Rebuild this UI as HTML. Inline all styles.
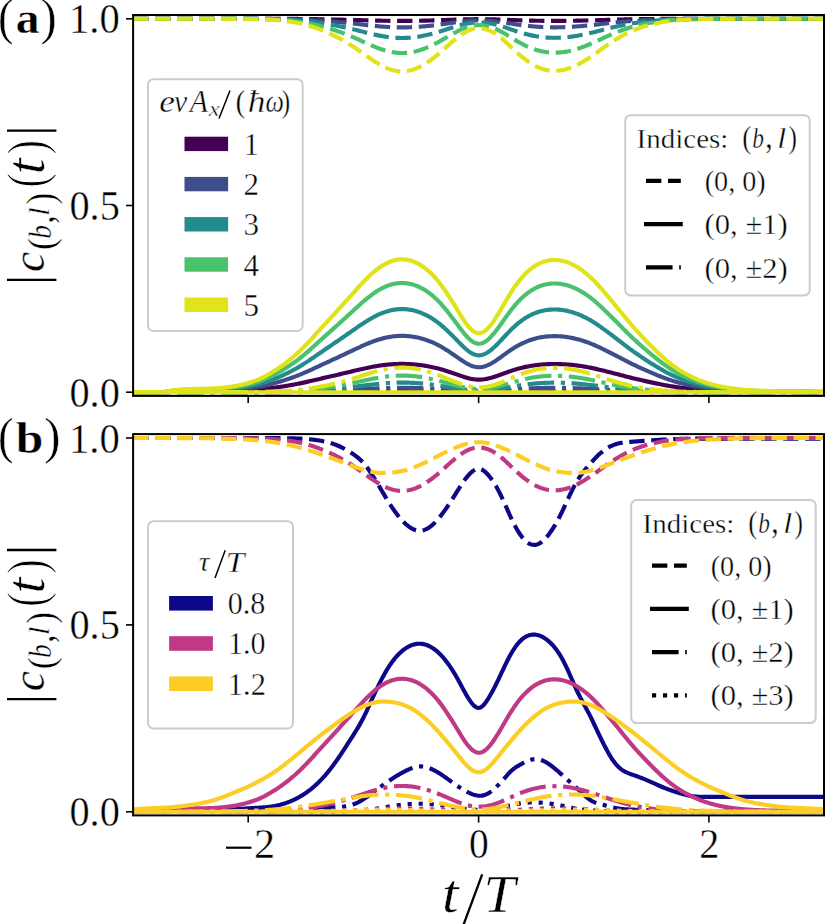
<!DOCTYPE html><html><head><meta charset="utf-8"><style>html,body{margin:0;padding:0;background:#fff;width:825px;height:924px;overflow:hidden}svg{display:block}text{font-family:"Liberation Serif",serif;fill:#000;stroke:#fff;stroke-width:0.4px;paint-order:fill stroke}</style></head><body>
<svg width="825" height="924" viewBox="0 0 825 924">
<defs><clipPath id="ca"><rect x="133.1" y="15.0" width="690.9" height="380.9"/></clipPath>
<clipPath id="cb"><rect x="133.1" y="434.1" width="690.9" height="381.3"/></clipPath></defs>
<g clip-path="url(#ca)"><path d="M133.10,18.75 L134.25,18.75 L135.40,18.75 L136.55,18.75 L137.71,18.75 L138.86,18.75 L140.01,18.75 L141.16,18.75 L142.31,18.75 L143.46,18.75 L144.62,18.75 L145.77,18.75 L146.92,18.75 L148.07,18.75 L149.22,18.75 L150.37,18.75 L151.52,18.75 L152.68,18.75 L153.83,18.75 L154.98,18.75 L156.13,18.75 L157.28,18.75 L158.43,18.75 L159.58,18.75 L160.74,18.75 L161.89,18.75 L163.04,18.75 L164.19,18.75 L165.34,18.75 L166.49,18.75 L167.64,18.75 L168.80,18.75 L169.95,18.75 L171.10,18.75 L172.25,18.75 L173.40,18.75 L174.55,18.75 L175.71,18.75 L176.86,18.75 L178.01,18.75 L179.16,18.75 L180.31,18.75 L181.46,18.75 L182.61,18.75 L183.77,18.75 L184.92,18.75 L186.07,18.75 L187.22,18.75 L188.37,18.75 L189.52,18.75 L190.68,18.75 L191.83,18.75 L192.98,18.75 L194.13,18.75 L195.28,18.75 L196.43,18.75 L197.58,18.75 L198.74,18.75 L199.89,18.75 L201.04,18.75 L202.19,18.75 L203.34,18.75 L204.49,18.75 L205.64,18.75 L206.80,18.75 L207.95,18.75 L209.10,18.75 L210.25,18.75 L211.40,18.75 L212.55,18.75 L213.71,18.75 L214.86,18.75 L216.01,18.75 L217.16,18.75 L218.31,18.75 L219.46,18.75 L220.61,18.75 L221.77,18.75 L222.92,18.75 L224.07,18.75 L225.22,18.75 L226.37,18.75 L227.52,18.75 L228.67,18.75 L229.83,18.75 L230.98,18.75 L232.13,18.75 L233.28,18.75 L234.43,18.75 L235.58,18.75 L236.73,18.76 L237.89,18.76 L239.04,18.76 L240.19,18.76 L241.34,18.76 L242.49,18.76 L243.64,18.76 L244.80,18.76 L245.95,18.76 L247.10,18.76 L248.25,18.76 L249.40,18.76 L250.55,18.76 L251.70,18.76 L252.86,18.76 L254.01,18.76 L255.16,18.77 L256.31,18.77 L257.46,18.77 L258.61,18.77 L259.76,18.77 L260.92,18.77 L262.07,18.77 L263.22,18.78 L264.37,18.78 L265.52,18.78 L266.67,18.78 L267.83,18.79 L268.98,18.79 L270.13,18.79 L271.28,18.80 L272.43,18.80 L273.58,18.80 L274.73,18.81 L275.89,18.81 L277.04,18.81 L278.19,18.82 L279.34,18.82 L280.49,18.83 L281.64,18.83 L282.80,18.84 L283.95,18.84 L285.10,18.85 L286.25,18.86 L287.40,18.86 L288.55,18.87 L289.70,18.88 L290.86,18.89 L292.01,18.89 L293.16,18.90 L294.31,18.91 L295.46,18.92 L296.61,18.93 L297.76,18.94 L298.92,18.95 L300.07,18.96 L301.22,18.97 L302.37,18.98 L303.52,19.00 L304.67,19.01 L305.82,19.02 L306.98,19.04 L308.13,19.05 L309.28,19.07 L310.43,19.08 L311.58,19.10 L312.73,19.11 L313.89,19.13 L315.04,19.15 L316.19,19.17 L317.34,19.18 L318.49,19.20 L319.64,19.22 L320.79,19.24 L321.95,19.26 L323.10,19.28 L324.25,19.30 L325.40,19.32 L326.55,19.34 L327.70,19.36 L328.86,19.39 L330.01,19.41 L331.16,19.43 L332.31,19.45 L333.46,19.48 L334.61,19.50 L335.76,19.53 L336.92,19.55 L338.07,19.58 L339.22,19.60 L340.37,19.63 L341.52,19.65 L342.67,19.68 L343.82,19.71 L344.98,19.74 L346.13,19.77 L347.28,19.79 L348.43,19.82 L349.58,19.85 L350.73,19.88 L351.88,19.91 L353.04,19.94 L354.19,19.97 L355.34,20.01 L356.49,20.04 L357.64,20.07 L358.79,20.10 L359.95,20.14 L361.10,20.17 L362.25,20.20 L363.40,20.23 L364.55,20.27 L365.70,20.30 L366.85,20.33 L368.01,20.36 L369.16,20.39 L370.31,20.42 L371.46,20.45 L372.61,20.48 L373.76,20.51 L374.92,20.54 L376.07,20.57 L377.22,20.60 L378.37,20.62 L379.52,20.65 L380.67,20.67 L381.82,20.70 L382.98,20.72 L384.13,20.74 L385.28,20.76 L386.43,20.78 L387.58,20.80 L388.73,20.81 L389.88,20.83 L391.04,20.84 L392.19,20.85 L393.34,20.87 L394.49,20.88 L395.64,20.88 L396.79,20.89 L397.95,20.90 L399.10,20.90 L400.25,20.90 L401.40,20.91 L402.55,20.91 L403.70,20.90 L404.85,20.90 L406.01,20.90 L407.16,20.89 L408.31,20.88 L409.46,20.88 L410.61,20.87 L411.76,20.85 L412.91,20.84 L414.07,20.83 L415.22,20.81 L416.37,20.80 L417.52,20.78 L418.67,20.76 L419.82,20.74 L420.98,20.72 L422.13,20.69 L423.28,20.67 L424.43,20.64 L425.58,20.62 L426.73,20.59 L427.88,20.56 L429.04,20.53 L430.19,20.50 L431.34,20.47 L432.49,20.43 L433.64,20.40 L434.79,20.36 L435.94,20.33 L437.10,20.29 L438.25,20.25 L439.40,20.21 L440.55,20.17 L441.70,20.13 L442.85,20.09 L444.01,20.05 L445.16,20.01 L446.31,19.96 L447.46,19.92 L448.61,19.88 L449.76,19.84 L450.91,19.80 L452.07,19.76 L453.22,19.72 L454.37,19.68 L455.52,19.64 L456.67,19.60 L457.82,19.56 L458.97,19.52 L460.13,19.49 L461.28,19.45 L462.43,19.42 L463.58,19.39 L464.73,19.36 L465.88,19.33 L467.04,19.30 L468.19,19.28 L469.34,19.26 L470.49,19.24 L471.64,19.22 L472.79,19.21 L473.94,19.20 L475.10,19.19 L476.25,19.18 L477.40,19.17 L478.55,19.17 L479.70,19.17 L480.85,19.18 L482.00,19.18 L483.16,19.19 L484.31,19.20 L485.46,19.21 L486.61,19.23 L487.76,19.24 L488.91,19.26 L490.06,19.29 L491.22,19.31 L492.37,19.34 L493.52,19.36 L494.67,19.39 L495.82,19.42 L496.97,19.46 L498.13,19.49 L499.28,19.53 L500.43,19.57 L501.58,19.61 L502.73,19.65 L503.88,19.69 L505.03,19.73 L506.19,19.78 L507.34,19.82 L508.49,19.87 L509.64,19.91 L510.79,19.96 L511.94,20.00 L513.10,20.05 L514.25,20.09 L515.40,20.13 L516.55,20.17 L517.70,20.21 L518.85,20.25 L520.00,20.29 L521.16,20.33 L522.31,20.37 L523.46,20.40 L524.61,20.44 L525.76,20.47 L526.91,20.51 L528.06,20.54 L529.22,20.57 L530.37,20.60 L531.52,20.62 L532.67,20.65 L533.82,20.67 L534.97,20.70 L536.12,20.72 L537.28,20.74 L538.43,20.76 L539.58,20.78 L540.73,20.79 L541.88,20.81 L543.03,20.82 L544.19,20.84 L545.34,20.85 L546.49,20.86 L547.64,20.86 L548.79,20.87 L549.94,20.88 L551.09,20.88 L552.25,20.88 L553.40,20.89 L554.55,20.89 L555.70,20.89 L556.85,20.88 L558.00,20.88 L559.15,20.88 L560.31,20.87 L561.46,20.86 L562.61,20.86 L563.76,20.85 L564.91,20.84 L566.06,20.83 L567.22,20.81 L568.37,20.80 L569.52,20.79 L570.67,20.77 L571.82,20.75 L572.97,20.74 L574.12,20.72 L575.28,20.70 L576.43,20.68 L577.58,20.66 L578.73,20.63 L579.88,20.61 L581.03,20.59 L582.18,20.56 L583.34,20.54 L584.49,20.51 L585.64,20.48 L586.79,20.46 L587.94,20.43 L589.09,20.40 L590.25,20.37 L591.40,20.34 L592.55,20.31 L593.70,20.28 L594.85,20.24 L596.00,20.21 L597.15,20.18 L598.31,20.15 L599.46,20.11 L600.61,20.08 L601.76,20.05 L602.91,20.01 L604.06,19.98 L605.21,19.95 L606.37,19.91 L607.52,19.88 L608.67,19.85 L609.82,19.82 L610.97,19.79 L612.12,19.76 L613.28,19.72 L614.43,19.69 L615.58,19.66 L616.73,19.64 L617.88,19.61 L619.03,19.58 L620.18,19.55 L621.34,19.52 L622.49,19.49 L623.64,19.47 L624.79,19.44 L625.94,19.42 L627.09,19.39 L628.25,19.37 L629.40,19.34 L630.55,19.32 L631.70,19.30 L632.85,19.28 L634.00,19.26 L635.15,19.24 L636.31,19.22 L637.46,19.20 L638.61,19.18 L639.76,19.16 L640.91,19.14 L642.06,19.13 L643.21,19.11 L644.37,19.09 L645.52,19.08 L646.67,19.06 L647.82,19.05 L648.97,19.03 L650.12,19.02 L651.28,19.01 L652.43,19.00 L653.58,18.98 L654.73,18.97 L655.88,18.96 L657.03,18.95 L658.18,18.94 L659.34,18.93 L660.49,18.92 L661.64,18.91 L662.79,18.90 L663.94,18.89 L665.09,18.88 L666.24,18.87 L667.40,18.87 L668.55,18.86 L669.70,18.85 L670.85,18.85 L672.00,18.84 L673.15,18.84 L674.31,18.83 L675.46,18.82 L676.61,18.82 L677.76,18.82 L678.91,18.81 L680.06,18.81 L681.21,18.80 L682.37,18.80 L683.52,18.80 L684.67,18.79 L685.82,18.79 L686.97,18.79 L688.12,18.79 L689.27,18.78 L690.43,18.78 L691.58,18.78 L692.73,18.78 L693.88,18.78 L695.03,18.77 L696.18,18.77 L697.34,18.77 L698.49,18.77 L699.64,18.77 L700.79,18.77 L701.94,18.76 L703.09,18.76 L704.24,18.76 L705.40,18.76 L706.55,18.76 L707.70,18.76 L708.85,18.76 L710.00,18.76 L711.15,18.76 L712.30,18.76 L713.46,18.76 L714.61,18.76 L715.76,18.76 L716.91,18.76 L718.06,18.75 L719.21,18.75 L720.37,18.75 L721.52,18.75 L722.67,18.75 L723.82,18.75 L724.97,18.75 L726.12,18.75 L727.27,18.75 L728.43,18.75 L729.58,18.75 L730.73,18.75 L731.88,18.75 L733.03,18.75 L734.18,18.75 L735.33,18.75 L736.49,18.75 L737.64,18.75 L738.79,18.75 L739.94,18.75 L741.09,18.75 L742.24,18.75 L743.39,18.75 L744.55,18.75 L745.70,18.75 L746.85,18.75 L748.00,18.75 L749.15,18.75 L750.30,18.75 L751.46,18.75 L752.61,18.75 L753.76,18.75 L754.91,18.75 L756.06,18.75 L757.21,18.75 L758.36,18.75 L759.52,18.75 L760.67,18.75 L761.82,18.75 L762.97,18.75 L764.12,18.75 L765.27,18.75 L766.42,18.75 L767.58,18.75 L768.73,18.75 L769.88,18.75 L771.03,18.75 L772.18,18.75 L773.33,18.75 L774.49,18.75 L775.64,18.75 L776.79,18.75 L777.94,18.75 L779.09,18.75 L780.24,18.75 L781.39,18.75 L782.55,18.75 L783.70,18.75 L784.85,18.75 L786.00,18.75 L787.15,18.75 L788.30,18.75 L789.46,18.75 L790.61,18.75 L791.76,18.75 L792.91,18.75 L794.06,18.75 L795.21,18.75 L796.36,18.75 L797.52,18.75 L798.67,18.75 L799.82,18.75 L800.97,18.75 L802.12,18.75 L803.27,18.75 L804.42,18.75 L805.58,18.75 L806.73,18.75 L807.88,18.75 L809.03,18.75 L810.18,18.75 L811.33,18.75 L812.49,18.75 L813.64,18.75 L814.79,18.75 L815.94,18.75 L817.09,18.75 L818.24,18.75 L819.39,18.75 L820.55,18.75 L821.70,18.75 L822.85,18.75 L824.00,18.75" fill="none" stroke="#440154" stroke-width="4.15" stroke-linejoin="round" stroke-dasharray="15.36 6.64"/>
<path d="M133.10,392.20 L134.25,392.20 L135.40,392.20 L136.55,392.20 L137.71,392.20 L138.86,392.20 L140.01,392.20 L141.16,392.20 L142.31,392.20 L143.46,392.20 L144.62,392.20 L145.77,392.20 L146.92,392.20 L148.07,392.20 L149.22,392.20 L150.37,392.20 L151.52,392.20 L152.68,392.20 L153.83,392.20 L154.98,392.20 L156.13,392.20 L157.28,392.20 L158.43,392.20 L159.58,392.20 L160.74,392.20 L161.89,392.20 L163.04,392.20 L164.19,392.17 L165.34,392.11 L166.49,392.05 L167.64,392.00 L168.80,391.96 L169.95,391.91 L171.10,391.87 L172.25,391.83 L173.40,391.80 L174.55,391.77 L175.71,391.74 L176.86,391.71 L178.01,391.68 L179.16,391.66 L180.31,391.64 L181.46,391.62 L182.61,391.60 L183.77,391.58 L184.92,391.57 L186.07,391.56 L187.22,391.54 L188.37,391.53 L189.52,391.52 L190.68,391.52 L191.83,391.51 L192.98,391.50 L194.13,391.50 L195.28,391.49 L196.43,391.49 L197.58,391.48 L198.74,391.48 L199.89,391.48 L201.04,391.47 L202.19,391.47 L203.34,391.46 L204.49,391.46 L205.64,391.45 L206.80,391.45 L207.95,391.44 L209.10,391.43 L210.25,391.43 L211.40,391.42 L212.55,391.41 L213.71,391.40 L214.86,391.38 L216.01,391.37 L217.16,391.35 L218.31,391.34 L219.46,391.32 L220.61,391.30 L221.77,391.27 L222.92,391.25 L224.07,391.22 L225.22,391.19 L226.37,391.16 L227.52,391.13 L228.67,391.10 L229.83,391.06 L230.98,391.03 L232.13,390.99 L233.28,390.95 L234.43,390.91 L235.58,390.87 L236.73,390.82 L237.89,390.78 L239.04,390.73 L240.19,390.68 L241.34,390.63 L242.49,390.57 L243.64,390.51 L244.80,390.44 L245.95,390.38 L247.10,390.31 L248.25,390.24 L249.40,390.16 L250.55,390.09 L251.70,390.01 L252.86,389.93 L254.01,389.85 L255.16,389.76 L256.31,389.67 L257.46,389.58 L258.61,389.48 L259.76,389.38 L260.92,389.27 L262.07,389.15 L263.22,389.03 L264.37,388.90 L265.52,388.77 L266.67,388.63 L267.83,388.49 L268.98,388.35 L270.13,388.20 L271.28,388.05 L272.43,387.90 L273.58,387.75 L274.73,387.60 L275.89,387.45 L277.04,387.29 L278.19,387.13 L279.34,386.96 L280.49,386.79 L281.64,386.62 L282.80,386.44 L283.95,386.26 L285.10,386.08 L286.25,385.89 L287.40,385.70 L288.55,385.50 L289.70,385.30 L290.86,385.10 L292.01,384.90 L293.16,384.69 L294.31,384.48 L295.46,384.27 L296.61,384.05 L297.76,383.82 L298.92,383.59 L300.07,383.36 L301.22,383.12 L302.37,382.87 L303.52,382.63 L304.67,382.37 L305.82,382.12 L306.98,381.87 L308.13,381.61 L309.28,381.35 L310.43,381.09 L311.58,380.82 L312.73,380.55 L313.89,380.28 L315.04,380.01 L316.19,379.74 L317.34,379.46 L318.49,379.19 L319.64,378.92 L320.79,378.66 L321.95,378.39 L323.10,378.12 L324.25,377.85 L325.40,377.59 L326.55,377.32 L327.70,377.06 L328.86,376.79 L330.01,376.52 L331.16,376.26 L332.31,375.99 L333.46,375.72 L334.61,375.46 L335.76,375.19 L336.92,374.92 L338.07,374.65 L339.22,374.38 L340.37,374.11 L341.52,373.84 L342.67,373.56 L343.82,373.29 L344.98,373.02 L346.13,372.75 L347.28,372.47 L348.43,372.20 L349.58,371.93 L350.73,371.66 L351.88,371.39 L353.04,371.12 L354.19,370.85 L355.34,370.57 L356.49,370.30 L357.64,370.03 L358.79,369.76 L359.95,369.49 L361.10,369.22 L362.25,368.96 L363.40,368.70 L364.55,368.44 L365.70,368.19 L366.85,367.95 L368.01,367.71 L369.16,367.47 L370.31,367.24 L371.46,367.01 L372.61,366.79 L373.76,366.58 L374.92,366.37 L376.07,366.17 L377.22,365.98 L378.37,365.80 L379.52,365.62 L380.67,365.45 L381.82,365.29 L382.98,365.14 L384.13,365.00 L385.28,364.86 L386.43,364.73 L387.58,364.61 L388.73,364.50 L389.88,364.40 L391.04,364.31 L392.19,364.22 L393.34,364.15 L394.49,364.09 L395.64,364.03 L396.79,363.98 L397.95,363.95 L399.10,363.92 L400.25,363.90 L401.40,363.89 L402.55,363.89 L403.70,363.90 L404.85,363.92 L406.01,363.95 L407.16,363.99 L408.31,364.03 L409.46,364.09 L410.61,364.15 L411.76,364.22 L412.91,364.31 L414.07,364.40 L415.22,364.50 L416.37,364.61 L417.52,364.73 L418.67,364.86 L419.82,365.00 L420.98,365.15 L422.13,365.31 L423.28,365.48 L424.43,365.66 L425.58,365.85 L426.73,366.05 L427.88,366.26 L429.04,366.47 L430.19,366.70 L431.34,366.93 L432.49,367.18 L433.64,367.43 L434.79,367.70 L435.94,367.97 L437.10,368.26 L438.25,368.56 L439.40,368.86 L440.55,369.19 L441.70,369.52 L442.85,369.86 L444.01,370.21 L445.16,370.56 L446.31,370.93 L447.46,371.30 L448.61,371.67 L449.76,372.05 L450.91,372.44 L452.07,372.82 L453.22,373.21 L454.37,373.60 L455.52,374.00 L456.67,374.40 L457.82,374.80 L458.97,375.21 L460.13,375.61 L461.28,376.01 L462.43,376.41 L463.58,376.79 L464.73,377.15 L465.88,377.50 L467.04,377.83 L468.19,378.14 L469.34,378.42 L470.49,378.68 L471.64,378.92 L472.79,379.12 L473.94,379.30 L475.10,379.44 L476.25,379.54 L477.40,379.61 L478.55,379.64 L479.70,379.63 L480.85,379.59 L482.00,379.51 L483.16,379.39 L484.31,379.24 L485.46,379.06 L486.61,378.85 L487.76,378.62 L488.91,378.35 L490.06,378.07 L491.22,377.76 L492.37,377.43 L493.52,377.08 L494.67,376.72 L495.82,376.34 L496.97,375.95 L498.13,375.55 L499.28,375.15 L500.43,374.73 L501.58,374.32 L502.73,373.90 L503.88,373.47 L505.03,373.05 L506.19,372.63 L507.34,372.21 L508.49,371.80 L509.64,371.39 L510.79,371.00 L511.94,370.61 L513.10,370.23 L514.25,369.87 L515.40,369.52 L516.55,369.18 L517.70,368.85 L518.85,368.53 L520.00,368.23 L521.16,367.94 L522.31,367.65 L523.46,367.38 L524.61,367.12 L525.76,366.87 L526.91,366.64 L528.06,366.41 L529.22,366.19 L530.37,365.99 L531.52,365.80 L532.67,365.61 L533.82,365.44 L534.97,365.28 L536.12,365.13 L537.28,364.99 L538.43,364.86 L539.58,364.74 L540.73,364.63 L541.88,364.53 L543.03,364.44 L544.19,364.35 L545.34,364.28 L546.49,364.22 L547.64,364.16 L548.79,364.12 L549.94,364.08 L551.09,364.05 L552.25,364.03 L553.40,364.02 L554.55,364.02 L555.70,364.02 L556.85,364.03 L558.00,364.05 L559.15,364.08 L560.31,364.12 L561.46,364.16 L562.61,364.21 L563.76,364.27 L564.91,364.34 L566.06,364.42 L567.22,364.50 L568.37,364.59 L569.52,364.69 L570.67,364.79 L571.82,364.90 L572.97,365.02 L574.12,365.15 L575.28,365.28 L576.43,365.42 L577.58,365.57 L578.73,365.73 L579.88,365.89 L581.03,366.06 L582.18,366.24 L583.34,366.42 L584.49,366.61 L585.64,366.81 L586.79,367.01 L587.94,367.22 L589.09,367.43 L590.25,367.66 L591.40,367.89 L592.55,368.12 L593.70,368.36 L594.85,368.61 L596.00,368.87 L597.15,369.13 L598.31,369.40 L599.46,369.68 L600.61,369.95 L601.76,370.24 L602.91,370.52 L604.06,370.81 L605.21,371.10 L606.37,371.39 L607.52,371.68 L608.67,371.97 L609.82,372.26 L610.97,372.55 L612.12,372.85 L613.28,373.14 L614.43,373.44 L615.58,373.73 L616.73,374.03 L617.88,374.33 L619.03,374.63 L620.18,374.94 L621.34,375.24 L622.49,375.54 L623.64,375.85 L624.79,376.15 L625.94,376.45 L627.09,376.75 L628.25,377.05 L629.40,377.34 L630.55,377.63 L631.70,377.91 L632.85,378.19 L634.00,378.47 L635.15,378.75 L636.31,379.02 L637.46,379.29 L638.61,379.56 L639.76,379.82 L640.91,380.09 L642.06,380.35 L643.21,380.61 L644.37,380.87 L645.52,381.13 L646.67,381.38 L647.82,381.64 L648.97,381.89 L650.12,382.14 L651.28,382.39 L652.43,382.63 L653.58,382.88 L654.73,383.12 L655.88,383.36 L657.03,383.60 L658.18,383.84 L659.34,384.07 L660.49,384.30 L661.64,384.52 L662.79,384.74 L663.94,384.96 L665.09,385.18 L666.24,385.39 L667.40,385.60 L668.55,385.80 L669.70,386.00 L670.85,386.19 L672.00,386.38 L673.15,386.56 L674.31,386.74 L675.46,386.92 L676.61,387.09 L677.76,387.25 L678.91,387.41 L680.06,387.57 L681.21,387.72 L682.37,387.86 L683.52,388.00 L684.67,388.14 L685.82,388.28 L686.97,388.41 L688.12,388.54 L689.27,388.66 L690.43,388.79 L691.58,388.91 L692.73,389.03 L693.88,389.14 L695.03,389.25 L696.18,389.36 L697.34,389.47 L698.49,389.57 L699.64,389.67 L700.79,389.77 L701.94,389.86 L703.09,389.95 L704.24,390.04 L705.40,390.12 L706.55,390.20 L707.70,390.28 L708.85,390.35 L710.00,390.42 L711.15,390.49 L712.30,390.56 L713.46,390.62 L714.61,390.69 L715.76,390.75 L716.91,390.80 L718.06,390.86 L719.21,390.92 L720.37,390.97 L721.52,391.02 L722.67,391.07 L723.82,391.11 L724.97,391.16 L726.12,391.20 L727.27,391.24 L728.43,391.28 L729.58,391.32 L730.73,391.36 L731.88,391.39 L733.03,391.43 L734.18,391.46 L735.33,391.49 L736.49,391.52 L737.64,391.55 L738.79,391.57 L739.94,391.60 L741.09,391.62 L742.24,391.65 L743.39,391.67 L744.55,391.69 L745.70,391.71 L746.85,391.73 L748.00,391.74 L749.15,391.76 L750.30,391.78 L751.46,391.79 L752.61,391.81 L753.76,391.82 L754.91,391.83 L756.06,391.84 L757.21,391.86 L758.36,391.87 L759.52,391.88 L760.67,391.89 L761.82,391.89 L762.97,391.90 L764.12,391.91 L765.27,391.92 L766.42,391.93 L767.58,391.93 L768.73,391.94 L769.88,391.94 L771.03,391.95 L772.18,391.95 L773.33,391.96 L774.49,391.96 L775.64,391.97 L776.79,391.97 L777.94,391.98 L779.09,391.98 L780.24,391.98 L781.39,391.99 L782.55,391.99 L783.70,391.99 L784.85,391.99 L786.00,392.00 L787.15,392.00 L788.30,392.00 L789.46,392.01 L790.61,392.01 L791.76,392.01 L792.91,392.02 L794.06,392.02 L795.21,392.02 L796.36,392.03 L797.52,392.03 L798.67,392.03 L799.82,392.04 L800.97,392.04 L802.12,392.04 L803.27,392.05 L804.42,392.05 L805.58,392.06 L806.73,392.06 L807.88,392.06 L809.03,392.07 L810.18,392.07 L811.33,392.08 L812.49,392.08 L813.64,392.08 L814.79,392.09 L815.94,392.09 L817.09,392.10 L818.24,392.10 L819.39,392.10 L820.55,392.11 L821.70,392.11 L822.85,392.12 L824.00,392.12" fill="none" stroke="#440154" stroke-width="4.15" stroke-linejoin="round" stroke-linecap="square"/>
<path d="M133.10,392.20 L134.25,392.20 L135.40,392.20 L136.55,392.20 L137.71,392.20 L138.86,392.20 L140.01,392.20 L141.16,392.20 L142.31,392.20 L143.46,392.20 L144.62,392.20 L145.77,392.20 L146.92,392.20 L148.07,392.20 L149.22,392.20 L150.37,392.20 L151.52,392.20 L152.68,392.20 L153.83,392.20 L154.98,392.20 L156.13,392.20 L157.28,392.20 L158.43,392.20 L159.58,392.20 L160.74,392.20 L161.89,392.20 L163.04,392.20 L164.19,392.20 L165.34,392.20 L166.49,392.20 L167.64,392.20 L168.80,392.20 L169.95,392.20 L171.10,392.20 L172.25,392.20 L173.40,392.20 L174.55,392.20 L175.71,392.20 L176.86,392.20 L178.01,392.20 L179.16,392.20 L180.31,392.20 L181.46,392.20 L182.61,392.20 L183.77,392.20 L184.92,392.20 L186.07,392.20 L187.22,392.20 L188.37,392.20 L189.52,392.20 L190.68,392.20 L191.83,392.20 L192.98,392.20 L194.13,392.20 L195.28,392.20 L196.43,392.20 L197.58,392.20 L198.74,392.20 L199.89,392.20 L201.04,392.20 L202.19,392.20 L203.34,392.20 L204.49,392.20 L205.64,392.20 L206.80,392.20 L207.95,392.20 L209.10,392.20 L210.25,392.20 L211.40,392.20 L212.55,392.20 L213.71,392.20 L214.86,392.20 L216.01,392.20 L217.16,392.20 L218.31,392.20 L219.46,392.20 L220.61,392.20 L221.77,392.20 L222.92,392.20 L224.07,392.20 L225.22,392.20 L226.37,392.20 L227.52,392.20 L228.67,392.20 L229.83,392.20 L230.98,392.20 L232.13,392.20 L233.28,392.20 L234.43,392.20 L235.58,392.20 L236.73,392.20 L237.89,392.20 L239.04,392.20 L240.19,392.20 L241.34,392.20 L242.49,392.20 L243.64,392.20 L244.80,392.20 L245.95,392.20 L247.10,392.20 L248.25,392.19 L249.40,392.19 L250.55,392.19 L251.70,392.19 L252.86,392.19 L254.01,392.19 L255.16,392.19 L256.31,392.19 L257.46,392.19 L258.61,392.19 L259.76,392.19 L260.92,392.19 L262.07,392.19 L263.22,392.19 L264.37,392.18 L265.52,392.18 L266.67,392.18 L267.83,392.18 L268.98,392.18 L270.13,392.18 L271.28,392.18 L272.43,392.17 L273.58,392.17 L274.73,392.17 L275.89,392.17 L277.04,392.17 L278.19,392.16 L279.34,392.16 L280.49,392.16 L281.64,392.16 L282.80,392.15 L283.95,392.15 L285.10,392.15 L286.25,392.14 L287.40,392.14 L288.55,392.14 L289.70,392.13 L290.86,392.13 L292.01,392.13 L293.16,392.12 L294.31,392.12 L295.46,392.11 L296.61,392.11 L297.76,392.10 L298.92,392.10 L300.07,392.09 L301.22,392.09 L302.37,392.08 L303.52,392.07 L304.67,392.07 L305.82,392.06 L306.98,392.05 L308.13,392.04 L309.28,392.04 L310.43,392.03 L311.58,392.02 L312.73,392.01 L313.89,392.00 L315.04,391.99 L316.19,391.98 L317.34,391.97 L318.49,391.96 L319.64,391.95 L320.79,391.94 L321.95,391.93 L323.10,391.92 L324.25,391.91 L325.40,391.90 L326.55,391.89 L327.70,391.88 L328.86,391.87 L330.01,391.86 L331.16,391.85 L332.31,391.83 L333.46,391.82 L334.61,391.81 L335.76,391.80 L336.92,391.78 L338.07,391.77 L339.22,391.76 L340.37,391.74 L341.52,391.73 L342.67,391.72 L343.82,391.70 L344.98,391.69 L346.13,391.67 L347.28,391.66 L348.43,391.64 L349.58,391.63 L350.73,391.61 L351.88,391.60 L353.04,391.58 L354.19,391.57 L355.34,391.55 L356.49,391.53 L357.64,391.52 L358.79,391.50 L359.95,391.48 L361.10,391.46 L362.25,391.45 L363.40,391.43 L364.55,391.41 L365.70,391.40 L366.85,391.38 L368.01,391.36 L369.16,391.35 L370.31,391.33 L371.46,391.32 L372.61,391.30 L373.76,391.29 L374.92,391.27 L376.07,391.26 L377.22,391.24 L378.37,391.23 L379.52,391.22 L380.67,391.20 L381.82,391.19 L382.98,391.18 L384.13,391.17 L385.28,391.16 L386.43,391.15 L387.58,391.14 L388.73,391.13 L389.88,391.12 L391.04,391.12 L392.19,391.11 L393.34,391.10 L394.49,391.10 L395.64,391.10 L396.79,391.09 L397.95,391.09 L399.10,391.09 L400.25,391.08 L401.40,391.08 L402.55,391.08 L403.70,391.09 L404.85,391.09 L406.01,391.09 L407.16,391.09 L408.31,391.10 L409.46,391.10 L410.61,391.10 L411.76,391.11 L412.91,391.12 L414.07,391.12 L415.22,391.13 L416.37,391.14 L417.52,391.15 L418.67,391.16 L419.82,391.17 L420.98,391.18 L422.13,391.19 L423.28,391.21 L424.43,391.22 L425.58,391.23 L426.73,391.25 L427.88,391.26 L429.04,391.28 L430.19,391.29 L431.34,391.31 L432.49,391.33 L433.64,391.35 L434.79,391.36 L435.94,391.38 L437.10,391.40 L438.25,391.42 L439.40,391.44 L440.55,391.46 L441.70,391.48 L442.85,391.50 L444.01,391.53 L445.16,391.55 L446.31,391.57 L447.46,391.59 L448.61,391.61 L449.76,391.63 L450.91,391.66 L452.07,391.68 L453.22,391.70 L454.37,391.72 L455.52,391.74 L456.67,391.76 L457.82,391.78 L458.97,391.80 L460.13,391.82 L461.28,391.84 L462.43,391.85 L463.58,391.87 L464.73,391.88 L465.88,391.90 L467.04,391.91 L468.19,391.92 L469.34,391.94 L470.49,391.95 L471.64,391.95 L472.79,391.96 L473.94,391.97 L475.10,391.97 L476.25,391.98 L477.40,391.98 L478.55,391.98 L479.70,391.98 L480.85,391.98 L482.00,391.98 L483.16,391.97 L484.31,391.97 L485.46,391.96 L486.61,391.95 L487.76,391.94 L488.91,391.93 L490.06,391.92 L491.22,391.91 L492.37,391.90 L493.52,391.88 L494.67,391.87 L495.82,391.85 L496.97,391.83 L498.13,391.81 L499.28,391.80 L500.43,391.78 L501.58,391.75 L502.73,391.73 L503.88,391.71 L505.03,391.69 L506.19,391.67 L507.34,391.64 L508.49,391.62 L509.64,391.60 L510.79,391.57 L511.94,391.55 L513.10,391.53 L514.25,391.51 L515.40,391.48 L516.55,391.46 L517.70,391.44 L518.85,391.42 L520.00,391.40 L521.16,391.38 L522.31,391.36 L523.46,391.34 L524.61,391.32 L525.76,391.31 L526.91,391.29 L528.06,391.27 L529.22,391.26 L530.37,391.24 L531.52,391.23 L532.67,391.22 L533.82,391.20 L534.97,391.19 L536.12,391.18 L537.28,391.17 L538.43,391.16 L539.58,391.15 L540.73,391.14 L541.88,391.13 L543.03,391.13 L544.19,391.12 L545.34,391.11 L546.49,391.11 L547.64,391.11 L548.79,391.10 L549.94,391.10 L551.09,391.10 L552.25,391.10 L553.40,391.09 L554.55,391.09 L555.70,391.09 L556.85,391.10 L558.00,391.10 L559.15,391.10 L560.31,391.10 L561.46,391.11 L562.61,391.11 L563.76,391.11 L564.91,391.12 L566.06,391.13 L567.22,391.13 L568.37,391.14 L569.52,391.15 L570.67,391.15 L571.82,391.16 L572.97,391.17 L574.12,391.18 L575.28,391.19 L576.43,391.20 L577.58,391.21 L578.73,391.22 L579.88,391.24 L581.03,391.25 L582.18,391.26 L583.34,391.27 L584.49,391.29 L585.64,391.30 L586.79,391.32 L587.94,391.33 L589.09,391.35 L590.25,391.36 L591.40,391.38 L592.55,391.39 L593.70,391.41 L594.85,391.43 L596.00,391.44 L597.15,391.46 L598.31,391.48 L599.46,391.49 L600.61,391.51 L601.76,391.53 L602.91,391.55 L604.06,391.56 L605.21,391.58 L606.37,391.60 L607.52,391.61 L608.67,391.63 L609.82,391.65 L610.97,391.66 L612.12,391.68 L613.28,391.69 L614.43,391.71 L615.58,391.73 L616.73,391.74 L617.88,391.76 L619.03,391.77 L620.18,391.79 L621.34,391.80 L622.49,391.81 L623.64,391.83 L624.79,391.84 L625.94,391.85 L627.09,391.87 L628.25,391.88 L629.40,391.89 L630.55,391.90 L631.70,391.92 L632.85,391.93 L634.00,391.94 L635.15,391.95 L636.31,391.96 L637.46,391.97 L638.61,391.98 L639.76,391.99 L640.91,392.00 L642.06,392.00 L643.21,392.01 L644.37,392.02 L645.52,392.03 L646.67,392.04 L647.82,392.04 L648.97,392.05 L650.12,392.06 L651.28,392.07 L652.43,392.07 L653.58,392.08 L654.73,392.09 L655.88,392.09 L657.03,392.10 L658.18,392.10 L659.34,392.11 L660.49,392.11 L661.64,392.12 L662.79,392.12 L663.94,392.13 L665.09,392.13 L666.24,392.14 L667.40,392.14 L668.55,392.14 L669.70,392.15 L670.85,392.15 L672.00,392.15 L673.15,392.16 L674.31,392.16 L675.46,392.16 L676.61,392.16 L677.76,392.17 L678.91,392.17 L680.06,392.17 L681.21,392.17 L682.37,392.17 L683.52,392.18 L684.67,392.18 L685.82,392.18 L686.97,392.18 L688.12,392.18 L689.27,392.18 L690.43,392.18 L691.58,392.18 L692.73,392.19 L693.88,392.19 L695.03,392.19 L696.18,392.19 L697.34,392.19 L698.49,392.19 L699.64,392.19 L700.79,392.19 L701.94,392.19 L703.09,392.19 L704.24,392.19 L705.40,392.19 L706.55,392.19 L707.70,392.19 L708.85,392.20 L710.00,392.20 L711.15,392.20 L712.30,392.20 L713.46,392.20 L714.61,392.20 L715.76,392.20 L716.91,392.20 L718.06,392.20 L719.21,392.20 L720.37,392.20 L721.52,392.20 L722.67,392.20 L723.82,392.20 L724.97,392.20 L726.12,392.20 L727.27,392.20 L728.43,392.20 L729.58,392.20 L730.73,392.20 L731.88,392.20 L733.03,392.20 L734.18,392.20 L735.33,392.20 L736.49,392.20 L737.64,392.20 L738.79,392.20 L739.94,392.20 L741.09,392.20 L742.24,392.20 L743.39,392.20 L744.55,392.20 L745.70,392.20 L746.85,392.20 L748.00,392.20 L749.15,392.20 L750.30,392.20 L751.46,392.20 L752.61,392.20 L753.76,392.20 L754.91,392.20 L756.06,392.20 L757.21,392.20 L758.36,392.20 L759.52,392.20 L760.67,392.20 L761.82,392.20 L762.97,392.20 L764.12,392.20 L765.27,392.20 L766.42,392.20 L767.58,392.20 L768.73,392.20 L769.88,392.20 L771.03,392.20 L772.18,392.20 L773.33,392.20 L774.49,392.20 L775.64,392.20 L776.79,392.20 L777.94,392.20 L779.09,392.20 L780.24,392.20 L781.39,392.20 L782.55,392.20 L783.70,392.20 L784.85,392.20 L786.00,392.20 L787.15,392.20 L788.30,392.20 L789.46,392.20 L790.61,392.20 L791.76,392.20 L792.91,392.20 L794.06,392.20 L795.21,392.20 L796.36,392.20 L797.52,392.20 L798.67,392.20 L799.82,392.20 L800.97,392.20 L802.12,392.20 L803.27,392.20 L804.42,392.20 L805.58,392.20 L806.73,392.20 L807.88,392.20 L809.03,392.20 L810.18,392.20 L811.33,392.20 L812.49,392.20 L813.64,392.20 L814.79,392.20 L815.94,392.20 L817.09,392.20 L818.24,392.20 L819.39,392.20 L820.55,392.20 L821.70,392.20 L822.85,392.20 L824.00,392.20" fill="none" stroke="#440154" stroke-width="4.15" stroke-linejoin="round" stroke-dasharray="26.56 6.64 4.15 6.64"/>
<path d="M133.10,18.75 L134.25,18.75 L135.40,18.75 L136.55,18.75 L137.71,18.75 L138.86,18.75 L140.01,18.75 L141.16,18.75 L142.31,18.75 L143.46,18.75 L144.62,18.75 L145.77,18.75 L146.92,18.75 L148.07,18.75 L149.22,18.75 L150.37,18.75 L151.52,18.75 L152.68,18.75 L153.83,18.75 L154.98,18.75 L156.13,18.75 L157.28,18.75 L158.43,18.75 L159.58,18.75 L160.74,18.75 L161.89,18.75 L163.04,18.75 L164.19,18.75 L165.34,18.75 L166.49,18.75 L167.64,18.75 L168.80,18.75 L169.95,18.75 L171.10,18.75 L172.25,18.75 L173.40,18.75 L174.55,18.75 L175.71,18.75 L176.86,18.75 L178.01,18.75 L179.16,18.75 L180.31,18.75 L181.46,18.75 L182.61,18.75 L183.77,18.75 L184.92,18.75 L186.07,18.75 L187.22,18.75 L188.37,18.75 L189.52,18.75 L190.68,18.75 L191.83,18.76 L192.98,18.76 L194.13,18.76 L195.28,18.76 L196.43,18.76 L197.58,18.76 L198.74,18.76 L199.89,18.76 L201.04,18.76 L202.19,18.76 L203.34,18.76 L204.49,18.76 L205.64,18.76 L206.80,18.76 L207.95,18.76 L209.10,18.76 L210.25,18.76 L211.40,18.76 L212.55,18.76 L213.71,18.76 L214.86,18.76 L216.01,18.76 L217.16,18.76 L218.31,18.76 L219.46,18.76 L220.61,18.76 L221.77,18.76 L222.92,18.76 L224.07,18.76 L225.22,18.76 L226.37,18.76 L227.52,18.76 L228.67,18.76 L229.83,18.76 L230.98,18.76 L232.13,18.77 L233.28,18.77 L234.43,18.77 L235.58,18.77 L236.73,18.77 L237.89,18.77 L239.04,18.77 L240.19,18.77 L241.34,18.78 L242.49,18.78 L243.64,18.78 L244.80,18.78 L245.95,18.79 L247.10,18.79 L248.25,18.79 L249.40,18.79 L250.55,18.80 L251.70,18.80 L252.86,18.80 L254.01,18.81 L255.16,18.81 L256.31,18.82 L257.46,18.82 L258.61,18.83 L259.76,18.83 L260.92,18.84 L262.07,18.85 L263.22,18.86 L264.37,18.87 L265.52,18.87 L266.67,18.89 L267.83,18.90 L268.98,18.91 L270.13,18.92 L271.28,18.93 L272.43,18.95 L273.58,18.96 L274.73,18.97 L275.89,18.99 L277.04,19.01 L278.19,19.02 L279.34,19.04 L280.49,19.06 L281.64,19.08 L282.80,19.10 L283.95,19.12 L285.10,19.15 L286.25,19.17 L287.40,19.20 L288.55,19.23 L289.70,19.26 L290.86,19.28 L292.01,19.32 L293.16,19.35 L294.31,19.38 L295.46,19.42 L296.61,19.46 L297.76,19.49 L298.92,19.54 L300.07,19.58 L301.22,19.63 L302.37,19.67 L303.52,19.72 L304.67,19.78 L305.82,19.83 L306.98,19.88 L308.13,19.94 L309.28,20.00 L310.43,20.06 L311.58,20.13 L312.73,20.19 L313.89,20.26 L315.04,20.33 L316.19,20.40 L317.34,20.48 L318.49,20.55 L319.64,20.63 L320.79,20.70 L321.95,20.78 L323.10,20.86 L324.25,20.94 L325.40,21.02 L326.55,21.11 L327.70,21.19 L328.86,21.28 L330.01,21.37 L331.16,21.46 L332.31,21.55 L333.46,21.64 L334.61,21.74 L335.76,21.84 L336.92,21.94 L338.07,22.04 L339.22,22.14 L340.37,22.24 L341.52,22.35 L342.67,22.46 L343.82,22.57 L344.98,22.68 L346.13,22.79 L347.28,22.91 L348.43,23.03 L349.58,23.14 L350.73,23.26 L351.88,23.38 L353.04,23.51 L354.19,23.63 L355.34,23.76 L356.49,23.89 L357.64,24.02 L358.79,24.15 L359.95,24.28 L361.10,24.41 L362.25,24.55 L363.40,24.68 L364.55,24.81 L365.70,24.94 L366.85,25.07 L368.01,25.19 L369.16,25.32 L370.31,25.44 L371.46,25.57 L372.61,25.69 L373.76,25.81 L374.92,25.92 L376.07,26.04 L377.22,26.15 L378.37,26.25 L379.52,26.35 L380.67,26.45 L381.82,26.55 L382.98,26.64 L384.13,26.72 L385.28,26.80 L386.43,26.88 L387.58,26.95 L388.73,27.02 L389.88,27.08 L391.04,27.14 L392.19,27.19 L393.34,27.24 L394.49,27.28 L395.64,27.31 L396.79,27.34 L397.95,27.36 L399.10,27.38 L400.25,27.39 L401.40,27.39 L402.55,27.39 L403.70,27.39 L404.85,27.38 L406.01,27.36 L407.16,27.34 L408.31,27.31 L409.46,27.27 L410.61,27.24 L411.76,27.19 L412.91,27.14 L414.07,27.08 L415.22,27.02 L416.37,26.95 L417.52,26.88 L418.67,26.80 L419.82,26.72 L420.98,26.63 L422.13,26.53 L423.28,26.44 L424.43,26.33 L425.58,26.22 L426.73,26.11 L427.88,25.99 L429.04,25.87 L430.19,25.74 L431.34,25.61 L432.49,25.48 L433.64,25.34 L434.79,25.20 L435.94,25.05 L437.10,24.90 L438.25,24.75 L439.40,24.59 L440.55,24.43 L441.70,24.27 L442.85,24.10 L444.01,23.93 L445.16,23.76 L446.31,23.59 L447.46,23.43 L448.61,23.26 L449.76,23.09 L450.91,22.93 L452.07,22.76 L453.22,22.60 L454.37,22.44 L455.52,22.29 L456.67,22.13 L457.82,21.98 L458.97,21.83 L460.13,21.68 L461.28,21.54 L462.43,21.41 L463.58,21.28 L464.73,21.16 L465.88,21.05 L467.04,20.95 L468.19,20.86 L469.34,20.77 L470.49,20.69 L471.64,20.63 L472.79,20.57 L473.94,20.52 L475.10,20.48 L476.25,20.45 L477.40,20.44 L478.55,20.43 L479.70,20.43 L480.85,20.44 L482.00,20.46 L483.16,20.50 L484.31,20.54 L485.46,20.59 L486.61,20.65 L487.76,20.71 L488.91,20.79 L490.06,20.88 L491.22,20.97 L492.37,21.07 L493.52,21.19 L494.67,21.30 L495.82,21.43 L496.97,21.56 L498.13,21.70 L499.28,21.85 L500.43,22.00 L501.58,22.16 L502.73,22.33 L503.88,22.50 L505.03,22.67 L506.19,22.84 L507.34,23.02 L508.49,23.20 L509.64,23.38 L510.79,23.56 L511.94,23.74 L513.10,23.92 L514.25,24.09 L515.40,24.26 L516.55,24.43 L517.70,24.60 L518.85,24.76 L520.00,24.92 L521.16,25.07 L522.31,25.22 L523.46,25.37 L524.61,25.51 L525.76,25.65 L526.91,25.78 L528.06,25.90 L529.22,26.03 L530.37,26.14 L531.52,26.25 L532.67,26.36 L533.82,26.46 L534.97,26.55 L536.12,26.64 L537.28,26.73 L538.43,26.80 L539.58,26.88 L540.73,26.94 L541.88,27.00 L543.03,27.06 L544.19,27.11 L545.34,27.15 L546.49,27.19 L547.64,27.23 L548.79,27.26 L549.94,27.28 L551.09,27.30 L552.25,27.31 L553.40,27.32 L554.55,27.32 L555.70,27.31 L556.85,27.31 L558.00,27.29 L559.15,27.28 L560.31,27.25 L561.46,27.23 L562.61,27.20 L563.76,27.16 L564.91,27.12 L566.06,27.07 L567.22,27.02 L568.37,26.97 L569.52,26.91 L570.67,26.85 L571.82,26.78 L572.97,26.71 L574.12,26.63 L575.28,26.55 L576.43,26.47 L577.58,26.38 L578.73,26.29 L579.88,26.20 L581.03,26.10 L582.18,26.00 L583.34,25.90 L584.49,25.79 L585.64,25.68 L586.79,25.57 L587.94,25.46 L589.09,25.34 L590.25,25.22 L591.40,25.10 L592.55,24.97 L593.70,24.85 L594.85,24.72 L596.00,24.59 L597.15,24.46 L598.31,24.32 L599.46,24.19 L600.61,24.05 L601.76,23.92 L602.91,23.78 L604.06,23.65 L605.21,23.52 L606.37,23.39 L607.52,23.26 L608.67,23.13 L609.82,23.00 L610.97,22.88 L612.12,22.75 L613.28,22.63 L614.43,22.51 L615.58,22.39 L616.73,22.27 L617.88,22.16 L619.03,22.04 L620.18,21.93 L621.34,21.82 L622.49,21.71 L623.64,21.60 L624.79,21.50 L625.94,21.39 L627.09,21.29 L628.25,21.20 L629.40,21.10 L630.55,21.01 L631.70,20.92 L632.85,20.84 L634.00,20.76 L635.15,20.68 L636.31,20.60 L637.46,20.52 L638.61,20.45 L639.76,20.38 L640.91,20.31 L642.06,20.24 L643.21,20.18 L644.37,20.11 L645.52,20.05 L646.67,19.99 L647.82,19.94 L648.97,19.88 L650.12,19.83 L651.28,19.77 L652.43,19.72 L653.58,19.67 L654.73,19.62 L655.88,19.58 L657.03,19.54 L658.18,19.49 L659.34,19.45 L660.49,19.41 L661.64,19.38 L662.79,19.34 L663.94,19.31 L665.09,19.27 L666.24,19.24 L667.40,19.21 L668.55,19.18 L669.70,19.16 L670.85,19.13 L672.00,19.11 L673.15,19.09 L674.31,19.07 L675.46,19.05 L676.61,19.03 L677.76,19.01 L678.91,18.99 L680.06,18.98 L681.21,18.96 L682.37,18.95 L683.52,18.94 L684.67,18.92 L685.82,18.91 L686.97,18.90 L688.12,18.89 L689.27,18.88 L690.43,18.87 L691.58,18.86 L692.73,18.86 L693.88,18.85 L695.03,18.84 L696.18,18.84 L697.34,18.83 L698.49,18.82 L699.64,18.82 L700.79,18.81 L701.94,18.81 L703.09,18.80 L704.24,18.80 L705.40,18.80 L706.55,18.79 L707.70,18.79 L708.85,18.79 L710.00,18.78 L711.15,18.78 L712.30,18.78 L713.46,18.78 L714.61,18.77 L715.76,18.77 L716.91,18.77 L718.06,18.77 L719.21,18.77 L720.37,18.77 L721.52,18.76 L722.67,18.76 L723.82,18.76 L724.97,18.76 L726.12,18.76 L727.27,18.76 L728.43,18.76 L729.58,18.76 L730.73,18.76 L731.88,18.76 L733.03,18.76 L734.18,18.76 L735.33,18.76 L736.49,18.75 L737.64,18.75 L738.79,18.75 L739.94,18.75 L741.09,18.75 L742.24,18.75 L743.39,18.75 L744.55,18.75 L745.70,18.75 L746.85,18.75 L748.00,18.75 L749.15,18.75 L750.30,18.75 L751.46,18.75 L752.61,18.75 L753.76,18.75 L754.91,18.75 L756.06,18.75 L757.21,18.75 L758.36,18.75 L759.52,18.75 L760.67,18.75 L761.82,18.75 L762.97,18.75 L764.12,18.75 L765.27,18.75 L766.42,18.75 L767.58,18.75 L768.73,18.75 L769.88,18.75 L771.03,18.75 L772.18,18.75 L773.33,18.75 L774.49,18.75 L775.64,18.75 L776.79,18.75 L777.94,18.75 L779.09,18.75 L780.24,18.75 L781.39,18.75 L782.55,18.75 L783.70,18.75 L784.85,18.75 L786.00,18.75 L787.15,18.75 L788.30,18.75 L789.46,18.75 L790.61,18.75 L791.76,18.75 L792.91,18.75 L794.06,18.75 L795.21,18.75 L796.36,18.75 L797.52,18.75 L798.67,18.75 L799.82,18.75 L800.97,18.75 L802.12,18.75 L803.27,18.75 L804.42,18.75 L805.58,18.75 L806.73,18.75 L807.88,18.75 L809.03,18.75 L810.18,18.75 L811.33,18.75 L812.49,18.75 L813.64,18.75 L814.79,18.75 L815.94,18.75 L817.09,18.75 L818.24,18.75 L819.39,18.75 L820.55,18.75 L821.70,18.75 L822.85,18.75 L824.00,18.75" fill="none" stroke="#3d4e8a" stroke-width="4.15" stroke-linejoin="round" stroke-dasharray="15.36 6.64"/>
<path d="M133.10,392.20 L134.25,392.20 L135.40,392.20 L136.55,392.20 L137.71,392.20 L138.86,392.20 L140.01,392.20 L141.16,392.20 L142.31,392.20 L143.46,392.20 L144.62,392.20 L145.77,392.20 L146.92,392.20 L148.07,392.20 L149.22,392.20 L150.37,392.20 L151.52,392.20 L152.68,392.20 L153.83,392.20 L154.98,392.20 L156.13,392.20 L157.28,392.20 L158.43,392.20 L159.58,392.20 L160.74,392.20 L161.89,392.20 L163.04,392.20 L164.19,392.13 L165.34,392.02 L166.49,391.91 L167.64,391.81 L168.80,391.72 L169.95,391.63 L171.10,391.55 L172.25,391.47 L173.40,391.40 L174.55,391.34 L175.71,391.28 L176.86,391.22 L178.01,391.17 L179.16,391.12 L180.31,391.08 L181.46,391.04 L182.61,391.00 L183.77,390.97 L184.92,390.94 L186.07,390.92 L187.22,390.90 L188.37,390.87 L189.52,390.86 L190.68,390.84 L191.83,390.83 L192.98,390.81 L194.13,390.80 L195.28,390.79 L196.43,390.78 L197.58,390.77 L198.74,390.77 L199.89,390.76 L201.04,390.75 L202.19,390.74 L203.34,390.73 L204.49,390.72 L205.64,390.71 L206.80,390.70 L207.95,390.69 L209.10,390.68 L210.25,390.66 L211.40,390.64 L212.55,390.62 L213.71,390.60 L214.86,390.58 L216.01,390.55 L217.16,390.52 L218.31,390.48 L219.46,390.44 L220.61,390.40 L221.77,390.36 L222.92,390.31 L224.07,390.25 L225.22,390.20 L226.37,390.14 L227.52,390.07 L228.67,390.01 L229.83,389.94 L230.98,389.87 L232.13,389.79 L233.28,389.71 L234.43,389.63 L235.58,389.55 L236.73,389.46 L237.89,389.37 L239.04,389.28 L240.19,389.18 L241.34,389.07 L242.49,388.95 L243.64,388.83 L244.80,388.71 L245.95,388.58 L247.10,388.44 L248.25,388.30 L249.40,388.15 L250.55,388.00 L251.70,387.84 L252.86,387.68 L254.01,387.52 L255.16,387.34 L256.31,387.17 L257.46,386.99 L258.61,386.79 L259.76,386.59 L260.92,386.37 L262.07,386.14 L263.22,385.89 L264.37,385.64 L265.52,385.37 L266.67,385.10 L267.83,384.82 L268.98,384.53 L270.13,384.24 L271.28,383.95 L272.43,383.65 L273.58,383.36 L274.73,383.05 L275.89,382.74 L277.04,382.43 L278.19,382.11 L279.34,381.78 L280.49,381.44 L281.64,381.10 L282.80,380.75 L283.95,380.39 L285.10,380.02 L286.25,379.64 L287.40,379.26 L288.55,378.87 L289.70,378.47 L290.86,378.07 L292.01,377.67 L293.16,377.26 L294.31,376.84 L295.46,376.41 L296.61,375.98 L297.76,375.53 L298.92,375.08 L300.07,374.61 L301.22,374.13 L302.37,373.65 L303.52,373.15 L304.67,372.65 L305.82,372.15 L306.98,371.64 L308.13,371.13 L309.28,370.62 L310.43,370.09 L311.58,369.56 L312.73,369.02 L313.89,368.48 L315.04,367.94 L316.19,367.40 L317.34,366.86 L318.49,366.33 L319.64,365.79 L320.79,365.25 L321.95,364.72 L323.10,364.19 L324.25,363.66 L325.40,363.13 L326.55,362.60 L327.70,362.07 L328.86,361.54 L330.01,361.01 L331.16,360.48 L332.31,359.95 L333.46,359.42 L334.61,358.89 L335.76,358.35 L336.92,357.82 L338.07,357.28 L339.22,356.75 L340.37,356.21 L341.52,355.67 L342.67,355.12 L343.82,354.58 L344.98,354.04 L346.13,353.50 L347.28,352.96 L348.43,352.41 L349.58,351.87 L350.73,351.33 L351.88,350.79 L353.04,350.26 L354.19,349.72 L355.34,349.18 L356.49,348.63 L357.64,348.09 L358.79,347.55 L359.95,347.01 L361.10,346.48 L362.25,345.96 L363.40,345.44 L364.55,344.93 L365.70,344.44 L366.85,343.95 L368.01,343.47 L369.16,343.00 L370.31,342.54 L371.46,342.10 L372.61,341.66 L373.76,341.23 L374.92,340.82 L376.07,340.42 L377.22,340.04 L378.37,339.67 L379.52,339.32 L380.67,338.99 L381.82,338.67 L382.98,338.37 L384.13,338.08 L385.28,337.81 L386.43,337.55 L387.58,337.31 L388.73,337.09 L389.88,336.89 L391.04,336.71 L392.19,336.54 L393.34,336.40 L394.49,336.27 L395.64,336.16 L396.79,336.07 L397.95,335.99 L399.10,335.94 L400.25,335.90 L401.40,335.88 L402.55,335.88 L403.70,335.90 L404.85,335.94 L406.01,336.00 L407.16,336.07 L408.31,336.16 L409.46,336.27 L410.61,336.40 L411.76,336.54 L412.91,336.71 L414.07,336.89 L415.22,337.09 L416.37,337.32 L417.52,337.56 L418.67,337.82 L419.82,338.09 L420.98,338.39 L422.13,338.71 L423.28,339.05 L424.43,339.40 L425.58,339.78 L426.73,340.17 L427.88,340.59 L429.04,341.01 L430.19,341.46 L431.34,341.93 L432.49,342.42 L433.64,342.92 L434.79,343.45 L435.94,344.00 L437.10,344.57 L438.25,345.16 L439.40,345.78 L440.55,346.41 L441.70,347.07 L442.85,347.75 L444.01,348.44 L445.16,349.15 L446.31,349.88 L447.46,350.61 L448.61,351.36 L449.76,352.12 L450.91,352.88 L452.07,353.65 L453.22,354.42 L454.37,355.20 L455.52,355.99 L456.67,356.78 L457.82,357.59 L458.97,358.40 L460.13,359.20 L461.28,360.00 L462.43,360.78 L463.58,361.53 L464.73,362.26 L465.88,362.95 L467.04,363.61 L468.19,364.22 L469.34,364.79 L470.49,365.31 L471.64,365.78 L472.79,366.18 L473.94,366.53 L475.10,366.81 L476.25,367.01 L477.40,367.15 L478.55,367.21 L479.70,367.20 L480.85,367.11 L482.00,366.95 L483.16,366.72 L484.31,366.42 L485.46,366.06 L486.61,365.65 L487.76,365.17 L488.91,364.65 L490.06,364.08 L491.22,363.46 L492.37,362.81 L493.52,362.12 L494.67,361.40 L495.82,360.65 L496.97,359.88 L498.13,359.08 L499.28,358.28 L500.43,357.45 L501.58,356.62 L502.73,355.78 L503.88,354.94 L505.03,354.10 L506.19,353.26 L507.34,352.43 L508.49,351.61 L509.64,350.81 L510.79,350.02 L511.94,349.25 L513.10,348.50 L514.25,347.78 L515.40,347.08 L516.55,346.40 L517.70,345.75 L518.85,345.12 L520.00,344.51 L521.16,343.93 L522.31,343.37 L523.46,342.83 L524.61,342.31 L525.76,341.81 L526.91,341.34 L528.06,340.89 L529.22,340.46 L530.37,340.06 L531.52,339.67 L532.67,339.31 L533.82,338.97 L534.97,338.65 L536.12,338.35 L537.28,338.07 L538.43,337.81 L539.58,337.57 L540.73,337.35 L541.88,337.15 L543.03,336.97 L544.19,336.80 L545.34,336.66 L546.49,336.53 L547.64,336.42 L548.79,336.33 L549.94,336.26 L551.09,336.20 L552.25,336.16 L553.40,336.14 L554.55,336.13 L555.70,336.14 L556.85,336.16 L558.00,336.21 L559.15,336.26 L560.31,336.33 L561.46,336.42 L562.61,336.52 L563.76,336.64 L564.91,336.78 L566.06,336.92 L567.22,337.09 L568.37,337.27 L569.52,337.46 L570.67,337.67 L571.82,337.89 L572.97,338.13 L574.12,338.38 L575.28,338.65 L576.43,338.93 L577.58,339.23 L578.73,339.54 L579.88,339.86 L581.03,340.20 L582.18,340.55 L583.34,340.91 L584.49,341.29 L585.64,341.68 L586.79,342.08 L587.94,342.50 L589.09,342.93 L590.25,343.37 L591.40,343.83 L592.55,344.30 L593.70,344.78 L594.85,345.27 L596.00,345.78 L597.15,346.31 L598.31,346.84 L599.46,347.39 L600.61,347.94 L601.76,348.51 L602.91,349.07 L604.06,349.64 L605.21,350.22 L606.37,350.79 L607.52,351.37 L608.67,351.95 L609.82,352.53 L610.97,353.11 L612.12,353.69 L613.28,354.28 L614.43,354.87 L615.58,355.46 L616.73,356.06 L617.88,356.65 L619.03,357.25 L620.18,357.85 L621.34,358.46 L622.49,359.06 L623.64,359.67 L624.79,360.27 L625.94,360.87 L627.09,361.46 L628.25,362.05 L629.40,362.63 L630.55,363.21 L631.70,363.78 L632.85,364.33 L634.00,364.89 L635.15,365.44 L636.31,365.98 L637.46,366.52 L638.61,367.05 L639.76,367.58 L640.91,368.11 L642.06,368.63 L643.21,369.15 L644.37,369.66 L645.52,370.17 L646.67,370.68 L647.82,371.18 L648.97,371.68 L650.12,372.18 L651.28,372.68 L652.43,373.17 L653.58,373.66 L654.73,374.14 L655.88,374.62 L657.03,375.09 L658.18,375.56 L659.34,376.02 L660.49,376.48 L661.64,376.93 L662.79,377.37 L663.94,377.80 L665.09,378.23 L666.24,378.65 L667.40,379.06 L668.55,379.46 L669.70,379.86 L670.85,380.24 L672.00,380.62 L673.15,380.98 L674.31,381.34 L675.46,381.69 L676.61,382.03 L677.76,382.36 L678.91,382.67 L680.06,382.98 L681.21,383.28 L682.37,383.57 L683.52,383.85 L684.67,384.13 L685.82,384.39 L686.97,384.66 L688.12,384.91 L689.27,385.16 L690.43,385.41 L691.58,385.65 L692.73,385.89 L693.88,386.12 L695.03,386.34 L696.18,386.56 L697.34,386.77 L698.49,386.97 L699.64,387.17 L700.79,387.36 L701.94,387.55 L703.09,387.73 L704.24,387.90 L705.40,388.06 L706.55,388.22 L707.70,388.38 L708.85,388.52 L710.00,388.67 L711.15,388.80 L712.30,388.94 L713.46,389.07 L714.61,389.19 L715.76,389.31 L716.91,389.42 L718.06,389.54 L719.21,389.64 L720.37,389.75 L721.52,389.85 L722.67,389.95 L723.82,390.04 L724.97,390.13 L726.12,390.21 L727.27,390.30 L728.43,390.38 L729.58,390.45 L730.73,390.53 L731.88,390.60 L733.03,390.66 L734.18,390.73 L735.33,390.79 L736.49,390.85 L737.64,390.90 L738.79,390.95 L739.94,391.00 L741.09,391.05 L742.24,391.10 L743.39,391.14 L744.55,391.18 L745.70,391.22 L746.85,391.26 L748.00,391.29 L749.15,391.33 L750.30,391.36 L751.46,391.39 L752.61,391.42 L753.76,391.44 L754.91,391.47 L756.06,391.49 L757.21,391.51 L758.36,391.54 L759.52,391.56 L760.67,391.58 L761.82,391.59 L762.97,391.61 L764.12,391.63 L765.27,391.64 L766.42,391.65 L767.58,391.67 L768.73,391.68 L769.88,391.69 L771.03,391.70 L772.18,391.71 L773.33,391.72 L774.49,391.73 L775.64,391.74 L776.79,391.75 L777.94,391.75 L779.09,391.76 L780.24,391.77 L781.39,391.77 L782.55,391.78 L783.70,391.79 L784.85,391.79 L786.00,391.80 L787.15,391.80 L788.30,391.81 L789.46,391.82 L790.61,391.82 L791.76,391.83 L792.91,391.83 L794.06,391.84 L795.21,391.85 L796.36,391.85 L797.52,391.86 L798.67,391.87 L799.82,391.88 L800.97,391.88 L802.12,391.89 L803.27,391.90 L804.42,391.90 L805.58,391.91 L806.73,391.92 L807.88,391.93 L809.03,391.94 L810.18,391.94 L811.33,391.95 L812.49,391.96 L813.64,391.97 L814.79,391.98 L815.94,391.98 L817.09,391.99 L818.24,392.00 L819.39,392.01 L820.55,392.02 L821.70,392.02 L822.85,392.03 L824.00,392.04" fill="none" stroke="#3d4e8a" stroke-width="4.15" stroke-linejoin="round" stroke-linecap="square"/>
<path d="M133.10,392.20 L134.25,392.20 L135.40,392.20 L136.55,392.20 L137.71,392.20 L138.86,392.20 L140.01,392.20 L141.16,392.20 L142.31,392.20 L143.46,392.20 L144.62,392.20 L145.77,392.20 L146.92,392.20 L148.07,392.20 L149.22,392.20 L150.37,392.20 L151.52,392.20 L152.68,392.20 L153.83,392.20 L154.98,392.20 L156.13,392.20 L157.28,392.20 L158.43,392.20 L159.58,392.20 L160.74,392.20 L161.89,392.20 L163.04,392.20 L164.19,392.20 L165.34,392.20 L166.49,392.20 L167.64,392.20 L168.80,392.20 L169.95,392.20 L171.10,392.20 L172.25,392.20 L173.40,392.20 L174.55,392.20 L175.71,392.20 L176.86,392.20 L178.01,392.20 L179.16,392.20 L180.31,392.20 L181.46,392.20 L182.61,392.20 L183.77,392.20 L184.92,392.20 L186.07,392.20 L187.22,392.20 L188.37,392.20 L189.52,392.20 L190.68,392.20 L191.83,392.20 L192.98,392.20 L194.13,392.20 L195.28,392.20 L196.43,392.20 L197.58,392.20 L198.74,392.20 L199.89,392.20 L201.04,392.20 L202.19,392.20 L203.34,392.20 L204.49,392.20 L205.64,392.20 L206.80,392.20 L207.95,392.20 L209.10,392.20 L210.25,392.20 L211.40,392.20 L212.55,392.20 L213.71,392.20 L214.86,392.20 L216.01,392.20 L217.16,392.20 L218.31,392.20 L219.46,392.20 L220.61,392.20 L221.77,392.20 L222.92,392.20 L224.07,392.19 L225.22,392.19 L226.37,392.19 L227.52,392.19 L228.67,392.19 L229.83,392.19 L230.98,392.19 L232.13,392.19 L233.28,392.19 L234.43,392.19 L235.58,392.19 L236.73,392.19 L237.89,392.19 L239.04,392.19 L240.19,392.19 L241.34,392.19 L242.49,392.19 L243.64,392.18 L244.80,392.18 L245.95,392.18 L247.10,392.18 L248.25,392.18 L249.40,392.18 L250.55,392.18 L251.70,392.17 L252.86,392.17 L254.01,392.17 L255.16,392.17 L256.31,392.16 L257.46,392.16 L258.61,392.16 L259.76,392.16 L260.92,392.15 L262.07,392.15 L263.22,392.14 L264.37,392.14 L265.52,392.14 L266.67,392.13 L267.83,392.12 L268.98,392.12 L270.13,392.11 L271.28,392.11 L272.43,392.10 L273.58,392.09 L274.73,392.08 L275.89,392.08 L277.04,392.07 L278.19,392.06 L279.34,392.05 L280.49,392.04 L281.64,392.03 L282.80,392.02 L283.95,392.01 L285.10,391.99 L286.25,391.98 L287.40,391.97 L288.55,391.95 L289.70,391.94 L290.86,391.92 L292.01,391.91 L293.16,391.89 L294.31,391.87 L295.46,391.85 L296.61,391.83 L297.76,391.81 L298.92,391.79 L300.07,391.77 L301.22,391.75 L302.37,391.72 L303.52,391.69 L304.67,391.67 L305.82,391.64 L306.98,391.61 L308.13,391.58 L309.28,391.55 L310.43,391.52 L311.58,391.49 L312.73,391.45 L313.89,391.42 L315.04,391.38 L316.19,391.34 L317.34,391.31 L318.49,391.27 L319.64,391.23 L320.79,391.19 L321.95,391.15 L323.10,391.11 L324.25,391.07 L325.40,391.02 L326.55,390.98 L327.70,390.94 L328.86,390.89 L330.01,390.85 L331.16,390.80 L332.31,390.75 L333.46,390.70 L334.61,390.65 L335.76,390.60 L336.92,390.55 L338.07,390.50 L339.22,390.45 L340.37,390.40 L341.52,390.34 L342.67,390.29 L343.82,390.23 L344.98,390.17 L346.13,390.11 L347.28,390.06 L348.43,390.00 L349.58,389.94 L350.73,389.87 L351.88,389.81 L353.04,389.75 L354.19,389.69 L355.34,389.62 L356.49,389.56 L357.64,389.49 L358.79,389.42 L359.95,389.36 L361.10,389.29 L362.25,389.22 L363.40,389.16 L364.55,389.09 L365.70,389.02 L366.85,388.96 L368.01,388.89 L369.16,388.83 L370.31,388.77 L371.46,388.70 L372.61,388.64 L373.76,388.58 L374.92,388.52 L376.07,388.47 L377.22,388.41 L378.37,388.36 L379.52,388.31 L380.67,388.26 L381.82,388.21 L382.98,388.16 L384.13,388.12 L385.28,388.08 L386.43,388.04 L387.58,388.01 L388.73,387.97 L389.88,387.94 L391.04,387.91 L392.19,387.89 L393.34,387.86 L394.49,387.84 L395.64,387.83 L396.79,387.81 L397.95,387.80 L399.10,387.79 L400.25,387.79 L401.40,387.78 L402.55,387.78 L403.70,387.79 L404.85,387.79 L406.01,387.80 L407.16,387.81 L408.31,387.83 L409.46,387.84 L410.61,387.86 L411.76,387.89 L412.91,387.91 L414.07,387.94 L415.22,387.97 L416.37,388.01 L417.52,388.04 L418.67,388.08 L419.82,388.12 L420.98,388.17 L422.13,388.22 L423.28,388.27 L424.43,388.32 L425.58,388.37 L426.73,388.43 L427.88,388.49 L429.04,388.55 L430.19,388.62 L431.34,388.68 L432.49,388.75 L433.64,388.82 L434.79,388.89 L435.94,388.96 L437.10,389.04 L438.25,389.12 L439.40,389.20 L440.55,389.28 L441.70,389.36 L442.85,389.45 L444.01,389.53 L445.16,389.62 L446.31,389.71 L447.46,389.79 L448.61,389.88 L449.76,389.96 L450.91,390.05 L452.07,390.13 L453.22,390.21 L454.37,390.29 L455.52,390.37 L456.67,390.45 L457.82,390.53 L458.97,390.61 L460.13,390.68 L461.28,390.76 L462.43,390.83 L463.58,390.89 L464.73,390.95 L465.88,391.01 L467.04,391.06 L468.19,391.11 L469.34,391.15 L470.49,391.19 L471.64,391.23 L472.79,391.26 L473.94,391.28 L475.10,391.30 L476.25,391.32 L477.40,391.33 L478.55,391.33 L479.70,391.33 L480.85,391.32 L482.00,391.31 L483.16,391.30 L484.31,391.27 L485.46,391.25 L486.61,391.22 L487.76,391.18 L488.91,391.14 L490.06,391.10 L491.22,391.05 L492.37,391.00 L493.52,390.94 L494.67,390.88 L495.82,390.81 L496.97,390.75 L498.13,390.67 L499.28,390.60 L500.43,390.52 L501.58,390.44 L502.73,390.35 L503.88,390.27 L505.03,390.18 L506.19,390.09 L507.34,390.00 L508.49,389.91 L509.64,389.81 L510.79,389.72 L511.94,389.63 L513.10,389.54 L514.25,389.45 L515.40,389.37 L516.55,389.28 L517.70,389.20 L518.85,389.11 L520.00,389.03 L521.16,388.96 L522.31,388.88 L523.46,388.81 L524.61,388.73 L525.76,388.67 L526.91,388.60 L528.06,388.53 L529.22,388.47 L530.37,388.41 L531.52,388.36 L532.67,388.30 L533.82,388.25 L534.97,388.21 L536.12,388.16 L537.28,388.12 L538.43,388.08 L539.58,388.04 L540.73,388.01 L541.88,387.98 L543.03,387.95 L544.19,387.93 L545.34,387.90 L546.49,387.88 L547.64,387.87 L548.79,387.85 L549.94,387.84 L551.09,387.83 L552.25,387.83 L553.40,387.82 L554.55,387.82 L555.70,387.82 L556.85,387.83 L558.00,387.83 L559.15,387.84 L560.31,387.85 L561.46,387.87 L562.61,387.88 L563.76,387.90 L564.91,387.92 L566.06,387.95 L567.22,387.97 L568.37,388.00 L569.52,388.03 L570.67,388.06 L571.82,388.09 L572.97,388.13 L574.12,388.17 L575.28,388.21 L576.43,388.25 L577.58,388.29 L578.73,388.34 L579.88,388.39 L581.03,388.43 L582.18,388.48 L583.34,388.54 L584.49,388.59 L585.64,388.65 L586.79,388.70 L587.94,388.76 L589.09,388.82 L590.25,388.88 L591.40,388.94 L592.55,389.00 L593.70,389.07 L594.85,389.13 L596.00,389.20 L597.15,389.27 L598.31,389.34 L599.46,389.40 L600.61,389.47 L601.76,389.54 L602.91,389.61 L604.06,389.68 L605.21,389.75 L606.37,389.81 L607.52,389.88 L608.67,389.94 L609.82,390.01 L610.97,390.07 L612.12,390.14 L613.28,390.20 L614.43,390.26 L615.58,390.32 L616.73,390.38 L617.88,390.44 L619.03,390.50 L620.18,390.56 L621.34,390.61 L622.49,390.67 L623.64,390.73 L624.79,390.78 L625.94,390.83 L627.09,390.88 L628.25,390.93 L629.40,390.98 L630.55,391.03 L631.70,391.07 L632.85,391.12 L634.00,391.16 L635.15,391.20 L636.31,391.24 L637.46,391.28 L638.61,391.32 L639.76,391.36 L640.91,391.39 L642.06,391.43 L643.21,391.46 L644.37,391.49 L645.52,391.52 L646.67,391.55 L647.82,391.58 L648.97,391.61 L650.12,391.64 L651.28,391.67 L652.43,391.70 L653.58,391.72 L654.73,391.75 L655.88,391.77 L657.03,391.79 L658.18,391.81 L659.34,391.84 L660.49,391.86 L661.64,391.88 L662.79,391.89 L663.94,391.91 L665.09,391.93 L666.24,391.94 L667.40,391.96 L668.55,391.97 L669.70,391.99 L670.85,392.00 L672.00,392.01 L673.15,392.02 L674.31,392.04 L675.46,392.05 L676.61,392.06 L677.76,392.07 L678.91,392.07 L680.06,392.08 L681.21,392.09 L682.37,392.10 L683.52,392.10 L684.67,392.11 L685.82,392.12 L686.97,392.12 L688.12,392.13 L689.27,392.13 L690.43,392.14 L691.58,392.14 L692.73,392.14 L693.88,392.15 L695.03,392.15 L696.18,392.16 L697.34,392.16 L698.49,392.16 L699.64,392.16 L700.79,392.17 L701.94,392.17 L703.09,392.17 L704.24,392.17 L705.40,392.18 L706.55,392.18 L707.70,392.18 L708.85,392.18 L710.00,392.18 L711.15,392.18 L712.30,392.19 L713.46,392.19 L714.61,392.19 L715.76,392.19 L716.91,392.19 L718.06,392.19 L719.21,392.19 L720.37,392.19 L721.52,392.19 L722.67,392.19 L723.82,392.19 L724.97,392.19 L726.12,392.19 L727.27,392.19 L728.43,392.20 L729.58,392.20 L730.73,392.20 L731.88,392.20 L733.03,392.20 L734.18,392.20 L735.33,392.20 L736.49,392.20 L737.64,392.20 L738.79,392.20 L739.94,392.20 L741.09,392.20 L742.24,392.20 L743.39,392.20 L744.55,392.20 L745.70,392.20 L746.85,392.20 L748.00,392.20 L749.15,392.20 L750.30,392.20 L751.46,392.20 L752.61,392.20 L753.76,392.20 L754.91,392.20 L756.06,392.20 L757.21,392.20 L758.36,392.20 L759.52,392.20 L760.67,392.20 L761.82,392.20 L762.97,392.20 L764.12,392.20 L765.27,392.20 L766.42,392.20 L767.58,392.20 L768.73,392.20 L769.88,392.20 L771.03,392.20 L772.18,392.20 L773.33,392.20 L774.49,392.20 L775.64,392.20 L776.79,392.20 L777.94,392.20 L779.09,392.20 L780.24,392.20 L781.39,392.20 L782.55,392.20 L783.70,392.20 L784.85,392.20 L786.00,392.20 L787.15,392.20 L788.30,392.20 L789.46,392.20 L790.61,392.20 L791.76,392.20 L792.91,392.20 L794.06,392.20 L795.21,392.20 L796.36,392.20 L797.52,392.20 L798.67,392.20 L799.82,392.20 L800.97,392.20 L802.12,392.20 L803.27,392.20 L804.42,392.20 L805.58,392.20 L806.73,392.20 L807.88,392.20 L809.03,392.20 L810.18,392.20 L811.33,392.20 L812.49,392.20 L813.64,392.20 L814.79,392.20 L815.94,392.20 L817.09,392.20 L818.24,392.20 L819.39,392.20 L820.55,392.20 L821.70,392.20 L822.85,392.20 L824.00,392.20" fill="none" stroke="#3d4e8a" stroke-width="4.15" stroke-linejoin="round" stroke-dasharray="26.56 6.64 4.15 6.64"/>
<path d="M133.10,18.75 L134.25,18.75 L135.40,18.75 L136.55,18.75 L137.71,18.75 L138.86,18.75 L140.01,18.75 L141.16,18.75 L142.31,18.75 L143.46,18.75 L144.62,18.75 L145.77,18.75 L146.92,18.75 L148.07,18.75 L149.22,18.75 L150.37,18.75 L151.52,18.75 L152.68,18.75 L153.83,18.75 L154.98,18.75 L156.13,18.75 L157.28,18.75 L158.43,18.75 L159.58,18.75 L160.74,18.75 L161.89,18.75 L163.04,18.75 L164.19,18.75 L165.34,18.75 L166.49,18.75 L167.64,18.75 L168.80,18.75 L169.95,18.75 L171.10,18.75 L172.25,18.75 L173.40,18.75 L174.55,18.75 L175.71,18.75 L176.86,18.76 L178.01,18.76 L179.16,18.76 L180.31,18.76 L181.46,18.76 L182.61,18.76 L183.77,18.76 L184.92,18.76 L186.07,18.76 L187.22,18.76 L188.37,18.76 L189.52,18.76 L190.68,18.76 L191.83,18.76 L192.98,18.76 L194.13,18.76 L195.28,18.76 L196.43,18.76 L197.58,18.76 L198.74,18.76 L199.89,18.76 L201.04,18.76 L202.19,18.76 L203.34,18.76 L204.49,18.76 L205.64,18.76 L206.80,18.76 L207.95,18.76 L209.10,18.76 L210.25,18.76 L211.40,18.76 L212.55,18.76 L213.71,18.76 L214.86,18.77 L216.01,18.77 L217.16,18.77 L218.31,18.77 L219.46,18.77 L220.61,18.77 L221.77,18.77 L222.92,18.77 L224.07,18.77 L225.22,18.77 L226.37,18.77 L227.52,18.78 L228.67,18.78 L229.83,18.78 L230.98,18.78 L232.13,18.78 L233.28,18.79 L234.43,18.79 L235.58,18.79 L236.73,18.79 L237.89,18.80 L239.04,18.80 L240.19,18.80 L241.34,18.81 L242.49,18.81 L243.64,18.82 L244.80,18.82 L245.95,18.83 L247.10,18.83 L248.25,18.84 L249.40,18.85 L250.55,18.85 L251.70,18.86 L252.86,18.87 L254.01,18.88 L255.16,18.89 L256.31,18.90 L257.46,18.91 L258.61,18.92 L259.76,18.93 L260.92,18.95 L262.07,18.96 L263.22,18.98 L264.37,19.00 L265.52,19.02 L266.67,19.04 L267.83,19.07 L268.98,19.09 L270.13,19.12 L271.28,19.15 L272.43,19.18 L273.58,19.21 L274.73,19.24 L275.89,19.27 L277.04,19.31 L278.19,19.34 L279.34,19.38 L280.49,19.43 L281.64,19.47 L282.80,19.52 L283.95,19.56 L285.10,19.62 L286.25,19.67 L287.40,19.73 L288.55,19.79 L289.70,19.85 L290.86,19.92 L292.01,19.98 L293.16,20.06 L294.31,20.13 L295.46,20.21 L296.61,20.29 L297.76,20.37 L298.92,20.46 L300.07,20.56 L301.22,20.66 L302.37,20.77 L303.52,20.87 L304.67,20.99 L305.82,21.10 L306.98,21.23 L308.13,21.35 L309.28,21.48 L310.43,21.62 L311.58,21.76 L312.73,21.90 L313.89,22.05 L315.04,22.20 L316.19,22.36 L317.34,22.52 L318.49,22.68 L319.64,22.85 L320.79,23.02 L321.95,23.19 L323.10,23.37 L324.25,23.55 L325.40,23.73 L326.55,23.91 L327.70,24.10 L328.86,24.29 L330.01,24.49 L331.16,24.69 L332.31,24.89 L333.46,25.10 L334.61,25.31 L335.76,25.52 L336.92,25.74 L338.07,25.96 L339.22,26.19 L340.37,26.42 L341.52,26.66 L342.67,26.90 L343.82,27.14 L344.98,27.39 L346.13,27.64 L347.28,27.90 L348.43,28.16 L349.58,28.42 L350.73,28.69 L351.88,28.96 L353.04,29.23 L354.19,29.51 L355.34,29.79 L356.49,30.07 L357.64,30.37 L358.79,30.66 L359.95,30.95 L361.10,31.25 L362.25,31.55 L363.40,31.84 L364.55,32.14 L365.70,32.43 L366.85,32.72 L368.01,33.00 L369.16,33.29 L370.31,33.57 L371.46,33.84 L372.61,34.12 L373.76,34.39 L374.92,34.65 L376.07,34.90 L377.22,35.15 L378.37,35.39 L379.52,35.62 L380.67,35.84 L381.82,36.06 L382.98,36.26 L384.13,36.46 L385.28,36.64 L386.43,36.82 L387.58,36.98 L388.73,37.13 L389.88,37.27 L391.04,37.40 L392.19,37.52 L393.34,37.62 L394.49,37.71 L395.64,37.79 L396.79,37.85 L397.95,37.90 L399.10,37.94 L400.25,37.97 L401.40,37.98 L402.55,37.98 L403.70,37.97 L404.85,37.94 L406.01,37.90 L407.16,37.85 L408.31,37.78 L409.46,37.71 L410.61,37.62 L411.76,37.51 L412.91,37.40 L414.07,37.27 L415.22,37.13 L416.37,36.98 L417.52,36.81 L418.67,36.63 L419.82,36.44 L420.98,36.24 L422.13,36.03 L423.28,35.80 L424.43,35.57 L425.58,35.32 L426.73,35.07 L427.88,34.80 L429.04,34.52 L430.19,34.24 L431.34,33.95 L432.49,33.65 L433.64,33.33 L434.79,33.01 L435.94,32.69 L437.10,32.35 L438.25,32.00 L439.40,31.65 L440.55,31.29 L441.70,30.92 L442.85,30.55 L444.01,30.18 L445.16,29.80 L446.31,29.42 L447.46,29.05 L448.61,28.67 L449.76,28.30 L450.91,27.93 L452.07,27.57 L453.22,27.22 L454.37,26.86 L455.52,26.52 L456.67,26.17 L457.82,25.84 L458.97,25.50 L460.13,25.18 L461.28,24.87 L462.43,24.57 L463.58,24.29 L464.73,24.03 L465.88,23.79 L467.04,23.56 L468.19,23.36 L469.34,23.17 L470.49,23.00 L471.64,22.85 L472.79,22.73 L473.94,22.62 L475.10,22.54 L476.25,22.48 L477.40,22.44 L478.55,22.42 L479.70,22.42 L480.85,22.45 L482.00,22.50 L483.16,22.57 L484.31,22.66 L485.46,22.77 L486.61,22.90 L487.76,23.05 L488.91,23.21 L490.06,23.40 L491.22,23.61 L492.37,23.84 L493.52,24.08 L494.67,24.35 L495.82,24.62 L496.97,24.92 L498.13,25.23 L499.28,25.55 L500.43,25.89 L501.58,26.24 L502.73,26.61 L503.88,26.98 L505.03,27.36 L506.19,27.75 L507.34,28.15 L508.49,28.55 L509.64,28.95 L510.79,29.35 L511.94,29.75 L513.10,30.15 L514.25,30.53 L515.40,30.92 L516.55,31.30 L517.70,31.67 L518.85,32.03 L520.00,32.38 L521.16,32.73 L522.31,33.07 L523.46,33.39 L524.61,33.71 L525.76,34.02 L526.91,34.32 L528.06,34.60 L529.22,34.88 L530.37,35.14 L531.52,35.39 L532.67,35.63 L533.82,35.86 L534.97,36.07 L536.12,36.27 L537.28,36.46 L538.43,36.64 L539.58,36.80 L540.73,36.96 L541.88,37.09 L543.03,37.22 L544.19,37.33 L545.34,37.44 L546.49,37.52 L547.64,37.60 L548.79,37.66 L549.94,37.72 L551.09,37.76 L552.25,37.78 L553.40,37.80 L554.55,37.81 L555.70,37.80 L556.85,37.78 L558.00,37.75 L559.15,37.71 L560.31,37.66 L561.46,37.60 L562.61,37.53 L563.76,37.45 L564.91,37.35 L566.06,37.25 L567.22,37.14 L568.37,37.01 L569.52,36.88 L570.67,36.73 L571.82,36.58 L572.97,36.42 L574.12,36.25 L575.28,36.07 L576.43,35.88 L577.58,35.69 L578.73,35.48 L579.88,35.27 L581.03,35.05 L582.18,34.82 L583.34,34.59 L584.49,34.35 L585.64,34.10 L586.79,33.85 L587.94,33.59 L589.09,33.33 L590.25,33.06 L591.40,32.79 L592.55,32.51 L593.70,32.23 L594.85,31.94 L596.00,31.65 L597.15,31.35 L598.31,31.05 L599.46,30.75 L600.61,30.45 L601.76,30.14 L602.91,29.84 L604.06,29.54 L605.21,29.25 L606.37,28.96 L607.52,28.67 L608.67,28.38 L609.82,28.10 L610.97,27.83 L612.12,27.55 L613.28,27.28 L614.43,27.01 L615.58,26.75 L616.73,26.49 L617.88,26.23 L619.03,25.98 L620.18,25.73 L621.34,25.48 L622.49,25.24 L623.64,25.00 L624.79,24.77 L625.94,24.54 L627.09,24.32 L628.25,24.11 L629.40,23.90 L630.55,23.70 L631.70,23.51 L632.85,23.32 L634.00,23.14 L635.15,22.96 L636.31,22.79 L637.46,22.63 L638.61,22.47 L639.76,22.31 L640.91,22.16 L642.06,22.01 L643.21,21.87 L644.37,21.73 L645.52,21.60 L646.67,21.47 L647.82,21.34 L648.97,21.22 L650.12,21.10 L651.28,20.98 L652.43,20.87 L653.58,20.76 L654.73,20.66 L655.88,20.56 L657.03,20.46 L658.18,20.37 L659.34,20.28 L660.49,20.20 L661.64,20.11 L662.79,20.04 L663.94,19.96 L665.09,19.89 L666.24,19.82 L667.40,19.76 L668.55,19.70 L669.70,19.64 L670.85,19.59 L672.00,19.53 L673.15,19.48 L674.31,19.44 L675.46,19.39 L676.61,19.35 L677.76,19.32 L678.91,19.28 L680.06,19.25 L681.21,19.21 L682.37,19.18 L683.52,19.16 L684.67,19.13 L685.82,19.11 L686.97,19.08 L688.12,19.06 L689.27,19.04 L690.43,19.02 L691.58,19.00 L692.73,18.98 L693.88,18.97 L695.03,18.95 L696.18,18.94 L697.34,18.92 L698.49,18.91 L699.64,18.90 L700.79,18.89 L701.94,18.88 L703.09,18.87 L704.24,18.86 L705.40,18.85 L706.55,18.84 L707.70,18.84 L708.85,18.83 L710.00,18.82 L711.15,18.82 L712.30,18.81 L713.46,18.81 L714.61,18.80 L715.76,18.80 L716.91,18.79 L718.06,18.79 L719.21,18.79 L720.37,18.79 L721.52,18.78 L722.67,18.78 L723.82,18.78 L724.97,18.78 L726.12,18.77 L727.27,18.77 L728.43,18.77 L729.58,18.77 L730.73,18.77 L731.88,18.76 L733.03,18.76 L734.18,18.76 L735.33,18.76 L736.49,18.76 L737.64,18.76 L738.79,18.76 L739.94,18.76 L741.09,18.76 L742.24,18.76 L743.39,18.76 L744.55,18.76 L745.70,18.76 L746.85,18.76 L748.00,18.75 L749.15,18.75 L750.30,18.75 L751.46,18.75 L752.61,18.75 L753.76,18.75 L754.91,18.75 L756.06,18.75 L757.21,18.75 L758.36,18.75 L759.52,18.75 L760.67,18.75 L761.82,18.75 L762.97,18.75 L764.12,18.75 L765.27,18.75 L766.42,18.75 L767.58,18.75 L768.73,18.75 L769.88,18.75 L771.03,18.75 L772.18,18.75 L773.33,18.75 L774.49,18.75 L775.64,18.75 L776.79,18.75 L777.94,18.75 L779.09,18.75 L780.24,18.75 L781.39,18.75 L782.55,18.75 L783.70,18.75 L784.85,18.75 L786.00,18.75 L787.15,18.75 L788.30,18.75 L789.46,18.75 L790.61,18.75 L791.76,18.75 L792.91,18.75 L794.06,18.75 L795.21,18.75 L796.36,18.75 L797.52,18.75 L798.67,18.75 L799.82,18.75 L800.97,18.75 L802.12,18.75 L803.27,18.75 L804.42,18.75 L805.58,18.75 L806.73,18.75 L807.88,18.75 L809.03,18.75 L810.18,18.75 L811.33,18.75 L812.49,18.75 L813.64,18.75 L814.79,18.75 L815.94,18.75 L817.09,18.75 L818.24,18.75 L819.39,18.75 L820.55,18.75 L821.70,18.75 L822.85,18.75 L824.00,18.75" fill="none" stroke="#238a8d" stroke-width="4.15" stroke-linejoin="round" stroke-dasharray="15.36 6.64"/>
<path d="M133.10,392.20 L134.25,392.20 L135.40,392.20 L136.55,392.20 L137.71,392.20 L138.86,392.20 L140.01,392.20 L141.16,392.20 L142.31,392.20 L143.46,392.20 L144.62,392.20 L145.77,392.20 L146.92,392.20 L148.07,392.20 L149.22,392.20 L150.37,392.20 L151.52,392.20 L152.68,392.20 L153.83,392.20 L154.98,392.20 L156.13,392.20 L157.28,392.20 L158.43,392.20 L159.58,392.20 L160.74,392.20 L161.89,392.20 L163.04,392.20 L164.19,392.10 L165.34,391.93 L166.49,391.77 L167.64,391.63 L168.80,391.49 L169.95,391.36 L171.10,391.24 L172.25,391.13 L173.40,391.02 L174.55,390.92 L175.71,390.84 L176.86,390.75 L178.01,390.68 L179.16,390.61 L180.31,390.55 L181.46,390.49 L182.61,390.44 L183.77,390.39 L184.92,390.35 L186.07,390.31 L187.22,390.27 L188.37,390.24 L189.52,390.22 L190.68,390.19 L191.83,390.17 L192.98,390.15 L194.13,390.14 L195.28,390.12 L196.43,390.11 L197.58,390.10 L198.74,390.08 L199.89,390.07 L201.04,390.06 L202.19,390.05 L203.34,390.04 L204.49,390.02 L205.64,390.01 L206.80,389.99 L207.95,389.97 L209.10,389.95 L210.25,389.93 L211.40,389.90 L212.55,389.87 L213.71,389.84 L214.86,389.80 L216.01,389.76 L217.16,389.72 L218.31,389.67 L219.46,389.61 L220.61,389.55 L221.77,389.48 L222.92,389.41 L224.07,389.33 L225.22,389.24 L226.37,389.16 L227.52,389.06 L228.67,388.96 L229.83,388.86 L230.98,388.76 L232.13,388.65 L233.28,388.53 L234.43,388.41 L235.58,388.29 L236.73,388.16 L237.89,388.03 L239.04,387.89 L240.19,387.74 L241.34,387.58 L242.49,387.41 L243.64,387.23 L244.80,387.05 L245.95,386.85 L247.10,386.65 L248.25,386.44 L249.40,386.23 L250.55,386.00 L251.70,385.77 L252.86,385.53 L254.01,385.29 L255.16,385.04 L256.31,384.78 L257.46,384.51 L258.61,384.22 L259.76,383.92 L260.92,383.60 L262.07,383.25 L263.22,382.89 L264.37,382.52 L265.52,382.13 L266.67,381.72 L267.83,381.31 L268.98,380.89 L270.13,380.46 L271.28,380.03 L272.43,379.59 L273.58,379.15 L274.73,378.70 L275.89,378.25 L277.04,377.78 L278.19,377.31 L279.34,376.82 L280.49,376.32 L281.64,375.82 L282.80,375.30 L283.95,374.77 L285.10,374.23 L286.25,373.67 L287.40,373.11 L288.55,372.53 L289.70,371.95 L290.86,371.36 L292.01,370.76 L293.16,370.15 L294.31,369.54 L295.46,368.91 L296.61,368.27 L297.76,367.61 L298.92,366.94 L300.07,366.25 L301.22,365.54 L302.37,364.82 L303.52,364.09 L304.67,363.36 L305.82,362.62 L306.98,361.87 L308.13,361.12 L309.28,360.36 L310.43,359.58 L311.58,358.80 L312.73,358.01 L313.89,357.21 L315.04,356.41 L316.19,355.61 L317.34,354.82 L318.49,354.02 L319.64,353.23 L320.79,352.44 L321.95,351.66 L323.10,350.87 L324.25,350.09 L325.40,349.31 L326.55,348.53 L327.70,347.75 L328.86,346.97 L330.01,346.19 L331.16,345.40 L332.31,344.62 L333.46,343.84 L334.61,343.05 L335.76,342.26 L336.92,341.47 L338.07,340.68 L339.22,339.89 L340.37,339.09 L341.52,338.30 L342.67,337.50 L343.82,336.70 L344.98,335.90 L346.13,335.10 L347.28,334.30 L348.43,333.50 L349.58,332.70 L350.73,331.90 L351.88,331.11 L353.04,330.31 L354.19,329.52 L355.34,328.72 L356.49,327.92 L357.64,327.12 L358.79,326.32 L359.95,325.53 L361.10,324.74 L362.25,323.97 L363.40,323.21 L364.55,322.46 L365.70,321.73 L366.85,321.01 L368.01,320.30 L369.16,319.61 L370.31,318.94 L371.46,318.27 L372.61,317.63 L373.76,317.00 L374.92,316.39 L376.07,315.80 L377.22,315.24 L378.37,314.70 L379.52,314.18 L380.67,313.69 L381.82,313.22 L382.98,312.77 L384.13,312.34 L385.28,311.94 L386.43,311.57 L387.58,311.22 L388.73,310.89 L389.88,310.59 L391.04,310.32 L392.19,310.08 L393.34,309.86 L394.49,309.67 L395.64,309.51 L396.79,309.37 L397.95,309.27 L399.10,309.19 L400.25,309.13 L401.40,309.11 L402.55,309.11 L403.70,309.14 L404.85,309.19 L406.01,309.27 L407.16,309.38 L408.31,309.51 L409.46,309.68 L410.61,309.87 L411.76,310.08 L412.91,310.32 L414.07,310.60 L415.22,310.89 L416.37,311.22 L417.52,311.58 L418.67,311.96 L419.82,312.37 L420.98,312.81 L422.13,313.28 L423.28,313.78 L424.43,314.30 L425.58,314.86 L426.73,315.44 L427.88,316.04 L429.04,316.68 L430.19,317.34 L431.34,318.03 L432.49,318.75 L433.64,319.49 L434.79,320.27 L435.94,321.08 L437.10,321.92 L438.25,322.80 L439.40,323.70 L440.55,324.64 L441.70,325.61 L442.85,326.61 L444.01,327.64 L445.16,328.69 L446.31,329.75 L447.46,330.84 L448.61,331.94 L449.76,333.06 L450.91,334.18 L452.07,335.32 L453.22,336.46 L454.37,337.61 L455.52,338.77 L456.67,339.95 L457.82,341.13 L458.97,342.33 L460.13,343.52 L461.28,344.69 L462.43,345.84 L463.58,346.95 L464.73,348.03 L465.88,349.05 L467.04,350.01 L468.19,350.92 L469.34,351.76 L470.49,352.52 L471.64,353.21 L472.79,353.81 L473.94,354.32 L475.10,354.73 L476.25,355.04 L477.40,355.24 L478.55,355.33 L479.70,355.31 L480.85,355.18 L482.00,354.94 L483.16,354.60 L484.31,354.16 L485.46,353.63 L486.61,353.02 L487.76,352.33 L488.91,351.55 L490.06,350.71 L491.22,349.80 L492.37,348.83 L493.52,347.81 L494.67,346.75 L495.82,345.65 L496.97,344.51 L498.13,343.34 L499.28,342.15 L500.43,340.93 L501.58,339.71 L502.73,338.47 L503.88,337.23 L505.03,335.99 L506.19,334.75 L507.34,333.53 L508.49,332.31 L509.64,331.12 L510.79,329.96 L511.94,328.82 L513.10,327.72 L514.25,326.66 L515.40,325.63 L516.55,324.63 L517.70,323.66 L518.85,322.73 L520.00,321.84 L521.16,320.98 L522.31,320.15 L523.46,319.35 L524.61,318.59 L525.76,317.86 L526.91,317.16 L528.06,316.50 L529.22,315.87 L530.37,315.27 L531.52,314.70 L532.67,314.16 L533.82,313.66 L534.97,313.19 L536.12,312.74 L537.28,312.33 L538.43,311.95 L539.58,311.59 L540.73,311.27 L541.88,310.97 L543.03,310.70 L544.19,310.46 L545.34,310.25 L546.49,310.06 L547.64,309.90 L548.79,309.77 L549.94,309.66 L551.09,309.58 L552.25,309.52 L553.40,309.48 L554.55,309.47 L555.70,309.48 L556.85,309.52 L558.00,309.58 L559.15,309.66 L560.31,309.77 L561.46,309.90 L562.61,310.05 L563.76,310.23 L564.91,310.42 L566.06,310.64 L567.22,310.89 L568.37,311.15 L569.52,311.43 L570.67,311.74 L571.82,312.07 L572.97,312.42 L574.12,312.79 L575.28,313.19 L576.43,313.60 L577.58,314.04 L578.73,314.50 L579.88,314.97 L581.03,315.47 L582.18,315.99 L583.34,316.53 L584.49,317.08 L585.64,317.66 L586.79,318.26 L587.94,318.87 L589.09,319.51 L590.25,320.16 L591.40,320.83 L592.55,321.52 L593.70,322.23 L594.85,322.96 L596.00,323.71 L597.15,324.49 L598.31,325.28 L599.46,326.08 L600.61,326.90 L601.76,327.73 L602.91,328.57 L604.06,329.41 L605.21,330.25 L606.37,331.10 L607.52,331.95 L608.67,332.81 L609.82,333.66 L610.97,334.52 L612.12,335.39 L613.28,336.25 L614.43,337.12 L615.58,338.00 L616.73,338.87 L617.88,339.75 L619.03,340.64 L620.18,341.52 L621.34,342.42 L622.49,343.31 L623.64,344.20 L624.79,345.09 L625.94,345.97 L627.09,346.85 L628.25,347.72 L629.40,348.58 L630.55,349.42 L631.70,350.26 L632.85,351.09 L634.00,351.90 L635.15,352.71 L636.31,353.51 L637.46,354.31 L638.61,355.09 L639.76,355.87 L640.91,356.65 L642.06,357.42 L643.21,358.18 L644.37,358.94 L645.52,359.70 L646.67,360.44 L647.82,361.19 L648.97,361.93 L650.12,362.66 L651.28,363.40 L652.43,364.12 L653.58,364.84 L654.73,365.55 L655.88,366.26 L657.03,366.96 L658.18,367.65 L659.34,368.33 L660.49,369.00 L661.64,369.66 L662.79,370.32 L663.94,370.96 L665.09,371.59 L666.24,372.21 L667.40,372.81 L668.55,373.41 L669.70,373.99 L670.85,374.56 L672.00,375.11 L673.15,375.65 L674.31,376.18 L675.46,376.69 L676.61,377.19 L677.76,377.67 L678.91,378.14 L680.06,378.60 L681.21,379.04 L682.37,379.47 L683.52,379.88 L684.67,380.29 L685.82,380.68 L686.97,381.07 L688.12,381.45 L689.27,381.82 L690.43,382.18 L691.58,382.54 L692.73,382.88 L693.88,383.22 L695.03,383.55 L696.18,383.88 L697.34,384.19 L698.49,384.49 L699.64,384.78 L700.79,385.06 L701.94,385.34 L703.09,385.60 L704.24,385.85 L705.40,386.10 L706.55,386.33 L707.70,386.56 L708.85,386.78 L710.00,386.99 L711.15,387.19 L712.30,387.39 L713.46,387.57 L714.61,387.76 L715.76,387.93 L716.91,388.10 L718.06,388.27 L719.21,388.43 L720.37,388.58 L721.52,388.73 L722.67,388.87 L723.82,389.01 L724.97,389.14 L726.12,389.27 L727.27,389.39 L728.43,389.51 L729.58,389.62 L730.73,389.73 L731.88,389.83 L733.03,389.93 L734.18,390.03 L735.33,390.12 L736.49,390.20 L737.64,390.28 L738.79,390.36 L739.94,390.44 L741.09,390.51 L742.24,390.57 L743.39,390.64 L744.55,390.70 L745.70,390.76 L746.85,390.81 L748.00,390.86 L749.15,390.91 L750.30,390.96 L751.46,391.00 L752.61,391.04 L753.76,391.08 L754.91,391.12 L756.06,391.16 L757.21,391.19 L758.36,391.22 L759.52,391.25 L760.67,391.28 L761.82,391.30 L762.97,391.33 L764.12,391.35 L765.27,391.37 L766.42,391.39 L767.58,391.41 L768.73,391.43 L769.88,391.45 L771.03,391.46 L772.18,391.48 L773.33,391.49 L774.49,391.51 L775.64,391.52 L776.79,391.53 L777.94,391.54 L779.09,391.55 L780.24,391.56 L781.39,391.57 L782.55,391.58 L783.70,391.59 L784.85,391.60 L786.00,391.61 L787.15,391.61 L788.30,391.62 L789.46,391.63 L790.61,391.64 L791.76,391.65 L792.91,391.66 L794.06,391.67 L795.21,391.68 L796.36,391.69 L797.52,391.70 L798.67,391.71 L799.82,391.72 L800.97,391.73 L802.12,391.74 L803.27,391.75 L804.42,391.76 L805.58,391.78 L806.73,391.79 L807.88,391.80 L809.03,391.81 L810.18,391.82 L811.33,391.83 L812.49,391.84 L813.64,391.86 L814.79,391.87 L815.94,391.88 L817.09,391.89 L818.24,391.90 L819.39,391.92 L820.55,391.93 L821.70,391.94 L822.85,391.95 L824.00,391.97" fill="none" stroke="#238a8d" stroke-width="4.15" stroke-linejoin="round" stroke-linecap="square"/>
<path d="M133.10,392.20 L134.25,392.20 L135.40,392.20 L136.55,392.20 L137.71,392.20 L138.86,392.20 L140.01,392.20 L141.16,392.20 L142.31,392.20 L143.46,392.20 L144.62,392.20 L145.77,392.20 L146.92,392.20 L148.07,392.20 L149.22,392.20 L150.37,392.20 L151.52,392.20 L152.68,392.20 L153.83,392.20 L154.98,392.20 L156.13,392.20 L157.28,392.20 L158.43,392.20 L159.58,392.20 L160.74,392.20 L161.89,392.20 L163.04,392.20 L164.19,392.20 L165.34,392.20 L166.49,392.20 L167.64,392.20 L168.80,392.20 L169.95,392.20 L171.10,392.20 L172.25,392.20 L173.40,392.20 L174.55,392.20 L175.71,392.20 L176.86,392.20 L178.01,392.20 L179.16,392.20 L180.31,392.20 L181.46,392.20 L182.61,392.20 L183.77,392.20 L184.92,392.20 L186.07,392.20 L187.22,392.19 L188.37,392.19 L189.52,392.19 L190.68,392.19 L191.83,392.19 L192.98,392.19 L194.13,392.19 L195.28,392.19 L196.43,392.19 L197.58,392.19 L198.74,392.19 L199.89,392.19 L201.04,392.19 L202.19,392.19 L203.34,392.19 L204.49,392.19 L205.64,392.19 L206.80,392.19 L207.95,392.19 L209.10,392.19 L210.25,392.19 L211.40,392.19 L212.55,392.19 L213.71,392.19 L214.86,392.19 L216.01,392.19 L217.16,392.19 L218.31,392.19 L219.46,392.19 L220.61,392.19 L221.77,392.19 L222.92,392.19 L224.07,392.19 L225.22,392.19 L226.37,392.19 L227.52,392.19 L228.67,392.19 L229.83,392.18 L230.98,392.18 L232.13,392.18 L233.28,392.18 L234.43,392.18 L235.58,392.18 L236.73,392.18 L237.89,392.18 L239.04,392.17 L240.19,392.17 L241.34,392.17 L242.49,392.17 L243.64,392.17 L244.80,392.16 L245.95,392.16 L247.10,392.16 L248.25,392.15 L249.40,392.15 L250.55,392.15 L251.70,392.14 L252.86,392.14 L254.01,392.13 L255.16,392.13 L256.31,392.12 L257.46,392.12 L258.61,392.11 L259.76,392.10 L260.92,392.10 L262.07,392.09 L263.22,392.08 L264.37,392.07 L265.52,392.06 L266.67,392.05 L267.83,392.03 L268.98,392.02 L270.13,392.01 L271.28,391.99 L272.43,391.98 L273.58,391.96 L274.73,391.95 L275.89,391.93 L277.04,391.91 L278.19,391.89 L279.34,391.87 L280.49,391.85 L281.64,391.83 L282.80,391.80 L283.95,391.78 L285.10,391.75 L286.25,391.72 L287.40,391.69 L288.55,391.66 L289.70,391.63 L290.86,391.60 L292.01,391.56 L293.16,391.52 L294.31,391.48 L295.46,391.44 L296.61,391.40 L297.76,391.36 L298.92,391.31 L300.07,391.26 L301.22,391.21 L302.37,391.16 L303.52,391.10 L304.67,391.04 L305.82,390.98 L306.98,390.92 L308.13,390.85 L309.28,390.79 L310.43,390.72 L311.58,390.65 L312.73,390.57 L313.89,390.50 L315.04,390.42 L316.19,390.34 L317.34,390.25 L318.49,390.17 L319.64,390.09 L320.79,390.00 L321.95,389.91 L323.10,389.82 L324.25,389.73 L325.40,389.64 L326.55,389.54 L327.70,389.45 L328.86,389.35 L330.01,389.25 L331.16,389.15 L332.31,389.05 L333.46,388.94 L334.61,388.84 L335.76,388.73 L336.92,388.62 L338.07,388.50 L339.22,388.39 L340.37,388.27 L341.52,388.15 L342.67,388.03 L343.82,387.91 L344.98,387.79 L346.13,387.66 L347.28,387.53 L348.43,387.40 L349.58,387.27 L350.73,387.14 L351.88,387.00 L353.04,386.87 L354.19,386.73 L355.34,386.59 L356.49,386.45 L357.64,386.30 L358.79,386.16 L359.95,386.01 L361.10,385.86 L362.25,385.72 L363.40,385.57 L364.55,385.43 L365.70,385.28 L366.85,385.14 L368.01,385.00 L369.16,384.86 L370.31,384.73 L371.46,384.59 L372.61,384.46 L373.76,384.33 L374.92,384.20 L376.07,384.07 L377.22,383.95 L378.37,383.84 L379.52,383.72 L380.67,383.62 L381.82,383.51 L382.98,383.41 L384.13,383.32 L385.28,383.23 L386.43,383.15 L387.58,383.07 L388.73,382.99 L389.88,382.93 L391.04,382.87 L392.19,382.81 L393.34,382.76 L394.49,382.72 L395.64,382.68 L396.79,382.65 L397.95,382.62 L399.10,382.60 L400.25,382.59 L401.40,382.59 L402.55,382.59 L403.70,382.59 L404.85,382.61 L406.01,382.62 L407.16,382.65 L408.31,382.68 L409.46,382.72 L410.61,382.76 L411.76,382.81 L412.91,382.87 L414.07,382.93 L415.22,383.00 L416.37,383.07 L417.52,383.15 L418.67,383.23 L419.82,383.33 L420.98,383.42 L422.13,383.53 L423.28,383.64 L424.43,383.75 L425.58,383.87 L426.73,384.00 L427.88,384.12 L429.04,384.26 L430.19,384.40 L431.34,384.54 L432.49,384.69 L433.64,384.84 L434.79,385.00 L435.94,385.16 L437.10,385.32 L438.25,385.49 L439.40,385.67 L440.55,385.85 L441.70,386.03 L442.85,386.21 L444.01,386.40 L445.16,386.58 L446.31,386.77 L447.46,386.96 L448.61,387.14 L449.76,387.33 L450.91,387.51 L452.07,387.69 L453.22,387.87 L454.37,388.05 L455.52,388.23 L456.67,388.40 L457.82,388.57 L458.97,388.74 L460.13,388.90 L461.28,389.06 L462.43,389.21 L463.58,389.35 L464.73,389.48 L465.88,389.61 L467.04,389.72 L468.19,389.83 L469.34,389.92 L470.49,390.01 L471.64,390.08 L472.79,390.15 L473.94,390.20 L475.10,390.25 L476.25,390.28 L477.40,390.30 L478.55,390.31 L479.70,390.31 L480.85,390.29 L482.00,390.27 L483.16,390.23 L484.31,390.19 L485.46,390.13 L486.61,390.06 L487.76,389.99 L488.91,389.90 L490.06,389.80 L491.22,389.70 L492.37,389.58 L493.52,389.46 L494.67,389.32 L495.82,389.18 L496.97,389.03 L498.13,388.88 L499.28,388.71 L500.43,388.54 L501.58,388.36 L502.73,388.18 L503.88,387.99 L505.03,387.80 L506.19,387.60 L507.34,387.41 L508.49,387.21 L509.64,387.01 L510.79,386.81 L511.94,386.61 L513.10,386.41 L514.25,386.22 L515.40,386.03 L516.55,385.84 L517.70,385.66 L518.85,385.48 L520.00,385.31 L521.16,385.14 L522.31,384.97 L523.46,384.81 L524.61,384.65 L525.76,384.50 L526.91,384.36 L528.06,384.22 L529.22,384.09 L530.37,383.96 L531.52,383.84 L532.67,383.72 L533.82,383.61 L534.97,383.51 L536.12,383.41 L537.28,383.32 L538.43,383.23 L539.58,383.15 L540.73,383.08 L541.88,383.01 L543.03,382.95 L544.19,382.90 L545.34,382.85 L546.49,382.81 L547.64,382.77 L548.79,382.74 L549.94,382.71 L551.09,382.69 L552.25,382.68 L553.40,382.67 L554.55,382.67 L555.70,382.67 L556.85,382.68 L558.00,382.70 L559.15,382.71 L560.31,382.74 L561.46,382.77 L562.61,382.80 L563.76,382.84 L564.91,382.89 L566.06,382.94 L567.22,382.99 L568.37,383.05 L569.52,383.12 L570.67,383.19 L571.82,383.26 L572.97,383.34 L574.12,383.42 L575.28,383.51 L576.43,383.60 L577.58,383.69 L578.73,383.79 L579.88,383.90 L581.03,384.00 L582.18,384.11 L583.34,384.23 L584.49,384.34 L585.64,384.46 L586.79,384.59 L587.94,384.71 L589.09,384.84 L590.25,384.97 L591.40,385.11 L592.55,385.24 L593.70,385.38 L594.85,385.52 L596.00,385.67 L597.15,385.82 L598.31,385.96 L599.46,386.11 L600.61,386.26 L601.76,386.41 L602.91,386.56 L604.06,386.71 L605.21,386.86 L606.37,387.00 L607.52,387.15 L608.67,387.29 L609.82,387.43 L610.97,387.57 L612.12,387.71 L613.28,387.84 L614.43,387.98 L615.58,388.11 L616.73,388.24 L617.88,388.37 L619.03,388.50 L620.18,388.62 L621.34,388.75 L622.49,388.87 L623.64,388.99 L624.79,389.11 L625.94,389.22 L627.09,389.34 L628.25,389.44 L629.40,389.55 L630.55,389.65 L631.70,389.75 L632.85,389.85 L634.00,389.94 L635.15,390.03 L636.31,390.12 L637.46,390.20 L638.61,390.28 L639.76,390.36 L640.91,390.44 L642.06,390.52 L643.21,390.59 L644.37,390.66 L645.52,390.73 L646.67,390.80 L647.82,390.86 L648.97,390.92 L650.12,390.99 L651.28,391.04 L652.43,391.10 L653.58,391.16 L654.73,391.21 L655.88,391.26 L657.03,391.31 L658.18,391.36 L659.34,391.41 L660.49,391.45 L661.64,391.49 L662.79,391.53 L663.94,391.57 L665.09,391.61 L666.24,391.64 L667.40,391.68 L668.55,391.71 L669.70,391.74 L670.85,391.77 L672.00,391.79 L673.15,391.82 L674.31,391.84 L675.46,391.87 L676.61,391.89 L677.76,391.91 L678.91,391.92 L680.06,391.94 L681.21,391.96 L682.37,391.97 L683.52,391.99 L684.67,392.00 L685.82,392.02 L686.97,392.03 L688.12,392.04 L689.27,392.05 L690.43,392.06 L691.58,392.07 L692.73,392.08 L693.88,392.09 L695.03,392.10 L696.18,392.10 L697.34,392.11 L698.49,392.12 L699.64,392.12 L700.79,392.13 L701.94,392.13 L703.09,392.14 L704.24,392.14 L705.40,392.15 L706.55,392.15 L707.70,392.16 L708.85,392.16 L710.00,392.16 L711.15,392.17 L712.30,392.17 L713.46,392.17 L714.61,392.17 L715.76,392.17 L716.91,392.18 L718.06,392.18 L719.21,392.18 L720.37,392.18 L721.52,392.18 L722.67,392.18 L723.82,392.19 L724.97,392.19 L726.12,392.19 L727.27,392.19 L728.43,392.19 L729.58,392.19 L730.73,392.19 L731.88,392.19 L733.03,392.19 L734.18,392.19 L735.33,392.19 L736.49,392.19 L737.64,392.19 L738.79,392.20 L739.94,392.20 L741.09,392.20 L742.24,392.20 L743.39,392.20 L744.55,392.20 L745.70,392.20 L746.85,392.20 L748.00,392.20 L749.15,392.20 L750.30,392.20 L751.46,392.20 L752.61,392.20 L753.76,392.20 L754.91,392.20 L756.06,392.20 L757.21,392.20 L758.36,392.20 L759.52,392.20 L760.67,392.20 L761.82,392.20 L762.97,392.20 L764.12,392.20 L765.27,392.20 L766.42,392.20 L767.58,392.20 L768.73,392.20 L769.88,392.20 L771.03,392.20 L772.18,392.20 L773.33,392.20 L774.49,392.20 L775.64,392.20 L776.79,392.20 L777.94,392.20 L779.09,392.20 L780.24,392.20 L781.39,392.20 L782.55,392.20 L783.70,392.20 L784.85,392.20 L786.00,392.20 L787.15,392.20 L788.30,392.20 L789.46,392.20 L790.61,392.20 L791.76,392.20 L792.91,392.20 L794.06,392.20 L795.21,392.20 L796.36,392.20 L797.52,392.20 L798.67,392.20 L799.82,392.20 L800.97,392.20 L802.12,392.20 L803.27,392.20 L804.42,392.20 L805.58,392.20 L806.73,392.20 L807.88,392.20 L809.03,392.20 L810.18,392.20 L811.33,392.20 L812.49,392.20 L813.64,392.20 L814.79,392.20 L815.94,392.20 L817.09,392.20 L818.24,392.20 L819.39,392.20 L820.55,392.20 L821.70,392.20 L822.85,392.20 L824.00,392.20" fill="none" stroke="#238a8d" stroke-width="4.15" stroke-linejoin="round" stroke-dasharray="26.56 6.64 4.15 6.64"/>
<path d="M133.10,18.75 L134.25,18.75 L135.40,18.75 L136.55,18.75 L137.71,18.75 L138.86,18.75 L140.01,18.75 L141.16,18.75 L142.31,18.75 L143.46,18.75 L144.62,18.75 L145.77,18.75 L146.92,18.75 L148.07,18.75 L149.22,18.75 L150.37,18.75 L151.52,18.75 L152.68,18.75 L153.83,18.75 L154.98,18.75 L156.13,18.75 L157.28,18.75 L158.43,18.75 L159.58,18.75 L160.74,18.75 L161.89,18.75 L163.04,18.75 L164.19,18.75 L165.34,18.75 L166.49,18.75 L167.64,18.75 L168.80,18.75 L169.95,18.75 L171.10,18.75 L172.25,18.76 L173.40,18.76 L174.55,18.76 L175.71,18.76 L176.86,18.76 L178.01,18.76 L179.16,18.76 L180.31,18.76 L181.46,18.76 L182.61,18.76 L183.77,18.77 L184.92,18.77 L186.07,18.77 L187.22,18.77 L188.37,18.77 L189.52,18.77 L190.68,18.77 L191.83,18.77 L192.98,18.77 L194.13,18.77 L195.28,18.77 L196.43,18.77 L197.58,18.77 L198.74,18.77 L199.89,18.77 L201.04,18.77 L202.19,18.77 L203.34,18.77 L204.49,18.77 L205.64,18.77 L206.80,18.77 L207.95,18.77 L209.10,18.77 L210.25,18.77 L211.40,18.77 L212.55,18.78 L213.71,18.78 L214.86,18.78 L216.01,18.78 L217.16,18.78 L218.31,18.78 L219.46,18.78 L220.61,18.78 L221.77,18.78 L222.92,18.79 L224.07,18.79 L225.22,18.79 L226.37,18.79 L227.52,18.80 L228.67,18.80 L229.83,18.80 L230.98,18.80 L232.13,18.81 L233.28,18.81 L234.43,18.82 L235.58,18.82 L236.73,18.83 L237.89,18.83 L239.04,18.84 L240.19,18.84 L241.34,18.85 L242.49,18.86 L243.64,18.86 L244.80,18.87 L245.95,18.88 L247.10,18.89 L248.25,18.90 L249.40,18.92 L250.55,18.93 L251.70,18.94 L252.86,18.96 L254.01,18.97 L255.16,18.99 L256.31,19.01 L257.46,19.02 L258.61,19.04 L259.76,19.07 L260.92,19.09 L262.07,19.12 L263.22,19.15 L264.37,19.18 L265.52,19.22 L266.67,19.26 L267.83,19.30 L268.98,19.34 L270.13,19.39 L271.28,19.44 L272.43,19.49 L273.58,19.54 L274.73,19.59 L275.89,19.65 L277.04,19.71 L278.19,19.78 L279.34,19.85 L280.49,19.92 L281.64,19.99 L282.80,20.07 L283.95,20.16 L285.10,20.25 L286.25,20.34 L287.40,20.44 L288.55,20.55 L289.70,20.65 L290.86,20.77 L292.01,20.89 L293.16,21.01 L294.31,21.14 L295.46,21.27 L296.61,21.41 L297.76,21.56 L298.92,21.72 L300.07,21.88 L301.22,22.06 L302.37,22.24 L303.52,22.43 L304.67,22.63 L305.82,22.83 L306.98,23.04 L308.13,23.26 L309.28,23.48 L310.43,23.72 L311.58,23.96 L312.73,24.22 L313.89,24.48 L315.04,24.75 L316.19,25.02 L317.34,25.30 L318.49,25.59 L319.64,25.88 L320.79,26.17 L321.95,26.47 L323.10,26.78 L324.25,27.09 L325.40,27.41 L326.55,27.73 L327.70,28.06 L328.86,28.40 L330.01,28.74 L331.16,29.09 L332.31,29.45 L333.46,29.82 L334.61,30.19 L335.76,30.57 L336.92,30.95 L338.07,31.35 L339.22,31.75 L340.37,32.16 L341.52,32.57 L342.67,33.00 L343.82,33.43 L344.98,33.87 L346.13,34.32 L347.28,34.77 L348.43,35.23 L349.58,35.70 L350.73,36.17 L351.88,36.65 L353.04,37.14 L354.19,37.64 L355.34,38.14 L356.49,38.65 L357.64,39.17 L358.79,39.70 L359.95,40.23 L361.10,40.76 L362.25,41.30 L363.40,41.83 L364.55,42.35 L365.70,42.88 L366.85,43.40 L368.01,43.92 L369.16,44.43 L370.31,44.94 L371.46,45.44 L372.61,45.94 L373.76,46.42 L374.92,46.90 L376.07,47.36 L377.22,47.81 L378.37,48.25 L379.52,48.67 L380.67,49.08 L381.82,49.46 L382.98,49.84 L384.13,50.19 L385.28,50.53 L386.43,50.85 L387.58,51.15 L388.73,51.43 L389.88,51.69 L391.04,51.92 L392.19,52.13 L393.34,52.32 L394.49,52.49 L395.64,52.63 L396.79,52.75 L397.95,52.85 L399.10,52.92 L400.25,52.96 L401.40,52.99 L402.55,52.99 L403.70,52.96 L404.85,52.91 L406.01,52.84 L407.16,52.75 L408.31,52.63 L409.46,52.49 L410.61,52.32 L411.76,52.13 L412.91,51.92 L414.07,51.68 L415.22,51.43 L416.37,51.15 L417.52,50.84 L418.67,50.52 L419.82,50.17 L420.98,49.80 L422.13,49.41 L423.28,49.00 L424.43,48.57 L425.58,48.12 L426.73,47.66 L427.88,47.17 L429.04,46.67 L430.19,46.16 L431.34,45.63 L432.49,45.08 L433.64,44.52 L434.79,43.94 L435.94,43.35 L437.10,42.74 L438.25,42.12 L439.40,41.48 L440.55,40.83 L441.70,40.17 L442.85,39.51 L444.01,38.84 L445.16,38.16 L446.31,37.49 L447.46,36.82 L448.61,36.15 L449.76,35.49 L450.91,34.84 L452.07,34.19 L453.22,33.56 L454.37,32.94 L455.52,32.32 L456.67,31.72 L457.82,31.12 L458.97,30.53 L460.13,29.97 L461.28,29.42 L462.43,28.90 L463.58,28.41 L464.73,27.95 L465.88,27.52 L467.04,27.12 L468.19,26.76 L469.34,26.43 L470.49,26.14 L471.64,25.88 L472.79,25.66 L473.94,25.48 L475.10,25.33 L476.25,25.22 L477.40,25.15 L478.55,25.12 L479.70,25.13 L480.85,25.17 L482.00,25.26 L483.16,25.38 L484.31,25.54 L485.46,25.73 L486.61,25.95 L487.76,26.22 L488.91,26.51 L490.06,26.84 L491.22,27.21 L492.37,27.61 L493.52,28.04 L494.67,28.50 L495.82,28.99 L496.97,29.50 L498.13,30.05 L499.28,30.62 L500.43,31.22 L501.58,31.84 L502.73,32.48 L503.88,33.14 L505.03,33.82 L506.19,34.51 L507.34,35.22 L508.49,35.93 L509.64,36.64 L510.79,37.36 L511.94,38.07 L513.10,38.78 L514.25,39.48 L515.40,40.16 L516.55,40.84 L517.70,41.51 L518.85,42.16 L520.00,42.80 L521.16,43.42 L522.31,44.03 L523.46,44.62 L524.61,45.20 L525.76,45.76 L526.91,46.30 L528.06,46.82 L529.22,47.32 L530.37,47.79 L531.52,48.25 L532.67,48.69 L533.82,49.10 L534.97,49.49 L536.12,49.86 L537.28,50.21 L538.43,50.53 L539.58,50.83 L540.73,51.11 L541.88,51.36 L543.03,51.59 L544.19,51.80 L545.34,51.98 L546.49,52.15 L547.64,52.29 L548.79,52.40 L549.94,52.50 L551.09,52.57 L552.25,52.63 L553.40,52.66 L554.55,52.66 L555.70,52.65 L556.85,52.62 L558.00,52.57 L559.15,52.50 L560.31,52.40 L561.46,52.29 L562.61,52.16 L563.76,52.00 L564.91,51.83 L566.06,51.64 L567.22,51.43 L568.37,51.21 L569.52,50.96 L570.67,50.70 L571.82,50.42 L572.97,50.13 L574.12,49.82 L575.28,49.49 L576.43,49.15 L577.58,48.79 L578.73,48.42 L579.88,48.03 L581.03,47.63 L582.18,47.22 L583.34,46.79 L584.49,46.36 L585.64,45.91 L586.79,45.45 L587.94,44.99 L589.09,44.51 L590.25,44.02 L591.40,43.53 L592.55,43.03 L593.70,42.52 L594.85,42.00 L596.00,41.47 L597.15,40.94 L598.31,40.40 L599.46,39.86 L600.61,39.32 L601.76,38.78 L602.91,38.24 L604.06,37.70 L605.21,37.18 L606.37,36.66 L607.52,36.14 L608.67,35.64 L609.82,35.14 L610.97,34.64 L612.12,34.16 L613.28,33.67 L614.43,33.20 L615.58,32.73 L616.73,32.27 L617.88,31.82 L619.03,31.37 L620.18,30.93 L621.34,30.49 L622.49,30.06 L623.64,29.65 L624.79,29.24 L625.94,28.84 L627.09,28.45 L628.25,28.08 L629.40,27.71 L630.55,27.36 L631.70,27.02 L632.85,26.70 L634.00,26.38 L635.15,26.07 L636.31,25.77 L637.46,25.48 L638.61,25.20 L639.76,24.93 L640.91,24.67 L642.06,24.41 L643.21,24.16 L644.37,23.92 L645.52,23.69 L646.67,23.46 L647.82,23.24 L648.97,23.03 L650.12,22.82 L651.28,22.62 L652.43,22.42 L653.58,22.24 L654.73,22.06 L655.88,21.88 L657.03,21.71 L658.18,21.55 L659.34,21.40 L660.49,21.25 L661.64,21.11 L662.79,20.97 L663.94,20.85 L665.09,20.72 L666.24,20.61 L667.40,20.49 L668.55,20.39 L669.70,20.29 L670.85,20.19 L672.00,20.10 L673.15,20.02 L674.31,19.94 L675.46,19.86 L676.61,19.79 L677.76,19.73 L678.91,19.67 L680.06,19.61 L681.21,19.55 L682.37,19.50 L683.52,19.45 L684.67,19.41 L685.82,19.36 L686.97,19.32 L688.12,19.29 L689.27,19.25 L690.43,19.21 L691.58,19.18 L692.73,19.15 L693.88,19.12 L695.03,19.10 L696.18,19.07 L697.34,19.05 L698.49,19.03 L699.64,19.00 L700.79,18.99 L701.94,18.97 L703.09,18.95 L704.24,18.94 L705.40,18.92 L706.55,18.91 L707.70,18.90 L708.85,18.89 L710.00,18.88 L711.15,18.87 L712.30,18.86 L713.46,18.85 L714.61,18.84 L715.76,18.83 L716.91,18.83 L718.06,18.82 L719.21,18.82 L720.37,18.81 L721.52,18.81 L722.67,18.80 L723.82,18.80 L724.97,18.79 L726.12,18.79 L727.27,18.79 L728.43,18.78 L729.58,18.78 L730.73,18.78 L731.88,18.78 L733.03,18.77 L734.18,18.77 L735.33,18.77 L736.49,18.77 L737.64,18.77 L738.79,18.77 L739.94,18.76 L741.09,18.76 L742.24,18.76 L743.39,18.76 L744.55,18.76 L745.70,18.76 L746.85,18.76 L748.00,18.76 L749.15,18.76 L750.30,18.76 L751.46,18.76 L752.61,18.76 L753.76,18.76 L754.91,18.76 L756.06,18.76 L757.21,18.75 L758.36,18.75 L759.52,18.75 L760.67,18.75 L761.82,18.75 L762.97,18.75 L764.12,18.75 L765.27,18.75 L766.42,18.75 L767.58,18.75 L768.73,18.75 L769.88,18.75 L771.03,18.75 L772.18,18.75 L773.33,18.75 L774.49,18.75 L775.64,18.75 L776.79,18.75 L777.94,18.75 L779.09,18.75 L780.24,18.75 L781.39,18.75 L782.55,18.75 L783.70,18.75 L784.85,18.75 L786.00,18.75 L787.15,18.75 L788.30,18.75 L789.46,18.75 L790.61,18.75 L791.76,18.75 L792.91,18.75 L794.06,18.75 L795.21,18.75 L796.36,18.75 L797.52,18.75 L798.67,18.75 L799.82,18.75 L800.97,18.75 L802.12,18.75 L803.27,18.75 L804.42,18.75 L805.58,18.75 L806.73,18.75 L807.88,18.75 L809.03,18.75 L810.18,18.75 L811.33,18.75 L812.49,18.75 L813.64,18.75 L814.79,18.75 L815.94,18.75 L817.09,18.75 L818.24,18.75 L819.39,18.75 L820.55,18.75 L821.70,18.75 L822.85,18.75 L824.00,18.75" fill="none" stroke="#4ac16d" stroke-width="4.15" stroke-linejoin="round" stroke-dasharray="15.36 6.64"/>
<path d="M133.10,392.20 L134.25,392.20 L135.40,392.20 L136.55,392.20 L137.71,392.20 L138.86,392.20 L140.01,392.20 L141.16,392.20 L142.31,392.20 L143.46,392.20 L144.62,392.20 L145.77,392.20 L146.92,392.20 L148.07,392.20 L149.22,392.20 L150.37,392.20 L151.52,392.20 L152.68,392.20 L153.83,392.20 L154.98,392.20 L156.13,392.20 L157.28,392.20 L158.43,392.20 L159.58,392.20 L160.74,392.20 L161.89,392.20 L163.04,392.20 L164.19,392.07 L165.34,391.85 L166.49,391.64 L167.64,391.45 L168.80,391.26 L169.95,391.09 L171.10,390.94 L172.25,390.79 L173.40,390.65 L174.55,390.52 L175.71,390.41 L176.86,390.30 L178.01,390.20 L179.16,390.11 L180.31,390.03 L181.46,389.95 L182.61,389.88 L183.77,389.82 L184.92,389.76 L186.07,389.71 L187.22,389.67 L188.37,389.63 L189.52,389.59 L190.68,389.56 L191.83,389.54 L192.98,389.51 L194.13,389.49 L195.28,389.47 L196.43,389.45 L197.58,389.44 L198.74,389.42 L199.89,389.40 L201.04,389.39 L202.19,389.37 L203.34,389.36 L204.49,389.34 L205.64,389.32 L206.80,389.30 L207.95,389.27 L209.10,389.25 L210.25,389.22 L211.40,389.18 L212.55,389.14 L213.71,389.10 L214.86,389.05 L216.01,389.00 L217.16,388.94 L218.31,388.87 L219.46,388.80 L220.61,388.71 L221.77,388.63 L222.92,388.53 L224.07,388.43 L225.22,388.32 L226.37,388.20 L227.52,388.08 L228.67,387.95 L229.83,387.81 L230.98,387.67 L232.13,387.53 L233.28,387.38 L234.43,387.22 L235.58,387.06 L236.73,386.89 L237.89,386.72 L239.04,386.53 L240.19,386.34 L241.34,386.13 L242.49,385.91 L243.64,385.67 L244.80,385.43 L245.95,385.17 L247.10,384.91 L248.25,384.63 L249.40,384.35 L250.55,384.05 L251.70,383.75 L252.86,383.44 L254.01,383.12 L255.16,382.79 L256.31,382.44 L257.46,382.09 L258.61,381.71 L259.76,381.32 L260.92,380.89 L262.07,380.44 L263.22,379.97 L264.37,379.47 L265.52,378.96 L266.67,378.43 L267.83,377.89 L268.98,377.33 L270.13,376.77 L271.28,376.20 L272.43,375.63 L273.58,375.05 L274.73,374.46 L275.89,373.86 L277.04,373.25 L278.19,372.63 L279.34,371.99 L280.49,371.34 L281.64,370.67 L282.80,369.99 L283.95,369.29 L285.10,368.58 L286.25,367.85 L287.40,367.11 L288.55,366.35 L289.70,365.58 L290.86,364.81 L292.01,364.02 L293.16,363.23 L294.31,362.42 L295.46,361.59 L296.61,360.75 L297.76,359.89 L298.92,359.00 L300.07,358.10 L301.22,357.17 L302.37,356.22 L303.52,355.26 L304.67,354.30 L305.82,353.32 L306.98,352.34 L308.13,351.35 L309.28,350.35 L310.43,349.34 L311.58,348.31 L312.73,347.26 L313.89,346.21 L315.04,345.17 L316.19,344.12 L317.34,343.07 L318.49,342.03 L319.64,340.99 L320.79,339.95 L321.95,338.92 L323.10,337.89 L324.25,336.86 L325.40,335.84 L326.55,334.81 L327.70,333.79 L328.86,332.76 L330.01,331.73 L331.16,330.70 L332.31,329.67 L333.46,328.64 L334.61,327.61 L335.76,326.57 L336.92,325.54 L338.07,324.50 L339.22,323.45 L340.37,322.41 L341.52,321.36 L342.67,320.31 L343.82,319.26 L344.98,318.21 L346.13,317.16 L347.28,316.11 L348.43,315.06 L349.58,314.01 L350.73,312.96 L351.88,311.91 L353.04,310.87 L354.19,309.82 L355.34,308.78 L356.49,307.73 L357.64,306.67 L358.79,305.63 L359.95,304.58 L361.10,303.55 L362.25,302.53 L363.40,301.53 L364.55,300.55 L365.70,299.59 L366.85,298.64 L368.01,297.72 L369.16,296.81 L370.31,295.92 L371.46,295.05 L372.61,294.20 L373.76,293.37 L374.92,292.57 L376.07,291.80 L377.22,291.06 L378.37,290.35 L379.52,289.67 L380.67,289.02 L381.82,288.40 L382.98,287.82 L384.13,287.26 L385.28,286.73 L386.43,286.24 L387.58,285.77 L388.73,285.35 L389.88,284.96 L391.04,284.60 L392.19,284.28 L393.34,284.00 L394.49,283.75 L395.64,283.53 L396.79,283.35 L397.95,283.21 L399.10,283.11 L400.25,283.04 L401.40,283.00 L402.55,283.00 L403.70,283.04 L404.85,283.11 L406.01,283.22 L407.16,283.36 L408.31,283.54 L409.46,283.75 L410.61,284.00 L411.76,284.28 L412.91,284.60 L414.07,284.96 L415.22,285.35 L416.37,285.78 L417.52,286.25 L418.67,286.75 L419.82,287.29 L420.98,287.87 L422.13,288.48 L423.28,289.14 L424.43,289.83 L425.58,290.56 L426.73,291.32 L427.88,292.12 L429.04,292.95 L430.19,293.82 L431.34,294.73 L432.49,295.67 L433.64,296.65 L434.79,297.68 L435.94,298.74 L437.10,299.84 L438.25,300.99 L439.40,302.18 L440.55,303.42 L441.70,304.70 L442.85,306.01 L444.01,307.35 L445.16,308.73 L446.31,310.14 L447.46,311.56 L448.61,313.01 L449.76,314.48 L450.91,315.96 L452.07,317.45 L453.22,318.95 L454.37,320.46 L455.52,321.99 L456.67,323.53 L457.82,325.09 L458.97,326.66 L460.13,328.22 L461.28,329.76 L462.43,331.27 L463.58,332.74 L464.73,334.15 L465.88,335.49 L467.04,336.76 L468.19,337.95 L469.34,339.05 L470.49,340.06 L471.64,340.96 L472.79,341.76 L473.94,342.42 L475.10,342.96 L476.25,343.36 L477.40,343.63 L478.55,343.75 L479.70,343.72 L480.85,343.55 L482.00,343.23 L483.16,342.79 L484.31,342.21 L485.46,341.52 L486.61,340.71 L487.76,339.80 L488.91,338.78 L490.06,337.67 L491.22,336.48 L492.37,335.21 L493.52,333.87 L494.67,332.47 L495.82,331.02 L496.97,329.52 L498.13,327.99 L499.28,326.42 L500.43,324.83 L501.58,323.22 L502.73,321.59 L503.88,319.96 L505.03,318.33 L506.19,316.70 L507.34,315.09 L508.49,313.50 L509.64,311.94 L510.79,310.41 L511.94,308.91 L513.10,307.47 L514.25,306.07 L515.40,304.71 L516.55,303.40 L517.70,302.13 L518.85,300.91 L520.00,299.73 L521.16,298.60 L522.31,297.51 L523.46,296.46 L524.61,295.46 L525.76,294.50 L526.91,293.59 L528.06,292.71 L529.22,291.88 L530.37,291.10 L531.52,290.35 L532.67,289.65 L533.82,288.98 L534.97,288.36 L536.12,287.78 L537.28,287.24 L538.43,286.73 L539.58,286.27 L540.73,285.84 L541.88,285.45 L543.03,285.10 L544.19,284.78 L545.34,284.50 L546.49,284.26 L547.64,284.05 L548.79,283.87 L549.94,283.73 L551.09,283.62 L552.25,283.54 L553.40,283.50 L554.55,283.48 L555.70,283.50 L556.85,283.55 L558.00,283.63 L559.15,283.74 L560.31,283.88 L561.46,284.04 L562.61,284.24 L563.76,284.47 L564.91,284.73 L566.06,285.02 L567.22,285.34 L568.37,285.69 L569.52,286.06 L570.67,286.47 L571.82,286.90 L572.97,287.36 L574.12,287.85 L575.28,288.37 L576.43,288.91 L577.58,289.48 L578.73,290.08 L579.88,290.71 L581.03,291.37 L582.18,292.05 L583.34,292.75 L584.49,293.48 L585.64,294.24 L586.79,295.03 L587.94,295.83 L589.09,296.67 L590.25,297.52 L591.40,298.41 L592.55,299.31 L593.70,300.25 L594.85,301.21 L596.00,302.20 L597.15,303.22 L598.31,304.25 L599.46,305.31 L600.61,306.39 L601.76,307.48 L602.91,308.58 L604.06,309.68 L605.21,310.79 L606.37,311.91 L607.52,313.03 L608.67,314.15 L609.82,315.27 L610.97,316.40 L612.12,317.54 L613.28,318.68 L614.43,319.82 L615.58,320.97 L616.73,322.12 L617.88,323.28 L619.03,324.44 L620.18,325.61 L621.34,326.78 L622.49,327.95 L623.64,329.12 L624.79,330.28 L625.94,331.45 L627.09,332.60 L628.25,333.74 L629.40,334.87 L630.55,335.99 L631.70,337.09 L632.85,338.17 L634.00,339.24 L635.15,340.30 L636.31,341.36 L637.46,342.40 L638.61,343.44 L639.76,344.46 L640.91,345.48 L642.06,346.49 L643.21,347.50 L644.37,348.49 L645.52,349.48 L646.67,350.47 L647.82,351.45 L648.97,352.42 L650.12,353.39 L651.28,354.35 L652.43,355.30 L653.58,356.24 L654.73,357.18 L655.88,358.11 L657.03,359.03 L658.18,359.93 L659.34,360.83 L660.49,361.71 L661.64,362.58 L662.79,363.44 L663.94,364.28 L665.09,365.11 L666.24,365.92 L667.40,366.72 L668.55,367.50 L669.70,368.27 L670.85,369.01 L672.00,369.74 L673.15,370.45 L674.31,371.15 L675.46,371.82 L676.61,372.48 L677.76,373.11 L678.91,373.73 L680.06,374.32 L681.21,374.90 L682.37,375.47 L683.52,376.01 L684.67,376.55 L685.82,377.06 L686.97,377.57 L688.12,378.07 L689.27,378.55 L690.43,379.03 L691.58,379.50 L692.73,379.96 L693.88,380.40 L695.03,380.84 L696.18,381.26 L697.34,381.67 L698.49,382.07 L699.64,382.45 L700.79,382.82 L701.94,383.18 L703.09,383.52 L704.24,383.86 L705.40,384.18 L706.55,384.49 L707.70,384.79 L708.85,385.07 L710.00,385.35 L711.15,385.62 L712.30,385.87 L713.46,386.12 L714.61,386.36 L715.76,386.59 L716.91,386.82 L718.06,387.03 L719.21,387.24 L720.37,387.45 L721.52,387.64 L722.67,387.83 L723.82,388.01 L724.97,388.18 L726.12,388.35 L727.27,388.51 L728.43,388.67 L729.58,388.81 L730.73,388.95 L731.88,389.09 L733.03,389.22 L734.18,389.34 L735.33,389.46 L736.49,389.57 L737.64,389.68 L738.79,389.78 L739.94,389.88 L741.09,389.97 L742.24,390.06 L743.39,390.15 L744.55,390.23 L745.70,390.30 L746.85,390.37 L748.00,390.44 L749.15,390.51 L750.30,390.57 L751.46,390.62 L752.61,390.68 L753.76,390.73 L754.91,390.78 L756.06,390.83 L757.21,390.87 L758.36,390.91 L759.52,390.95 L760.67,390.99 L761.82,391.02 L762.97,391.06 L764.12,391.09 L765.27,391.11 L766.42,391.14 L767.58,391.17 L768.73,391.19 L769.88,391.21 L771.03,391.23 L772.18,391.25 L773.33,391.27 L774.49,391.29 L775.64,391.30 L776.79,391.32 L777.94,391.33 L779.09,391.35 L780.24,391.36 L781.39,391.37 L782.55,391.38 L783.70,391.40 L784.85,391.41 L786.00,391.42 L787.15,391.43 L788.30,391.44 L789.46,391.45 L790.61,391.47 L791.76,391.48 L792.91,391.49 L794.06,391.50 L795.21,391.52 L796.36,391.53 L797.52,391.54 L798.67,391.56 L799.82,391.57 L800.97,391.58 L802.12,391.60 L803.27,391.61 L804.42,391.63 L805.58,391.64 L806.73,391.66 L807.88,391.67 L809.03,391.69 L810.18,391.70 L811.33,391.72 L812.49,391.73 L813.64,391.75 L814.79,391.76 L815.94,391.78 L817.09,391.80 L818.24,391.81 L819.39,391.83 L820.55,391.84 L821.70,391.86 L822.85,391.88 L824.00,391.89" fill="none" stroke="#4ac16d" stroke-width="4.15" stroke-linejoin="round" stroke-linecap="square"/>
<path d="M133.10,392.20 L134.25,392.20 L135.40,392.20 L136.55,392.20 L137.71,392.20 L138.86,392.20 L140.01,392.20 L141.16,392.20 L142.31,392.20 L143.46,392.20 L144.62,392.20 L145.77,392.20 L146.92,392.20 L148.07,392.20 L149.22,392.20 L150.37,392.20 L151.52,392.20 L152.68,392.20 L153.83,392.20 L154.98,392.20 L156.13,392.20 L157.28,392.20 L158.43,392.20 L159.58,392.20 L160.74,392.20 L161.89,392.20 L163.04,392.20 L164.19,392.20 L165.34,392.20 L166.49,392.20 L167.64,392.20 L168.80,392.20 L169.95,392.20 L171.10,392.20 L172.25,392.20 L173.40,392.20 L174.55,392.20 L175.71,392.20 L176.86,392.19 L178.01,392.19 L179.16,392.19 L180.31,392.19 L181.46,392.19 L182.61,392.19 L183.77,392.19 L184.92,392.19 L186.07,392.19 L187.22,392.19 L188.37,392.19 L189.52,392.19 L190.68,392.19 L191.83,392.19 L192.98,392.19 L194.13,392.19 L195.28,392.19 L196.43,392.19 L197.58,392.19 L198.74,392.19 L199.89,392.19 L201.04,392.19 L202.19,392.19 L203.34,392.19 L204.49,392.19 L205.64,392.19 L206.80,392.19 L207.95,392.19 L209.10,392.19 L210.25,392.19 L211.40,392.19 L212.55,392.19 L213.71,392.19 L214.86,392.19 L216.01,392.19 L217.16,392.19 L218.31,392.18 L219.46,392.18 L220.61,392.18 L221.77,392.18 L222.92,392.18 L224.07,392.18 L225.22,392.18 L226.37,392.18 L227.52,392.18 L228.67,392.17 L229.83,392.17 L230.98,392.17 L232.13,392.17 L233.28,392.17 L234.43,392.17 L235.58,392.16 L236.73,392.16 L237.89,392.16 L239.04,392.16 L240.19,392.15 L241.34,392.15 L242.49,392.14 L243.64,392.14 L244.80,392.14 L245.95,392.13 L247.10,392.13 L248.25,392.12 L249.40,392.11 L250.55,392.11 L251.70,392.10 L252.86,392.09 L254.01,392.09 L255.16,392.08 L256.31,392.07 L257.46,392.06 L258.61,392.05 L259.76,392.04 L260.92,392.02 L262.07,392.01 L263.22,391.99 L264.37,391.97 L265.52,391.96 L266.67,391.94 L267.83,391.91 L268.98,391.89 L270.13,391.87 L271.28,391.84 L272.43,391.82 L273.58,391.79 L274.73,391.76 L275.89,391.73 L277.04,391.70 L278.19,391.67 L279.34,391.63 L280.49,391.59 L281.64,391.55 L282.80,391.51 L283.95,391.47 L285.10,391.42 L286.25,391.37 L287.40,391.32 L288.55,391.27 L289.70,391.21 L290.86,391.16 L292.01,391.09 L293.16,391.03 L294.31,390.96 L295.46,390.90 L296.61,390.82 L297.76,390.75 L298.92,390.67 L300.07,390.58 L301.22,390.49 L302.37,390.40 L303.52,390.30 L304.67,390.20 L305.82,390.10 L306.98,389.99 L308.13,389.88 L309.28,389.76 L310.43,389.64 L311.58,389.52 L312.73,389.39 L313.89,389.26 L315.04,389.12 L316.19,388.98 L317.34,388.84 L318.49,388.70 L319.64,388.55 L320.79,388.40 L321.95,388.25 L323.10,388.09 L324.25,387.94 L325.40,387.78 L326.55,387.61 L327.70,387.45 L328.86,387.28 L330.01,387.11 L331.16,386.93 L332.31,386.76 L333.46,386.58 L334.61,386.39 L335.76,386.20 L336.92,386.01 L338.07,385.82 L339.22,385.62 L340.37,385.42 L341.52,385.21 L342.67,385.00 L343.82,384.79 L344.98,384.58 L346.13,384.36 L347.28,384.14 L348.43,383.91 L349.58,383.69 L350.73,383.46 L351.88,383.22 L353.04,382.99 L354.19,382.75 L355.34,382.51 L356.49,382.26 L357.64,382.02 L358.79,381.76 L359.95,381.51 L361.10,381.26 L362.25,381.00 L363.40,380.75 L364.55,380.50 L365.70,380.26 L366.85,380.01 L368.01,379.77 L369.16,379.53 L370.31,379.29 L371.46,379.06 L372.61,378.83 L373.76,378.60 L374.92,378.38 L376.07,378.17 L377.22,377.96 L378.37,377.76 L379.52,377.56 L380.67,377.38 L381.82,377.20 L382.98,377.03 L384.13,376.87 L385.28,376.71 L386.43,376.57 L387.58,376.43 L388.73,376.30 L389.88,376.19 L391.04,376.08 L392.19,375.98 L393.34,375.90 L394.49,375.82 L395.64,375.76 L396.79,375.70 L397.95,375.66 L399.10,375.63 L400.25,375.61 L401.40,375.60 L402.55,375.60 L403.70,375.61 L404.85,375.63 L406.01,375.66 L407.16,375.71 L408.31,375.76 L409.46,375.82 L410.61,375.90 L411.76,375.98 L412.91,376.08 L414.07,376.19 L415.22,376.30 L416.37,376.43 L417.52,376.57 L418.67,376.72 L419.82,376.87 L420.98,377.04 L422.13,377.22 L423.28,377.41 L424.43,377.61 L425.58,377.81 L426.73,378.03 L427.88,378.25 L429.04,378.48 L430.19,378.72 L431.34,378.97 L432.49,379.23 L433.64,379.49 L434.79,379.76 L435.94,380.04 L437.10,380.32 L438.25,380.62 L439.40,380.92 L440.55,381.23 L441.70,381.54 L442.85,381.86 L444.01,382.18 L445.16,382.50 L446.31,382.82 L447.46,383.15 L448.61,383.47 L449.76,383.79 L450.91,384.11 L452.07,384.42 L453.22,384.73 L454.37,385.03 L455.52,385.34 L456.67,385.63 L457.82,385.93 L458.97,386.22 L460.13,386.50 L461.28,386.77 L462.43,387.03 L463.58,387.28 L464.73,387.51 L465.88,387.72 L467.04,387.92 L468.19,388.10 L469.34,388.27 L470.49,388.41 L471.64,388.54 L472.79,388.66 L473.94,388.75 L475.10,388.82 L476.25,388.88 L477.40,388.91 L478.55,388.93 L479.70,388.93 L480.85,388.90 L482.00,388.86 L483.16,388.80 L484.31,388.72 L485.46,388.62 L486.61,388.51 L487.76,388.38 L488.91,388.23 L490.06,388.06 L491.22,387.88 L492.37,387.68 L493.52,387.46 L494.67,387.23 L495.82,386.99 L496.97,386.73 L498.13,386.46 L499.28,386.18 L500.43,385.88 L501.58,385.57 L502.73,385.26 L503.88,384.93 L505.03,384.60 L506.19,384.26 L507.34,383.92 L508.49,383.58 L509.64,383.23 L510.79,382.88 L511.94,382.54 L513.10,382.20 L514.25,381.87 L515.40,381.54 L516.55,381.22 L517.70,380.90 L518.85,380.60 L520.00,380.29 L521.16,380.00 L522.31,379.72 L523.46,379.44 L524.61,379.17 L525.76,378.91 L526.91,378.66 L528.06,378.42 L529.22,378.19 L530.37,377.97 L531.52,377.76 L532.67,377.56 L533.82,377.37 L534.97,377.19 L536.12,377.02 L537.28,376.86 L538.43,376.71 L539.58,376.58 L540.73,376.45 L541.88,376.33 L543.03,376.23 L544.19,376.13 L545.34,376.05 L546.49,375.98 L547.64,375.91 L548.79,375.86 L549.94,375.82 L551.09,375.78 L552.25,375.76 L553.40,375.75 L554.55,375.74 L555.70,375.75 L556.85,375.76 L558.00,375.79 L559.15,375.82 L560.31,375.86 L561.46,375.91 L562.61,375.97 L563.76,376.04 L564.91,376.12 L566.06,376.20 L567.22,376.30 L568.37,376.40 L569.52,376.51 L570.67,376.63 L571.82,376.76 L572.97,376.90 L574.12,377.04 L575.28,377.19 L576.43,377.34 L577.58,377.51 L578.73,377.68 L579.88,377.86 L581.03,378.04 L582.18,378.23 L583.34,378.43 L584.49,378.63 L585.64,378.84 L586.79,379.05 L587.94,379.27 L589.09,379.49 L590.25,379.72 L591.40,379.95 L592.55,380.19 L593.70,380.43 L594.85,380.67 L596.00,380.92 L597.15,381.17 L598.31,381.43 L599.46,381.69 L600.61,381.95 L601.76,382.21 L602.91,382.46 L604.06,382.72 L605.21,382.97 L606.37,383.22 L607.52,383.47 L608.67,383.72 L609.82,383.96 L610.97,384.20 L612.12,384.44 L613.28,384.67 L614.43,384.91 L615.58,385.13 L616.73,385.36 L617.88,385.59 L619.03,385.81 L620.18,386.02 L621.34,386.24 L622.49,386.45 L623.64,386.66 L624.79,386.86 L625.94,387.06 L627.09,387.25 L628.25,387.44 L629.40,387.62 L630.55,387.80 L631.70,387.97 L632.85,388.14 L634.00,388.29 L635.15,388.45 L636.31,388.60 L637.46,388.75 L638.61,388.89 L639.76,389.03 L640.91,389.16 L642.06,389.29 L643.21,389.42 L644.37,389.54 L645.52,389.66 L646.67,389.77 L647.82,389.89 L648.97,390.00 L650.12,390.10 L651.28,390.20 L652.43,390.30 L653.58,390.40 L654.73,390.49 L655.88,390.58 L657.03,390.67 L658.18,390.75 L659.34,390.83 L660.49,390.91 L661.64,390.98 L662.79,391.05 L663.94,391.11 L665.09,391.18 L666.24,391.24 L667.40,391.30 L668.55,391.35 L669.70,391.40 L670.85,391.45 L672.00,391.50 L673.15,391.54 L674.31,391.58 L675.46,391.62 L676.61,391.66 L677.76,391.69 L678.91,391.72 L680.06,391.76 L681.21,391.78 L682.37,391.81 L683.52,391.84 L684.67,391.86 L685.82,391.88 L686.97,391.90 L688.12,391.92 L689.27,391.94 L690.43,391.96 L691.58,391.98 L692.73,391.99 L693.88,392.01 L695.03,392.02 L696.18,392.03 L697.34,392.05 L698.49,392.06 L699.64,392.07 L700.79,392.08 L701.94,392.09 L703.09,392.10 L704.24,392.10 L705.40,392.11 L706.55,392.12 L707.70,392.12 L708.85,392.13 L710.00,392.13 L711.15,392.14 L712.30,392.14 L713.46,392.15 L714.61,392.15 L715.76,392.16 L716.91,392.16 L718.06,392.16 L719.21,392.17 L720.37,392.17 L721.52,392.17 L722.67,392.17 L723.82,392.18 L724.97,392.18 L726.12,392.18 L727.27,392.18 L728.43,392.18 L729.58,392.18 L730.73,392.19 L731.88,392.19 L733.03,392.19 L734.18,392.19 L735.33,392.19 L736.49,392.19 L737.64,392.19 L738.79,392.19 L739.94,392.19 L741.09,392.19 L742.24,392.19 L743.39,392.19 L744.55,392.19 L745.70,392.19 L746.85,392.20 L748.00,392.20 L749.15,392.20 L750.30,392.20 L751.46,392.20 L752.61,392.20 L753.76,392.20 L754.91,392.20 L756.06,392.20 L757.21,392.20 L758.36,392.20 L759.52,392.20 L760.67,392.20 L761.82,392.20 L762.97,392.20 L764.12,392.20 L765.27,392.20 L766.42,392.20 L767.58,392.20 L768.73,392.20 L769.88,392.20 L771.03,392.20 L772.18,392.20 L773.33,392.20 L774.49,392.20 L775.64,392.20 L776.79,392.20 L777.94,392.20 L779.09,392.20 L780.24,392.20 L781.39,392.20 L782.55,392.20 L783.70,392.20 L784.85,392.20 L786.00,392.20 L787.15,392.20 L788.30,392.20 L789.46,392.20 L790.61,392.20 L791.76,392.20 L792.91,392.20 L794.06,392.20 L795.21,392.20 L796.36,392.20 L797.52,392.20 L798.67,392.20 L799.82,392.20 L800.97,392.20 L802.12,392.20 L803.27,392.20 L804.42,392.20 L805.58,392.20 L806.73,392.20 L807.88,392.20 L809.03,392.20 L810.18,392.20 L811.33,392.20 L812.49,392.20 L813.64,392.20 L814.79,392.20 L815.94,392.20 L817.09,392.20 L818.24,392.20 L819.39,392.20 L820.55,392.20 L821.70,392.20 L822.85,392.20 L824.00,392.20" fill="none" stroke="#4ac16d" stroke-width="4.15" stroke-linejoin="round" stroke-dasharray="26.56 6.64 4.15 6.64"/>
<path d="M133.10,18.75 L134.25,18.75 L135.40,18.75 L136.55,18.75 L137.71,18.75 L138.86,18.75 L140.01,18.75 L141.16,18.75 L142.31,18.75 L143.46,18.75 L144.62,18.75 L145.77,18.75 L146.92,18.75 L148.07,18.75 L149.22,18.75 L150.37,18.75 L151.52,18.75 L152.68,18.75 L153.83,18.75 L154.98,18.75 L156.13,18.75 L157.28,18.75 L158.43,18.75 L159.58,18.75 L160.74,18.75 L161.89,18.75 L163.04,18.75 L164.19,18.75 L165.34,18.75 L166.49,18.75 L167.64,18.75 L168.80,18.75 L169.95,18.75 L171.10,18.76 L172.25,18.76 L173.40,18.76 L174.55,18.76 L175.71,18.76 L176.86,18.76 L178.01,18.77 L179.16,18.77 L180.31,18.77 L181.46,18.77 L182.61,18.77 L183.77,18.77 L184.92,18.77 L186.07,18.77 L187.22,18.78 L188.37,18.78 L189.52,18.78 L190.68,18.78 L191.83,18.78 L192.98,18.78 L194.13,18.78 L195.28,18.78 L196.43,18.78 L197.58,18.78 L198.74,18.78 L199.89,18.78 L201.04,18.78 L202.19,18.78 L203.34,18.78 L204.49,18.78 L205.64,18.78 L206.80,18.78 L207.95,18.78 L209.10,18.78 L210.25,18.79 L211.40,18.79 L212.55,18.79 L213.71,18.79 L214.86,18.79 L216.01,18.79 L217.16,18.79 L218.31,18.79 L219.46,18.80 L220.61,18.80 L221.77,18.80 L222.92,18.80 L224.07,18.81 L225.22,18.81 L226.37,18.81 L227.52,18.82 L228.67,18.82 L229.83,18.83 L230.98,18.83 L232.13,18.84 L233.28,18.84 L234.43,18.85 L235.58,18.85 L236.73,18.86 L237.89,18.87 L239.04,18.88 L240.19,18.89 L241.34,18.90 L242.49,18.91 L243.64,18.92 L244.80,18.93 L245.95,18.95 L247.10,18.96 L248.25,18.98 L249.40,18.99 L250.55,19.01 L251.70,19.03 L252.86,19.05 L254.01,19.08 L255.16,19.10 L256.31,19.13 L257.46,19.16 L258.61,19.19 L259.76,19.22 L260.92,19.26 L262.07,19.30 L263.22,19.34 L264.37,19.39 L265.52,19.45 L266.67,19.50 L267.83,19.56 L268.98,19.63 L270.13,19.69 L271.28,19.77 L272.43,19.84 L273.58,19.92 L274.73,20.00 L275.89,20.09 L277.04,20.18 L278.19,20.27 L279.34,20.37 L280.49,20.48 L281.64,20.59 L282.80,20.71 L283.95,20.84 L285.10,20.97 L286.25,21.11 L287.40,21.26 L288.55,21.41 L289.70,21.57 L290.86,21.74 L292.01,21.91 L293.16,22.10 L294.31,22.29 L295.46,22.49 L296.61,22.70 L297.76,22.92 L298.92,23.15 L300.07,23.40 L301.22,23.66 L302.37,23.93 L303.52,24.21 L304.67,24.51 L305.82,24.81 L306.98,25.12 L308.13,25.45 L309.28,25.79 L310.43,26.14 L311.58,26.50 L312.73,26.88 L313.89,27.27 L315.04,27.67 L316.19,28.08 L317.34,28.50 L318.49,28.93 L319.64,29.37 L320.79,29.81 L321.95,30.26 L323.10,30.72 L324.25,31.19 L325.40,31.67 L326.55,32.16 L327.70,32.65 L328.86,33.16 L330.01,33.68 L331.16,34.21 L332.31,34.75 L333.46,35.30 L334.61,35.86 L335.76,36.44 L336.92,37.02 L338.07,37.62 L339.22,38.23 L340.37,38.85 L341.52,39.49 L342.67,40.13 L343.82,40.79 L344.98,41.46 L346.13,42.14 L347.28,42.84 L348.43,43.54 L349.58,44.26 L350.73,44.99 L351.88,45.72 L353.04,46.47 L354.19,47.23 L355.34,48.01 L356.49,48.80 L357.64,49.60 L358.79,50.41 L359.95,51.23 L361.10,52.06 L362.25,52.89 L363.40,53.71 L364.55,54.53 L365.70,55.35 L366.85,56.16 L368.01,56.96 L369.16,57.77 L370.31,58.56 L371.46,59.35 L372.61,60.13 L373.76,60.89 L374.92,61.64 L376.07,62.37 L377.22,63.08 L378.37,63.76 L379.52,64.43 L380.67,65.07 L381.82,65.69 L382.98,66.28 L384.13,66.84 L385.28,67.38 L386.43,67.88 L387.58,68.36 L388.73,68.80 L389.88,69.21 L391.04,69.58 L392.19,69.92 L393.34,70.22 L394.49,70.49 L395.64,70.72 L396.79,70.91 L397.95,71.06 L399.10,71.17 L400.25,71.25 L401.40,71.28 L402.55,71.28 L403.70,71.24 L404.85,71.16 L406.01,71.05 L407.16,70.90 L408.31,70.71 L409.46,70.48 L410.61,70.22 L411.76,69.92 L412.91,69.58 L414.07,69.21 L415.22,68.80 L416.37,68.35 L417.52,67.87 L418.67,67.36 L419.82,66.81 L420.98,66.22 L422.13,65.60 L423.28,64.95 L424.43,64.28 L425.58,63.57 L426.73,62.83 L427.88,62.07 L429.04,61.28 L430.19,60.47 L431.34,59.64 L432.49,58.78 L433.64,57.90 L434.79,57.00 L435.94,56.08 L437.10,55.13 L438.25,54.16 L439.40,53.17 L440.55,52.17 L441.70,51.15 L442.85,50.12 L444.01,49.08 L445.16,48.04 L446.31,47.01 L447.46,45.97 L448.61,44.95 L449.76,43.94 L450.91,42.94 L452.07,41.96 L453.22,40.99 L454.37,40.04 L455.52,39.11 L456.67,38.18 L457.82,37.28 L458.97,36.39 L460.13,35.53 L461.28,34.70 L462.43,33.92 L463.58,33.17 L464.73,32.48 L465.88,31.83 L467.04,31.24 L468.19,30.70 L469.34,30.20 L470.49,29.76 L471.64,29.38 L472.79,29.04 L473.94,28.77 L475.10,28.55 L476.25,28.38 L477.40,28.28 L478.55,28.23 L479.70,28.24 L480.85,28.31 L482.00,28.44 L483.16,28.62 L484.31,28.85 L485.46,29.14 L486.61,29.48 L487.76,29.88 L488.91,30.32 L490.06,30.82 L491.22,31.37 L492.37,31.97 L493.52,32.61 L494.67,33.31 L495.82,34.05 L496.97,34.83 L498.13,35.65 L499.28,36.52 L500.43,37.43 L501.58,38.37 L502.73,39.35 L503.88,40.35 L505.03,41.39 L506.19,42.44 L507.34,43.52 L508.49,44.61 L509.64,45.71 L510.79,46.81 L511.94,47.91 L513.10,48.99 L514.25,50.07 L515.40,51.13 L516.55,52.18 L517.70,53.21 L518.85,54.23 L520.00,55.22 L521.16,56.20 L522.31,57.15 L523.46,58.07 L524.61,58.97 L525.76,59.85 L526.91,60.69 L528.06,61.51 L529.22,62.29 L530.37,63.05 L531.52,63.77 L532.67,64.45 L533.82,65.11 L534.97,65.73 L536.12,66.31 L537.28,66.86 L538.43,67.37 L539.58,67.85 L540.73,68.29 L541.88,68.69 L543.03,69.06 L544.19,69.39 L545.34,69.69 L546.49,69.94 L547.64,70.17 L548.79,70.35 L549.94,70.51 L551.09,70.62 L552.25,70.71 L553.40,70.75 L554.55,70.77 L555.70,70.75 L556.85,70.70 L558.00,70.62 L559.15,70.50 L560.31,70.35 L561.46,70.17 L562.61,69.96 L563.76,69.72 L564.91,69.44 L566.06,69.14 L567.22,68.81 L568.37,68.45 L569.52,68.06 L570.67,67.65 L571.82,67.20 L572.97,66.74 L574.12,66.24 L575.28,65.72 L576.43,65.18 L577.58,64.61 L578.73,64.03 L579.88,63.42 L581.03,62.79 L582.18,62.14 L583.34,61.47 L584.49,60.79 L585.64,60.09 L586.79,59.37 L587.94,58.64 L589.09,57.89 L590.25,57.13 L591.40,56.36 L592.55,55.58 L593.70,54.79 L594.85,53.98 L596.00,53.16 L597.15,52.33 L598.31,51.50 L599.46,50.66 L600.61,49.82 L601.76,48.99 L602.91,48.16 L604.06,47.34 L605.21,46.53 L606.37,45.73 L607.52,44.94 L608.67,44.16 L609.82,43.40 L610.97,42.64 L612.12,41.90 L613.28,41.16 L614.43,40.44 L615.58,39.73 L616.73,39.03 L617.88,38.33 L619.03,37.65 L620.18,36.98 L621.34,36.32 L622.49,35.68 L623.64,35.05 L624.79,34.43 L625.94,33.83 L627.09,33.24 L628.25,32.68 L629.40,32.13 L630.55,31.60 L631.70,31.09 L632.85,30.60 L634.00,30.12 L635.15,29.66 L636.31,29.21 L637.46,28.78 L638.61,28.36 L639.76,27.95 L640.91,27.55 L642.06,27.17 L643.21,26.80 L644.37,26.44 L645.52,26.09 L646.67,25.75 L647.82,25.42 L648.97,25.10 L650.12,24.79 L651.28,24.49 L652.43,24.20 L653.58,23.92 L654.73,23.66 L655.88,23.40 L657.03,23.15 L658.18,22.91 L659.34,22.68 L660.49,22.46 L661.64,22.25 L662.79,22.05 L663.94,21.86 L665.09,21.67 L666.24,21.50 L667.40,21.33 L668.55,21.18 L669.70,21.03 L670.85,20.89 L672.00,20.76 L673.15,20.63 L674.31,20.51 L675.46,20.40 L676.61,20.30 L677.76,20.20 L678.91,20.11 L680.06,20.02 L681.21,19.94 L682.37,19.86 L683.52,19.79 L684.67,19.72 L685.82,19.66 L686.97,19.60 L688.12,19.54 L689.27,19.49 L690.43,19.44 L691.58,19.39 L692.73,19.34 L693.88,19.30 L695.03,19.26 L696.18,19.22 L697.34,19.19 L698.49,19.16 L699.64,19.13 L700.79,19.10 L701.94,19.07 L703.09,19.05 L704.24,19.03 L705.40,19.01 L706.55,18.99 L707.70,18.97 L708.85,18.95 L710.00,18.94 L711.15,18.92 L712.30,18.91 L713.46,18.90 L714.61,18.89 L715.76,18.87 L716.91,18.86 L718.06,18.86 L719.21,18.85 L720.37,18.84 L721.52,18.83 L722.67,18.83 L723.82,18.82 L724.97,18.81 L726.12,18.81 L727.27,18.80 L728.43,18.80 L729.58,18.80 L730.73,18.79 L731.88,18.79 L733.03,18.79 L734.18,18.78 L735.33,18.78 L736.49,18.78 L737.64,18.78 L738.79,18.77 L739.94,18.77 L741.09,18.77 L742.24,18.77 L743.39,18.77 L744.55,18.77 L745.70,18.76 L746.85,18.76 L748.00,18.76 L749.15,18.76 L750.30,18.76 L751.46,18.76 L752.61,18.76 L753.76,18.76 L754.91,18.76 L756.06,18.76 L757.21,18.76 L758.36,18.76 L759.52,18.76 L760.67,18.76 L761.82,18.76 L762.97,18.76 L764.12,18.75 L765.27,18.75 L766.42,18.75 L767.58,18.75 L768.73,18.75 L769.88,18.75 L771.03,18.75 L772.18,18.75 L773.33,18.75 L774.49,18.75 L775.64,18.75 L776.79,18.75 L777.94,18.75 L779.09,18.75 L780.24,18.75 L781.39,18.75 L782.55,18.75 L783.70,18.75 L784.85,18.75 L786.00,18.75 L787.15,18.75 L788.30,18.75 L789.46,18.75 L790.61,18.75 L791.76,18.75 L792.91,18.75 L794.06,18.75 L795.21,18.75 L796.36,18.75 L797.52,18.75 L798.67,18.75 L799.82,18.75 L800.97,18.75 L802.12,18.75 L803.27,18.75 L804.42,18.75 L805.58,18.75 L806.73,18.75 L807.88,18.75 L809.03,18.75 L810.18,18.75 L811.33,18.75 L812.49,18.75 L813.64,18.75 L814.79,18.75 L815.94,18.75 L817.09,18.75 L818.24,18.75 L819.39,18.75 L820.55,18.75 L821.70,18.75 L822.85,18.75 L824.00,18.75" fill="none" stroke="#dfe318" stroke-width="4.15" stroke-linejoin="round" stroke-dasharray="15.36 6.64"/>
<path d="M133.10,392.20 L134.25,392.20 L135.40,392.20 L136.55,392.20 L137.71,392.20 L138.86,392.20 L140.01,392.20 L141.16,392.20 L142.31,392.20 L143.46,392.20 L144.62,392.20 L145.77,392.20 L146.92,392.20 L148.07,392.20 L149.22,392.20 L150.37,392.20 L151.52,392.20 L152.68,392.20 L153.83,392.20 L154.98,392.20 L156.13,392.20 L157.28,392.20 L158.43,392.20 L159.58,392.20 L160.74,392.20 L161.89,392.20 L163.04,392.20 L164.19,392.04 L165.34,391.77 L166.49,391.52 L167.64,391.28 L168.80,391.06 L169.95,390.85 L171.10,390.66 L172.25,390.48 L173.40,390.32 L174.55,390.16 L175.71,390.02 L176.86,389.89 L178.01,389.77 L179.16,389.66 L180.31,389.56 L181.46,389.46 L182.61,389.38 L183.77,389.31 L184.92,389.24 L186.07,389.18 L187.22,389.12 L188.37,389.07 L189.52,389.03 L190.68,388.99 L191.83,388.96 L192.98,388.93 L194.13,388.90 L195.28,388.88 L196.43,388.86 L197.58,388.84 L198.74,388.82 L199.89,388.80 L201.04,388.78 L202.19,388.76 L203.34,388.74 L204.49,388.72 L205.64,388.70 L206.80,388.67 L207.95,388.64 L209.10,388.61 L210.25,388.57 L211.40,388.53 L212.55,388.48 L213.71,388.43 L214.86,388.37 L216.01,388.30 L217.16,388.23 L218.31,388.15 L219.46,388.06 L220.61,387.96 L221.77,387.85 L222.92,387.74 L224.07,387.61 L225.22,387.48 L226.37,387.34 L227.52,387.19 L228.67,387.03 L229.83,386.87 L230.98,386.70 L232.13,386.52 L233.28,386.34 L234.43,386.15 L235.58,385.95 L236.73,385.75 L237.89,385.53 L239.04,385.31 L240.19,385.07 L241.34,384.81 L242.49,384.55 L243.64,384.26 L244.80,383.97 L245.95,383.66 L247.10,383.33 L248.25,383.00 L249.40,382.65 L250.55,382.29 L251.70,381.93 L252.86,381.54 L254.01,381.15 L255.16,380.75 L256.31,380.34 L257.46,379.90 L258.61,379.45 L259.76,378.97 L260.92,378.45 L262.07,377.90 L263.22,377.33 L264.37,376.72 L265.52,376.10 L266.67,375.46 L267.83,374.79 L268.98,374.12 L270.13,373.44 L271.28,372.74 L272.43,372.05 L273.58,371.35 L274.73,370.63 L275.89,369.90 L277.04,369.15 L278.19,368.40 L279.34,367.62 L280.49,366.83 L281.64,366.02 L282.80,365.19 L283.95,364.34 L285.10,363.48 L286.25,362.59 L287.40,361.69 L288.55,360.76 L289.70,359.83 L290.86,358.89 L292.01,357.93 L293.16,356.97 L294.31,355.98 L295.46,354.98 L296.61,353.95 L297.76,352.90 L298.92,351.83 L300.07,350.73 L301.22,349.60 L302.37,348.45 L303.52,347.28 L304.67,346.10 L305.82,344.92 L306.98,343.73 L308.13,342.53 L309.28,341.31 L310.43,340.07 L311.58,338.82 L312.73,337.55 L313.89,336.27 L315.04,335.00 L316.19,333.73 L317.34,332.45 L318.49,331.19 L319.64,329.92 L320.79,328.66 L321.95,327.40 L323.10,326.15 L324.25,324.90 L325.40,323.65 L326.55,322.41 L327.70,321.16 L328.86,319.91 L330.01,318.66 L331.16,317.41 L332.31,316.16 L333.46,314.90 L334.61,313.65 L335.76,312.39 L336.92,311.13 L338.07,309.86 L339.22,308.59 L340.37,307.32 L341.52,306.05 L342.67,304.77 L343.82,303.50 L344.98,302.22 L346.13,300.94 L347.28,299.66 L348.43,298.38 L349.58,297.11 L350.73,295.83 L351.88,294.56 L353.04,293.29 L354.19,292.02 L355.34,290.75 L356.49,289.47 L357.64,288.19 L358.79,286.91 L359.95,285.65 L361.10,284.39 L362.25,283.15 L363.40,281.94 L364.55,280.74 L365.70,279.57 L366.85,278.42 L368.01,277.30 L369.16,276.19 L370.31,275.11 L371.46,274.05 L372.61,273.02 L373.76,272.01 L374.92,271.04 L376.07,270.10 L377.22,269.20 L378.37,268.34 L379.52,267.51 L380.67,266.72 L381.82,265.97 L382.98,265.25 L384.13,264.57 L385.28,263.93 L386.43,263.33 L387.58,262.77 L388.73,262.25 L389.88,261.78 L391.04,261.35 L392.19,260.96 L393.34,260.61 L394.49,260.31 L395.64,260.05 L396.79,259.83 L397.95,259.66 L399.10,259.53 L400.25,259.44 L401.40,259.40 L402.55,259.40 L403.70,259.45 L404.85,259.54 L406.01,259.67 L407.16,259.84 L408.31,260.05 L409.46,260.31 L410.61,260.61 L411.76,260.96 L412.91,261.35 L414.07,261.78 L415.22,262.26 L416.37,262.78 L417.52,263.35 L418.67,263.96 L419.82,264.61 L420.98,265.32 L422.13,266.07 L423.28,266.86 L424.43,267.70 L425.58,268.59 L426.73,269.52 L427.88,270.49 L429.04,271.50 L430.19,272.56 L431.34,273.66 L432.49,274.81 L433.64,276.00 L434.79,277.25 L435.94,278.54 L437.10,279.88 L438.25,281.28 L439.40,282.73 L440.55,284.23 L441.70,285.78 L442.85,287.38 L444.01,289.02 L445.16,290.69 L446.31,292.40 L447.46,294.13 L448.61,295.90 L449.76,297.68 L450.91,299.48 L452.07,301.29 L453.22,303.11 L454.37,304.95 L455.52,306.81 L456.67,308.69 L457.82,310.59 L458.97,312.49 L460.13,314.39 L461.28,316.27 L462.43,318.11 L463.58,319.89 L464.73,321.60 L465.88,323.23 L467.04,324.78 L468.19,326.22 L469.34,327.56 L470.49,328.79 L471.64,329.89 L472.79,330.85 L473.94,331.66 L475.10,332.32 L476.25,332.81 L477.40,333.13 L478.55,333.28 L479.70,333.24 L480.85,333.03 L482.00,332.65 L483.16,332.11 L484.31,331.41 L485.46,330.56 L486.61,329.58 L487.76,328.47 L488.91,327.24 L490.06,325.89 L491.22,324.44 L492.37,322.89 L493.52,321.26 L494.67,319.56 L495.82,317.80 L496.97,315.98 L498.13,314.11 L499.28,312.20 L500.43,310.27 L501.58,308.30 L502.73,306.33 L503.88,304.34 L505.03,302.36 L506.19,300.38 L507.34,298.43 L508.49,296.49 L509.64,294.59 L510.79,292.73 L511.94,290.91 L513.10,289.15 L514.25,287.45 L515.40,285.80 L516.55,284.21 L517.70,282.67 L518.85,281.18 L520.00,279.75 L521.16,278.37 L522.31,277.04 L523.46,275.77 L524.61,274.55 L525.76,273.39 L526.91,272.27 L528.06,271.21 L529.22,270.20 L530.37,269.24 L531.52,268.34 L532.67,267.48 L533.82,266.68 L534.97,265.92 L536.12,265.21 L537.28,264.55 L538.43,263.94 L539.58,263.37 L540.73,262.85 L541.88,262.38 L543.03,261.95 L544.19,261.57 L545.34,261.23 L546.49,260.93 L547.64,260.67 L548.79,260.46 L549.94,260.28 L551.09,260.15 L552.25,260.06 L553.40,260.00 L554.55,259.98 L555.70,260.00 L556.85,260.06 L558.00,260.16 L559.15,260.29 L560.31,260.46 L561.46,260.67 L562.61,260.91 L563.76,261.19 L564.91,261.50 L566.06,261.86 L567.22,262.24 L568.37,262.66 L569.52,263.12 L570.67,263.61 L571.82,264.14 L572.97,264.70 L574.12,265.29 L575.28,265.92 L576.43,266.59 L577.58,267.28 L578.73,268.01 L579.88,268.78 L581.03,269.57 L582.18,270.40 L583.34,271.26 L584.49,272.15 L585.64,273.07 L586.79,274.02 L587.94,275.01 L589.09,276.02 L590.25,277.06 L591.40,278.13 L592.55,279.24 L593.70,280.37 L594.85,281.54 L596.00,282.75 L597.15,283.98 L598.31,285.25 L599.46,286.53 L600.61,287.84 L601.76,289.16 L602.91,290.50 L604.06,291.85 L605.21,293.20 L606.37,294.55 L607.52,295.91 L608.67,297.28 L609.82,298.65 L610.97,300.02 L612.12,301.40 L613.28,302.79 L614.43,304.17 L615.58,305.57 L616.73,306.97 L617.88,308.38 L619.03,309.79 L620.18,311.21 L621.34,312.63 L622.49,314.06 L623.64,315.48 L624.79,316.90 L625.94,318.31 L627.09,319.72 L628.25,321.11 L629.40,322.48 L630.55,323.84 L631.70,325.17 L632.85,326.49 L634.00,327.80 L635.15,329.09 L636.31,330.37 L637.46,331.64 L638.61,332.90 L639.76,334.15 L640.91,335.38 L642.06,336.61 L643.21,337.83 L644.37,339.05 L645.52,340.25 L646.67,341.45 L647.82,342.64 L648.97,343.82 L650.12,345.00 L651.28,346.16 L652.43,347.32 L653.58,348.47 L654.73,349.61 L655.88,350.74 L657.03,351.86 L658.18,352.96 L659.34,354.05 L660.49,355.12 L661.64,356.18 L662.79,357.23 L663.94,358.25 L665.09,359.26 L666.24,360.25 L667.40,361.21 L668.55,362.16 L669.70,363.09 L670.85,364.00 L672.00,364.89 L673.15,365.75 L674.31,366.60 L675.46,367.42 L676.61,368.21 L677.76,368.99 L678.91,369.73 L680.06,370.46 L681.21,371.16 L682.37,371.85 L683.52,372.51 L684.67,373.16 L685.82,373.79 L686.97,374.41 L688.12,375.01 L689.27,375.61 L690.43,376.19 L691.58,376.76 L692.73,377.31 L693.88,377.85 L695.03,378.38 L696.18,378.90 L697.34,379.39 L698.49,379.88 L699.64,380.34 L700.79,380.79 L701.94,381.23 L703.09,381.65 L704.24,382.05 L705.40,382.44 L706.55,382.82 L707.70,383.18 L708.85,383.53 L710.00,383.87 L711.15,384.19 L712.30,384.51 L713.46,384.81 L714.61,385.10 L715.76,385.38 L716.91,385.65 L718.06,385.92 L719.21,386.17 L720.37,386.42 L721.52,386.65 L722.67,386.88 L723.82,387.10 L724.97,387.31 L726.12,387.52 L727.27,387.71 L728.43,387.90 L729.58,388.08 L730.73,388.25 L731.88,388.42 L733.03,388.58 L734.18,388.73 L735.33,388.87 L736.49,389.01 L737.64,389.14 L738.79,389.26 L739.94,389.38 L741.09,389.49 L742.24,389.60 L743.39,389.70 L744.55,389.80 L745.70,389.89 L746.85,389.98 L748.00,390.06 L749.15,390.14 L750.30,390.21 L751.46,390.28 L752.61,390.35 L753.76,390.41 L754.91,390.47 L756.06,390.53 L757.21,390.58 L758.36,390.63 L759.52,390.68 L760.67,390.73 L761.82,390.77 L762.97,390.81 L764.12,390.85 L765.27,390.88 L766.42,390.91 L767.58,390.94 L768.73,390.97 L769.88,391.00 L771.03,391.02 L772.18,391.05 L773.33,391.07 L774.49,391.09 L775.64,391.11 L776.79,391.13 L777.94,391.15 L779.09,391.16 L780.24,391.18 L781.39,391.19 L782.55,391.21 L783.70,391.22 L784.85,391.24 L786.00,391.25 L787.15,391.26 L788.30,391.28 L789.46,391.29 L790.61,391.31 L791.76,391.32 L792.91,391.34 L794.06,391.35 L795.21,391.37 L796.36,391.38 L797.52,391.40 L798.67,391.42 L799.82,391.43 L800.97,391.45 L802.12,391.47 L803.27,391.49 L804.42,391.50 L805.58,391.52 L806.73,391.54 L807.88,391.56 L809.03,391.58 L810.18,391.60 L811.33,391.61 L812.49,391.63 L813.64,391.65 L814.79,391.67 L815.94,391.69 L817.09,391.71 L818.24,391.73 L819.39,391.75 L820.55,391.77 L821.70,391.79 L822.85,391.81 L824.00,391.82" fill="none" stroke="#dfe318" stroke-width="4.15" stroke-linejoin="round" stroke-linecap="square"/>
<path d="M133.10,392.20 L134.25,392.20 L135.40,392.20 L136.55,392.20 L137.71,392.20 L138.86,392.20 L140.01,392.20 L141.16,392.20 L142.31,392.20 L143.46,392.20 L144.62,392.20 L145.77,392.20 L146.92,392.20 L148.07,392.20 L149.22,392.20 L150.37,392.20 L151.52,392.20 L152.68,392.20 L153.83,392.20 L154.98,392.20 L156.13,392.20 L157.28,392.20 L158.43,392.20 L159.58,392.20 L160.74,392.20 L161.89,392.20 L163.04,392.20 L164.19,392.20 L165.34,392.20 L166.49,392.20 L167.64,392.20 L168.80,392.20 L169.95,392.20 L171.10,392.20 L172.25,392.20 L173.40,392.20 L174.55,392.19 L175.71,392.19 L176.86,392.19 L178.01,392.19 L179.16,392.19 L180.31,392.19 L181.46,392.19 L182.61,392.19 L183.77,392.19 L184.92,392.19 L186.07,392.19 L187.22,392.19 L188.37,392.19 L189.52,392.19 L190.68,392.19 L191.83,392.19 L192.98,392.19 L194.13,392.18 L195.28,392.18 L196.43,392.18 L197.58,392.18 L198.74,392.18 L199.89,392.18 L201.04,392.18 L202.19,392.18 L203.34,392.18 L204.49,392.18 L205.64,392.18 L206.80,392.18 L207.95,392.18 L209.10,392.18 L210.25,392.18 L211.40,392.18 L212.55,392.18 L213.71,392.18 L214.86,392.18 L216.01,392.18 L217.16,392.18 L218.31,392.18 L219.46,392.18 L220.61,392.17 L221.77,392.17 L222.92,392.17 L224.07,392.17 L225.22,392.17 L226.37,392.17 L227.52,392.16 L228.67,392.16 L229.83,392.16 L230.98,392.16 L232.13,392.16 L233.28,392.15 L234.43,392.15 L235.58,392.15 L236.73,392.14 L237.89,392.14 L239.04,392.13 L240.19,392.13 L241.34,392.12 L242.49,392.12 L243.64,392.11 L244.80,392.11 L245.95,392.10 L247.10,392.09 L248.25,392.08 L249.40,392.07 L250.55,392.06 L251.70,392.05 L252.86,392.04 L254.01,392.03 L255.16,392.02 L256.31,392.00 L257.46,391.99 L258.61,391.97 L259.76,391.96 L260.92,391.94 L262.07,391.92 L263.22,391.89 L264.37,391.87 L265.52,391.84 L266.67,391.81 L267.83,391.78 L268.98,391.74 L270.13,391.71 L271.28,391.67 L272.43,391.63 L273.58,391.59 L274.73,391.55 L275.89,391.51 L277.04,391.46 L278.19,391.41 L279.34,391.36 L280.49,391.30 L281.64,391.25 L282.80,391.18 L283.95,391.12 L285.10,391.05 L286.25,390.98 L287.40,390.90 L288.55,390.82 L289.70,390.74 L290.86,390.65 L292.01,390.57 L293.16,390.47 L294.31,390.37 L295.46,390.27 L296.61,390.16 L297.76,390.05 L298.92,389.93 L300.07,389.80 L301.22,389.67 L302.37,389.53 L303.52,389.39 L304.67,389.24 L305.82,389.09 L306.98,388.93 L308.13,388.76 L309.28,388.59 L310.43,388.42 L311.58,388.23 L312.73,388.04 L313.89,387.85 L315.04,387.64 L316.19,387.44 L317.34,387.23 L318.49,387.02 L319.64,386.80 L320.79,386.58 L321.95,386.35 L323.10,386.13 L324.25,385.89 L325.40,385.66 L326.55,385.42 L327.70,385.17 L328.86,384.92 L330.01,384.67 L331.16,384.41 L332.31,384.15 L333.46,383.88 L334.61,383.61 L335.76,383.33 L336.92,383.05 L338.07,382.76 L339.22,382.47 L340.37,382.17 L341.52,381.87 L342.67,381.56 L343.82,381.24 L344.98,380.93 L346.13,380.60 L347.28,380.28 L348.43,379.94 L349.58,379.61 L350.73,379.27 L351.88,378.93 L353.04,378.58 L354.19,378.23 L355.34,377.87 L356.49,377.50 L357.64,377.14 L358.79,376.76 L359.95,376.39 L361.10,376.02 L362.25,375.64 L363.40,375.27 L364.55,374.90 L365.70,374.54 L366.85,374.17 L368.01,373.82 L369.16,373.46 L370.31,373.11 L371.46,372.76 L372.61,372.42 L373.76,372.09 L374.92,371.76 L376.07,371.44 L377.22,371.14 L378.37,370.84 L379.52,370.55 L380.67,370.28 L381.82,370.01 L382.98,369.76 L384.13,369.52 L385.28,369.29 L386.43,369.08 L387.58,368.87 L388.73,368.69 L389.88,368.52 L391.04,368.36 L392.19,368.22 L393.34,368.09 L394.49,367.98 L395.64,367.88 L396.79,367.80 L397.95,367.74 L399.10,367.69 L400.25,367.66 L401.40,367.64 L402.55,367.64 L403.70,367.66 L404.85,367.69 L406.01,367.74 L407.16,367.80 L408.31,367.88 L409.46,367.98 L410.61,368.09 L411.76,368.22 L412.91,368.36 L414.07,368.52 L415.22,368.69 L416.37,368.88 L417.52,369.08 L418.67,369.30 L419.82,369.53 L420.98,369.78 L422.13,370.05 L423.28,370.33 L424.43,370.62 L425.58,370.92 L426.73,371.24 L427.88,371.57 L429.04,371.91 L430.19,372.27 L431.34,372.63 L432.49,373.01 L433.64,373.40 L434.79,373.80 L435.94,374.21 L437.10,374.63 L438.25,375.07 L439.40,375.51 L440.55,375.97 L441.70,376.43 L442.85,376.90 L444.01,377.38 L445.16,377.85 L446.31,378.33 L447.46,378.81 L448.61,379.29 L449.76,379.76 L450.91,380.23 L452.07,380.69 L453.22,381.15 L454.37,381.60 L455.52,382.05 L456.67,382.49 L457.82,382.93 L458.97,383.35 L460.13,383.77 L461.28,384.17 L462.43,384.56 L463.58,384.92 L464.73,385.26 L465.88,385.58 L467.04,385.87 L468.19,386.14 L469.34,386.38 L470.49,386.60 L471.64,386.79 L472.79,386.96 L473.94,387.10 L475.10,387.21 L476.25,387.29 L477.40,387.34 L478.55,387.37 L479.70,387.36 L480.85,387.32 L482.00,387.26 L483.16,387.17 L484.31,387.05 L485.46,386.91 L486.61,386.74 L487.76,386.54 L488.91,386.32 L490.06,386.08 L491.22,385.81 L492.37,385.51 L493.52,385.19 L494.67,384.85 L495.82,384.49 L496.97,384.11 L498.13,383.71 L499.28,383.29 L500.43,382.85 L501.58,382.40 L502.73,381.93 L503.88,381.45 L505.03,380.96 L506.19,380.46 L507.34,379.96 L508.49,379.45 L509.64,378.93 L510.79,378.42 L511.94,377.92 L513.10,377.41 L514.25,376.92 L515.40,376.44 L516.55,375.96 L517.70,375.49 L518.85,375.04 L520.00,374.59 L521.16,374.16 L522.31,373.74 L523.46,373.33 L524.61,372.93 L525.76,372.54 L526.91,372.17 L528.06,371.82 L529.22,371.48 L530.37,371.15 L531.52,370.84 L532.67,370.54 L533.82,370.26 L534.97,370.00 L536.12,369.75 L537.28,369.51 L538.43,369.29 L539.58,369.09 L540.73,368.90 L541.88,368.73 L543.03,368.58 L544.19,368.44 L545.34,368.31 L546.49,368.21 L547.64,368.11 L548.79,368.03 L549.94,367.97 L551.09,367.92 L552.25,367.89 L553.40,367.87 L554.55,367.86 L555.70,367.87 L556.85,367.89 L558.00,367.92 L559.15,367.97 L560.31,368.03 L561.46,368.11 L562.61,368.20 L563.76,368.30 L564.91,368.42 L566.06,368.54 L567.22,368.68 L568.37,368.84 L569.52,369.00 L570.67,369.18 L571.82,369.36 L572.97,369.56 L574.12,369.78 L575.28,370.00 L576.43,370.23 L577.58,370.47 L578.73,370.73 L579.88,370.99 L581.03,371.26 L582.18,371.54 L583.34,371.83 L584.49,372.13 L585.64,372.44 L586.79,372.75 L587.94,373.08 L589.09,373.40 L590.25,373.74 L591.40,374.08 L592.55,374.43 L593.70,374.79 L594.85,375.15 L596.00,375.52 L597.15,375.89 L598.31,376.27 L599.46,376.65 L600.61,377.04 L601.76,377.42 L602.91,377.80 L604.06,378.18 L605.21,378.55 L606.37,378.92 L607.52,379.29 L608.67,379.65 L609.82,380.01 L610.97,380.37 L612.12,380.72 L613.28,381.07 L614.43,381.41 L615.58,381.75 L616.73,382.09 L617.88,382.42 L619.03,382.74 L620.18,383.07 L621.34,383.39 L622.49,383.70 L623.64,384.00 L624.79,384.31 L625.94,384.60 L627.09,384.88 L628.25,385.16 L629.40,385.43 L630.55,385.69 L631.70,385.94 L632.85,386.19 L634.00,386.42 L635.15,386.65 L636.31,386.88 L637.46,387.09 L638.61,387.30 L639.76,387.51 L640.91,387.71 L642.06,387.90 L643.21,388.08 L644.37,388.27 L645.52,388.44 L646.67,388.61 L647.82,388.78 L648.97,388.94 L650.12,389.10 L651.28,389.25 L652.43,389.40 L653.58,389.54 L654.73,389.67 L655.88,389.81 L657.03,389.93 L658.18,390.06 L659.34,390.17 L660.49,390.29 L661.64,390.39 L662.79,390.50 L663.94,390.60 L665.09,390.69 L666.24,390.78 L667.40,390.86 L668.55,390.94 L669.70,391.02 L670.85,391.09 L672.00,391.16 L673.15,391.23 L674.31,391.29 L675.46,391.34 L676.61,391.40 L677.76,391.45 L678.91,391.50 L680.06,391.54 L681.21,391.58 L682.37,391.62 L683.52,391.66 L684.67,391.70 L685.82,391.73 L686.97,391.76 L688.12,391.79 L689.27,391.82 L690.43,391.84 L691.58,391.87 L692.73,391.89 L693.88,391.91 L695.03,391.93 L696.18,391.95 L697.34,391.97 L698.49,391.99 L699.64,392.00 L700.79,392.02 L701.94,392.03 L703.09,392.04 L704.24,392.06 L705.40,392.07 L706.55,392.08 L707.70,392.09 L708.85,392.10 L710.00,392.10 L711.15,392.11 L712.30,392.12 L713.46,392.12 L714.61,392.13 L715.76,392.14 L716.91,392.14 L718.06,392.15 L719.21,392.15 L720.37,392.15 L721.52,392.16 L722.67,392.16 L723.82,392.16 L724.97,392.17 L726.12,392.17 L727.27,392.17 L728.43,392.17 L729.58,392.18 L730.73,392.18 L731.88,392.18 L733.03,392.18 L734.18,392.18 L735.33,392.18 L736.49,392.19 L737.64,392.19 L738.79,392.19 L739.94,392.19 L741.09,392.19 L742.24,392.19 L743.39,392.19 L744.55,392.19 L745.70,392.19 L746.85,392.19 L748.00,392.19 L749.15,392.19 L750.30,392.19 L751.46,392.19 L752.61,392.20 L753.76,392.20 L754.91,392.20 L756.06,392.20 L757.21,392.20 L758.36,392.20 L759.52,392.20 L760.67,392.20 L761.82,392.20 L762.97,392.20 L764.12,392.20 L765.27,392.20 L766.42,392.20 L767.58,392.20 L768.73,392.20 L769.88,392.20 L771.03,392.20 L772.18,392.20 L773.33,392.20 L774.49,392.20 L775.64,392.20 L776.79,392.20 L777.94,392.20 L779.09,392.20 L780.24,392.20 L781.39,392.20 L782.55,392.20 L783.70,392.20 L784.85,392.20 L786.00,392.20 L787.15,392.20 L788.30,392.20 L789.46,392.20 L790.61,392.20 L791.76,392.20 L792.91,392.20 L794.06,392.20 L795.21,392.20 L796.36,392.20 L797.52,392.20 L798.67,392.20 L799.82,392.20 L800.97,392.20 L802.12,392.20 L803.27,392.20 L804.42,392.20 L805.58,392.20 L806.73,392.20 L807.88,392.20 L809.03,392.20 L810.18,392.20 L811.33,392.20 L812.49,392.20 L813.64,392.20 L814.79,392.20 L815.94,392.20 L817.09,392.20 L818.24,392.20 L819.39,392.20 L820.55,392.20 L821.70,392.20 L822.85,392.20 L824.00,392.20" fill="none" stroke="#dfe318" stroke-width="4.15" stroke-linejoin="round" stroke-dasharray="26.56 6.64 4.15 6.64"/>
<path d="M133.10,392.20 L134.25,392.20 L135.40,392.20 L136.55,392.20 L137.71,392.20 L138.86,392.20 L140.01,392.20 L141.16,392.20 L142.31,392.20 L143.46,392.20 L144.62,392.20 L145.77,392.20 L146.92,392.20 L148.07,392.20 L149.22,392.20 L150.37,392.20 L151.52,392.20 L152.68,392.20 L153.83,392.20 L154.98,392.20 L156.13,392.20 L157.28,392.20 L158.43,392.20 L159.58,392.20 L160.74,392.20 L161.89,392.20 L163.04,392.20 L164.19,392.20 L165.34,392.20 L166.49,392.20 L167.64,392.20 L168.80,392.20 L169.95,392.20 L171.10,392.20 L172.25,392.20 L173.40,392.20 L174.55,392.20 L175.71,392.20 L176.86,392.20 L178.01,392.20 L179.16,392.20 L180.31,392.20 L181.46,392.20 L182.61,392.20 L183.77,392.20 L184.92,392.20 L186.07,392.20 L187.22,392.20 L188.37,392.20 L189.52,392.20 L190.68,392.20 L191.83,392.20 L192.98,392.20 L194.13,392.20 L195.28,392.20 L196.43,392.20 L197.58,392.20 L198.74,392.20 L199.89,392.20 L201.04,392.20 L202.19,392.20 L203.34,392.20 L204.49,392.20 L205.64,392.20 L206.80,392.20 L207.95,392.20 L209.10,392.20 L210.25,392.20 L211.40,392.20 L212.55,392.20 L213.71,392.20 L214.86,392.20 L216.01,392.20 L217.16,392.20 L218.31,392.20 L219.46,392.20 L220.61,392.20 L221.77,392.20 L222.92,392.20 L224.07,392.20 L225.22,392.20 L226.37,392.20 L227.52,392.20 L228.67,392.20 L229.83,392.20 L230.98,392.20 L232.13,392.20 L233.28,392.20 L234.43,392.20 L235.58,392.20 L236.73,392.20 L237.89,392.20 L239.04,392.20 L240.19,392.20 L241.34,392.20 L242.49,392.20 L243.64,392.20 L244.80,392.20 L245.95,392.20 L247.10,392.20 L248.25,392.20 L249.40,392.20 L250.55,392.20 L251.70,392.20 L252.86,392.20 L254.01,392.20 L255.16,392.20 L256.31,392.20 L257.46,392.20 L258.61,392.20 L259.76,392.20 L260.92,392.20 L262.07,392.20 L263.22,392.20 L264.37,392.20 L265.52,392.20 L266.67,392.20 L267.83,392.20 L268.98,392.20 L270.13,392.20 L271.28,392.20 L272.43,392.20 L273.58,392.20 L274.73,392.20 L275.89,392.20 L277.04,392.20 L278.19,392.20 L279.34,392.20 L280.49,392.20 L281.64,392.20 L282.80,392.20 L283.95,392.20 L285.10,392.20 L286.25,392.20 L287.40,392.20 L288.55,392.20 L289.70,392.20 L290.86,392.20 L292.01,392.20 L293.16,392.20 L294.31,392.20 L295.46,392.20 L296.61,392.20 L297.76,392.20 L298.92,392.20 L300.07,392.20 L301.22,392.20 L302.37,392.20 L303.52,392.20 L304.67,392.20 L305.82,392.20 L306.98,392.20 L308.13,392.20 L309.28,392.20 L310.43,392.20 L311.58,392.20 L312.73,392.20 L313.89,392.20 L315.04,392.20 L316.19,392.20 L317.34,392.20 L318.49,392.20 L319.64,392.20 L320.79,392.20 L321.95,392.20 L323.10,392.20 L324.25,392.20 L325.40,392.20 L326.55,392.20 L327.70,392.20 L328.86,392.20 L330.01,392.20 L331.16,392.20 L332.31,392.20 L333.46,392.20 L334.61,392.20 L335.76,392.20 L336.92,392.20 L338.07,392.20 L339.22,392.20 L340.37,392.20 L341.52,392.20 L342.67,392.20 L343.82,392.20 L344.98,392.20 L346.13,392.20 L347.28,392.20 L348.43,392.20 L349.58,392.20 L350.73,392.20 L351.88,392.20 L353.04,392.20 L354.19,392.20 L355.34,392.20 L356.49,392.20 L357.64,392.20 L358.79,392.20 L359.95,392.20 L361.10,392.20 L362.25,392.20 L363.40,392.20 L364.55,392.20 L365.70,392.20 L366.85,392.20 L368.01,392.20 L369.16,392.20 L370.31,392.20 L371.46,392.20 L372.61,392.20 L373.76,392.20 L374.92,392.20 L376.07,392.20 L377.22,392.20 L378.37,392.20 L379.52,392.20 L380.67,392.20 L381.82,392.20 L382.98,392.20 L384.13,392.20 L385.28,392.20 L386.43,392.20 L387.58,392.20 L388.73,392.20 L389.88,392.20 L391.04,392.20 L392.19,392.20 L393.34,392.20 L394.49,392.20 L395.64,392.20 L396.79,392.20 L397.95,392.20 L399.10,392.20 L400.25,392.20 L401.40,392.20 L402.55,392.20 L403.70,392.20 L404.85,392.20 L406.01,392.20 L407.16,392.20 L408.31,392.20 L409.46,392.20 L410.61,392.20 L411.76,392.20 L412.91,392.20 L414.07,392.20 L415.22,392.20 L416.37,392.20 L417.52,392.20 L418.67,392.20 L419.82,392.20 L420.98,392.20 L422.13,392.20 L423.28,392.20 L424.43,392.20 L425.58,392.20 L426.73,392.20 L427.88,392.20 L429.04,392.20 L430.19,392.20 L431.34,392.20 L432.49,392.20 L433.64,392.20 L434.79,392.20 L435.94,392.20 L437.10,392.20 L438.25,392.20 L439.40,392.20 L440.55,392.20 L441.70,392.20 L442.85,392.20 L444.01,392.20 L445.16,392.20 L446.31,392.20 L447.46,392.20 L448.61,392.20 L449.76,392.20 L450.91,392.20 L452.07,392.20 L453.22,392.20 L454.37,392.20 L455.52,392.20 L456.67,392.20 L457.82,392.20 L458.97,392.20 L460.13,392.20 L461.28,392.20 L462.43,392.20 L463.58,392.20 L464.73,392.20 L465.88,392.20 L467.04,392.20 L468.19,392.20 L469.34,392.20 L470.49,392.20 L471.64,392.20 L472.79,392.20 L473.94,392.20 L475.10,392.20 L476.25,392.20 L477.40,392.20 L478.55,392.20 L479.70,392.20 L480.85,392.20 L482.00,392.20 L483.16,392.20 L484.31,392.20 L485.46,392.20 L486.61,392.20 L487.76,392.20 L488.91,392.20 L490.06,392.20 L491.22,392.20 L492.37,392.20 L493.52,392.20 L494.67,392.20 L495.82,392.20 L496.97,392.20 L498.13,392.20 L499.28,392.20 L500.43,392.20 L501.58,392.20 L502.73,392.20 L503.88,392.20 L505.03,392.20 L506.19,392.20 L507.34,392.20 L508.49,392.20 L509.64,392.20 L510.79,392.20 L511.94,392.20 L513.10,392.20 L514.25,392.20 L515.40,392.20 L516.55,392.20 L517.70,392.20 L518.85,392.20 L520.00,392.20 L521.16,392.20 L522.31,392.20 L523.46,392.20 L524.61,392.20 L525.76,392.20 L526.91,392.20 L528.06,392.20 L529.22,392.20 L530.37,392.20 L531.52,392.20 L532.67,392.20 L533.82,392.20 L534.97,392.20 L536.12,392.20 L537.28,392.20 L538.43,392.20 L539.58,392.20 L540.73,392.20 L541.88,392.20 L543.03,392.20 L544.19,392.20 L545.34,392.20 L546.49,392.20 L547.64,392.20 L548.79,392.20 L549.94,392.20 L551.09,392.20 L552.25,392.20 L553.40,392.20 L554.55,392.20 L555.70,392.20 L556.85,392.20 L558.00,392.20 L559.15,392.20 L560.31,392.20 L561.46,392.20 L562.61,392.20 L563.76,392.20 L564.91,392.20 L566.06,392.20 L567.22,392.20 L568.37,392.20 L569.52,392.20 L570.67,392.20 L571.82,392.20 L572.97,392.20 L574.12,392.20 L575.28,392.20 L576.43,392.20 L577.58,392.20 L578.73,392.20 L579.88,392.20 L581.03,392.20 L582.18,392.20 L583.34,392.20 L584.49,392.20 L585.64,392.20 L586.79,392.20 L587.94,392.20 L589.09,392.20 L590.25,392.20 L591.40,392.20 L592.55,392.20 L593.70,392.20 L594.85,392.20 L596.00,392.20 L597.15,392.20 L598.31,392.20 L599.46,392.20 L600.61,392.20 L601.76,392.20 L602.91,392.20 L604.06,392.20 L605.21,392.20 L606.37,392.20 L607.52,392.20 L608.67,392.20 L609.82,392.20 L610.97,392.20 L612.12,392.20 L613.28,392.20 L614.43,392.20 L615.58,392.20 L616.73,392.20 L617.88,392.20 L619.03,392.20 L620.18,392.20 L621.34,392.20 L622.49,392.20 L623.64,392.20 L624.79,392.20 L625.94,392.20 L627.09,392.20 L628.25,392.20 L629.40,392.20 L630.55,392.20 L631.70,392.20 L632.85,392.20 L634.00,392.20 L635.15,392.20 L636.31,392.20 L637.46,392.20 L638.61,392.20 L639.76,392.20 L640.91,392.20 L642.06,392.20 L643.21,392.20 L644.37,392.20 L645.52,392.20 L646.67,392.20 L647.82,392.20 L648.97,392.20 L650.12,392.20 L651.28,392.20 L652.43,392.20 L653.58,392.20 L654.73,392.20 L655.88,392.20 L657.03,392.20 L658.18,392.20 L659.34,392.20 L660.49,392.20 L661.64,392.20 L662.79,392.20 L663.94,392.20 L665.09,392.20 L666.24,392.20 L667.40,392.20 L668.55,392.20 L669.70,392.20 L670.85,392.20 L672.00,392.20 L673.15,392.20 L674.31,392.20 L675.46,392.20 L676.61,392.20 L677.76,392.20 L678.91,392.20 L680.06,392.20 L681.21,392.20 L682.37,392.20 L683.52,392.20 L684.67,392.20 L685.82,392.20 L686.97,392.20 L688.12,392.20 L689.27,392.20 L690.43,392.20 L691.58,392.20 L692.73,392.20 L693.88,392.20 L695.03,392.20 L696.18,392.20 L697.34,392.20 L698.49,392.20 L699.64,392.20 L700.79,392.20 L701.94,392.20 L703.09,392.20 L704.24,392.20 L705.40,392.20 L706.55,392.20 L707.70,392.20 L708.85,392.20 L710.00,392.20 L711.15,392.20 L712.30,392.20 L713.46,392.20 L714.61,392.20 L715.76,392.20 L716.91,392.20 L718.06,392.20 L719.21,392.20 L720.37,392.20 L721.52,392.20 L722.67,392.20 L723.82,392.20 L724.97,392.20 L726.12,392.20 L727.27,392.20 L728.43,392.20 L729.58,392.20 L730.73,392.20 L731.88,392.20 L733.03,392.20 L734.18,392.20 L735.33,392.20 L736.49,392.20 L737.64,392.20 L738.79,392.20 L739.94,392.20 L741.09,392.20 L742.24,392.20 L743.39,392.20 L744.55,392.20 L745.70,392.20 L746.85,392.20 L748.00,392.20 L749.15,392.20 L750.30,392.20 L751.46,392.20 L752.61,392.20 L753.76,392.20 L754.91,392.20 L756.06,392.20 L757.21,392.20 L758.36,392.20 L759.52,392.20 L760.67,392.20 L761.82,392.20 L762.97,392.20 L764.12,392.20 L765.27,392.20 L766.42,392.20 L767.58,392.20 L768.73,392.20 L769.88,392.20 L771.03,392.20 L772.18,392.20 L773.33,392.20 L774.49,392.20 L775.64,392.20 L776.79,392.20 L777.94,392.20 L779.09,392.20 L780.24,392.20 L781.39,392.20 L782.55,392.20 L783.70,392.20 L784.85,392.20 L786.00,392.20 L787.15,392.20 L788.30,392.20 L789.46,392.20 L790.61,392.20 L791.76,392.20 L792.91,392.20 L794.06,392.20 L795.21,392.20 L796.36,392.20 L797.52,392.20 L798.67,392.20 L799.82,392.20 L800.97,392.20 L802.12,392.20 L803.27,392.20 L804.42,392.20 L805.58,392.20 L806.73,392.20 L807.88,392.20 L809.03,392.20 L810.18,392.20 L811.33,392.20 L812.49,392.20 L813.64,392.20 L814.79,392.20 L815.94,392.20 L817.09,392.20 L818.24,392.20 L819.39,392.20 L820.55,392.20 L821.70,392.20 L822.85,392.20 L824.00,392.20" fill="none" stroke="#dfe318" stroke-width="4.15" stroke-linejoin="round" stroke-linecap="square"/></g>
<g clip-path="url(#cb)"><path d="M133.10,438.00 L134.25,438.00 L135.40,438.00 L136.55,438.00 L137.71,438.00 L138.86,438.00 L140.01,438.00 L141.16,438.00 L142.31,438.00 L143.46,438.00 L144.62,438.00 L145.77,438.00 L146.92,438.00 L148.07,438.00 L149.22,438.00 L150.37,438.00 L151.52,438.00 L152.68,438.00 L153.83,438.00 L154.98,438.00 L156.13,438.00 L157.28,438.00 L158.43,438.00 L159.58,438.00 L160.74,438.00 L161.89,438.00 L163.04,438.00 L164.19,438.00 L165.34,438.00 L166.49,438.00 L167.64,438.00 L168.80,438.00 L169.95,438.00 L171.10,438.00 L172.25,438.00 L173.40,438.00 L174.55,438.00 L175.71,438.00 L176.86,438.00 L178.01,438.00 L179.16,438.00 L180.31,438.00 L181.46,438.00 L182.61,438.00 L183.77,438.00 L184.92,438.00 L186.07,438.00 L187.22,438.00 L188.37,438.00 L189.52,438.00 L190.68,438.00 L191.83,438.00 L192.98,438.00 L194.13,438.00 L195.28,438.00 L196.43,438.00 L197.58,438.00 L198.74,438.00 L199.89,438.00 L201.04,438.00 L202.19,438.00 L203.34,438.00 L204.49,438.00 L205.64,438.00 L206.80,438.00 L207.95,438.00 L209.10,438.00 L210.25,438.00 L211.40,438.00 L212.55,438.01 L213.71,438.01 L214.86,438.01 L216.01,438.01 L217.16,438.01 L218.31,438.01 L219.46,438.01 L220.61,438.01 L221.77,438.01 L222.92,438.01 L224.07,438.01 L225.22,438.01 L226.37,438.01 L227.52,438.01 L228.67,438.01 L229.83,438.01 L230.98,438.01 L232.13,438.01 L233.28,438.02 L234.43,438.02 L235.58,438.02 L236.73,438.02 L237.89,438.02 L239.04,438.02 L240.19,438.02 L241.34,438.02 L242.49,438.02 L243.64,438.03 L244.80,438.03 L245.95,438.03 L247.10,438.03 L248.25,438.03 L249.40,438.03 L250.55,438.03 L251.70,438.04 L252.86,438.04 L254.01,438.04 L255.16,438.04 L256.31,438.04 L257.46,438.04 L258.61,438.04 L259.76,438.04 L260.92,438.05 L262.07,438.05 L263.22,438.05 L264.37,438.05 L265.52,438.05 L266.67,438.06 L267.83,438.06 L268.98,438.06 L270.13,438.07 L271.28,438.07 L272.43,438.08 L273.58,438.08 L274.73,438.09 L275.89,438.10 L277.04,438.10 L278.19,438.11 L279.34,438.12 L280.49,438.13 L281.64,438.15 L282.80,438.16 L283.95,438.18 L285.10,438.19 L286.25,438.21 L287.40,438.23 L288.55,438.25 L289.70,438.28 L290.86,438.30 L292.01,438.33 L293.16,438.37 L294.31,438.40 L295.46,438.44 L296.61,438.48 L297.76,438.53 L298.92,438.58 L300.07,438.63 L301.22,438.69 L302.37,438.75 L303.52,438.82 L304.67,438.89 L305.82,438.97 L306.98,439.06 L308.13,439.15 L309.28,439.25 L310.43,439.35 L311.58,439.47 L312.73,439.59 L313.89,439.72 L315.04,439.86 L316.19,440.01 L317.34,440.18 L318.49,440.35 L319.64,440.54 L320.79,440.73 L321.95,440.95 L323.10,441.17 L324.25,441.41 L325.40,441.67 L326.55,441.95 L327.70,442.24 L328.86,442.55 L330.01,442.87 L331.16,443.22 L332.31,443.58 L333.46,443.97 L334.61,444.38 L335.76,444.81 L336.92,445.26 L338.07,445.74 L339.22,446.24 L340.37,446.76 L341.52,447.31 L342.67,447.88 L343.82,448.48 L344.98,449.10 L346.13,449.74 L347.28,450.40 L348.43,451.08 L349.58,451.79 L350.73,452.51 L351.88,453.26 L353.04,454.03 L354.19,454.83 L355.34,455.66 L356.49,456.53 L357.64,457.45 L358.79,458.42 L359.95,459.44 L361.10,460.52 L362.25,461.68 L363.40,462.90 L364.55,464.22 L365.70,465.63 L366.85,467.13 L368.01,468.73 L369.16,470.39 L370.31,472.11 L371.46,473.85 L372.61,475.63 L373.76,477.43 L374.92,479.27 L376.07,481.14 L377.22,483.03 L378.37,484.95 L379.52,486.88 L380.67,488.83 L381.82,490.78 L382.98,492.73 L384.13,494.67 L385.28,496.60 L386.43,498.52 L387.58,500.40 L388.73,502.25 L389.88,504.06 L391.04,505.83 L392.19,507.56 L393.34,509.25 L394.49,510.89 L395.64,512.48 L396.79,514.02 L397.95,515.51 L399.10,516.94 L400.25,518.31 L401.40,519.63 L402.55,520.88 L403.70,522.07 L404.85,523.20 L406.01,524.26 L407.16,525.24 L408.31,526.16 L409.46,527.00 L410.61,527.76 L411.76,528.44 L412.91,529.04 L414.07,529.56 L415.22,529.98 L416.37,530.31 L417.52,530.54 L418.67,530.68 L419.82,530.72 L420.98,530.65 L422.13,530.49 L423.28,530.22 L424.43,529.86 L425.58,529.41 L426.73,528.86 L427.88,528.22 L429.04,527.49 L430.19,526.68 L431.34,525.79 L432.49,524.82 L433.64,523.77 L434.79,522.65 L435.94,521.46 L437.10,520.20 L438.25,518.89 L439.40,517.51 L440.55,516.08 L441.70,514.60 L442.85,513.07 L444.01,511.50 L445.16,509.88 L446.31,508.23 L447.46,506.54 L448.61,504.83 L449.76,503.08 L450.91,501.31 L452.07,499.52 L453.22,497.71 L454.37,495.88 L455.52,494.04 L456.67,492.20 L457.82,490.34 L458.97,488.50 L460.13,486.68 L461.28,484.90 L462.43,483.17 L463.58,481.49 L464.73,479.88 L465.88,478.34 L467.04,476.89 L468.19,475.53 L469.34,474.27 L470.49,473.11 L471.64,472.06 L472.79,471.14 L473.94,470.34 L475.10,469.70 L476.25,469.22 L477.40,468.91 L478.55,468.80 L479.70,468.89 L480.85,469.18 L482.00,469.67 L483.16,470.33 L484.31,471.15 L485.46,472.13 L486.61,473.23 L487.76,474.46 L488.91,475.80 L490.06,477.23 L491.22,478.74 L492.37,480.35 L493.52,482.06 L494.67,483.87 L495.82,485.80 L496.97,487.83 L498.13,489.95 L499.28,492.16 L500.43,494.46 L501.58,496.83 L502.73,499.27 L503.88,501.77 L505.03,504.33 L506.19,506.93 L507.34,509.54 L508.49,512.15 L509.64,514.74 L510.79,517.28 L511.94,519.76 L513.10,522.14 L514.25,524.42 L515.40,526.60 L516.55,528.67 L517.70,530.64 L518.85,532.49 L520.00,534.24 L521.16,535.86 L522.31,537.37 L523.46,538.74 L524.61,539.99 L525.76,541.10 L526.91,542.08 L528.06,542.91 L529.22,543.60 L530.37,544.14 L531.52,544.54 L532.67,544.79 L533.82,544.90 L534.97,544.87 L536.12,544.70 L537.28,544.39 L538.43,543.94 L539.58,543.35 L540.73,542.64 L541.88,541.79 L543.03,540.83 L544.19,539.75 L545.34,538.56 L546.49,537.27 L547.64,535.88 L548.79,534.41 L549.94,532.85 L551.09,531.22 L552.25,529.51 L553.40,527.71 L554.55,525.84 L555.70,523.89 L556.85,521.86 L558.00,519.75 L559.15,517.57 L560.31,515.32 L561.46,513.00 L562.61,510.61 L563.76,508.17 L564.91,505.68 L566.06,503.17 L567.22,500.65 L568.37,498.15 L569.52,495.68 L570.67,493.25 L571.82,490.87 L572.97,488.57 L574.12,486.33 L575.28,484.19 L576.43,482.13 L577.58,480.18 L578.73,478.34 L579.88,476.61 L581.03,474.97 L582.18,473.40 L583.34,471.90 L584.49,470.45 L585.64,469.05 L586.79,467.68 L587.94,466.34 L589.09,465.02 L590.25,463.70 L591.40,462.39 L592.55,461.10 L593.70,459.83 L594.85,458.59 L596.00,457.39 L597.15,456.23 L598.31,455.12 L599.46,454.06 L600.61,453.05 L601.76,452.09 L602.91,451.17 L604.06,450.30 L605.21,449.48 L606.37,448.71 L607.52,447.98 L608.67,447.30 L609.82,446.67 L610.97,446.09 L612.12,445.56 L613.28,445.08 L614.43,444.65 L615.58,444.26 L616.73,443.91 L617.88,443.60 L619.03,443.32 L620.18,443.08 L621.34,442.86 L622.49,442.68 L623.64,442.51 L624.79,442.37 L625.94,442.24 L627.09,442.12 L628.25,442.02 L629.40,441.92 L630.55,441.83 L631.70,441.75 L632.85,441.67 L634.00,441.59 L635.15,441.51 L636.31,441.43 L637.46,441.35 L638.61,441.27 L639.76,441.19 L640.91,441.11 L642.06,441.03 L643.21,440.94 L644.37,440.86 L645.52,440.78 L646.67,440.69 L647.82,440.61 L648.97,440.53 L650.12,440.44 L651.28,440.36 L652.43,440.28 L653.58,440.20 L654.73,440.12 L655.88,440.04 L657.03,439.96 L658.18,439.89 L659.34,439.81 L660.49,439.74 L661.64,439.68 L662.79,439.61 L663.94,439.55 L665.09,439.49 L666.24,439.44 L667.40,439.38 L668.55,439.33 L669.70,439.28 L670.85,439.23 L672.00,439.19 L673.15,439.15 L674.31,439.10 L675.46,439.06 L676.61,439.02 L677.76,438.99 L678.91,438.95 L680.06,438.92 L681.21,438.88 L682.37,438.85 L683.52,438.82 L684.67,438.79 L685.82,438.77 L686.97,438.74 L688.12,438.72 L689.27,438.70 L690.43,438.68 L691.58,438.66 L692.73,438.65 L693.88,438.64 L695.03,438.63 L696.18,438.62 L697.34,438.61 L698.49,438.60 L699.64,438.60 L700.79,438.59 L701.94,438.59 L703.09,438.59 L704.24,438.59 L705.40,438.59 L706.55,438.59 L707.70,438.59 L708.85,438.59 L710.00,438.59 L711.15,438.59 L712.30,438.59 L713.46,438.59 L714.61,438.59 L715.76,438.59 L716.91,438.59 L718.06,438.59 L719.21,438.59 L720.37,438.59 L721.52,438.59 L722.67,438.59 L723.82,438.59 L724.97,438.59 L726.12,438.59 L727.27,438.59 L728.43,438.59 L729.58,438.60 L730.73,438.60 L731.88,438.60 L733.03,438.60 L734.18,438.60 L735.33,438.60 L736.49,438.60 L737.64,438.60 L738.79,438.60 L739.94,438.60 L741.09,438.60 L742.24,438.60 L743.39,438.60 L744.55,438.60 L745.70,438.60 L746.85,438.60 L748.00,438.60 L749.15,438.60 L750.30,438.60 L751.46,438.60 L752.61,438.60 L753.76,438.60 L754.91,438.60 L756.06,438.60 L757.21,438.60 L758.36,438.60 L759.52,438.60 L760.67,438.60 L761.82,438.60 L762.97,438.60 L764.12,438.60 L765.27,438.60 L766.42,438.60 L767.58,438.60 L768.73,438.60 L769.88,438.60 L771.03,438.60 L772.18,438.60 L773.33,438.60 L774.49,438.60 L775.64,438.60 L776.79,438.60 L777.94,438.60 L779.09,438.60 L780.24,438.60 L781.39,438.60 L782.55,438.60 L783.70,438.60 L784.85,438.60 L786.00,438.60 L787.15,438.60 L788.30,438.60 L789.46,438.60 L790.61,438.60 L791.76,438.60 L792.91,438.60 L794.06,438.60 L795.21,438.60 L796.36,438.60 L797.52,438.60 L798.67,438.60 L799.82,438.60 L800.97,438.60 L802.12,438.60 L803.27,438.60 L804.42,438.60 L805.58,438.60 L806.73,438.60 L807.88,438.60 L809.03,438.60 L810.18,438.60 L811.33,438.60 L812.49,438.60 L813.64,438.60 L814.79,438.60 L815.94,438.60 L817.09,438.60 L818.24,438.60 L819.39,438.60 L820.55,438.60 L821.70,438.60 L822.85,438.60 L824.00,438.60" fill="none" stroke="#0d0887" stroke-width="4.15" stroke-linejoin="round" stroke-dasharray="15.36 6.64"/>
<path d="M133.10,811.00 L134.25,811.00 L135.40,810.99 L136.55,810.99 L137.71,810.98 L138.86,810.98 L140.01,810.97 L141.16,810.97 L142.31,810.96 L143.46,810.96 L144.62,810.95 L145.77,810.95 L146.92,810.95 L148.07,810.94 L149.22,810.94 L150.37,810.93 L151.52,810.93 L152.68,810.92 L153.83,810.92 L154.98,810.91 L156.13,810.91 L157.28,810.90 L158.43,810.90 L159.58,810.89 L160.74,810.88 L161.89,810.88 L163.04,810.87 L164.19,810.87 L165.34,810.86 L166.49,810.86 L167.64,810.85 L168.80,810.84 L169.95,810.84 L171.10,810.83 L172.25,810.83 L173.40,810.82 L174.55,810.81 L175.71,810.81 L176.86,810.80 L178.01,810.79 L179.16,810.78 L180.31,810.78 L181.46,810.77 L182.61,810.76 L183.77,810.75 L184.92,810.75 L186.07,810.74 L187.22,810.73 L188.37,810.72 L189.52,810.71 L190.68,810.70 L191.83,810.69 L192.98,810.69 L194.13,810.68 L195.28,810.67 L196.43,810.65 L197.58,810.64 L198.74,810.63 L199.89,810.62 L201.04,810.60 L202.19,810.59 L203.34,810.57 L204.49,810.55 L205.64,810.53 L206.80,810.51 L207.95,810.49 L209.10,810.47 L210.25,810.44 L211.40,810.41 L212.55,810.38 L213.71,810.35 L214.86,810.31 L216.01,810.27 L217.16,810.23 L218.31,810.19 L219.46,810.15 L220.61,810.10 L221.77,810.05 L222.92,809.99 L224.07,809.93 L225.22,809.87 L226.37,809.81 L227.52,809.74 L228.67,809.67 L229.83,809.60 L230.98,809.52 L232.13,809.45 L233.28,809.37 L234.43,809.29 L235.58,809.21 L236.73,809.12 L237.89,809.04 L239.04,808.96 L240.19,808.88 L241.34,808.79 L242.49,808.71 L243.64,808.63 L244.80,808.55 L245.95,808.48 L247.10,808.40 L248.25,808.33 L249.40,808.26 L250.55,808.19 L251.70,808.12 L252.86,808.06 L254.01,807.99 L255.16,807.93 L256.31,807.87 L257.46,807.80 L258.61,807.73 L259.76,807.66 L260.92,807.59 L262.07,807.51 L263.22,807.42 L264.37,807.33 L265.52,807.22 L266.67,807.11 L267.83,806.99 L268.98,806.86 L270.13,806.71 L271.28,806.55 L272.43,806.38 L273.58,806.19 L274.73,805.98 L275.89,805.76 L277.04,805.52 L278.19,805.26 L279.34,804.98 L280.49,804.69 L281.64,804.37 L282.80,804.04 L283.95,803.68 L285.10,803.31 L286.25,802.92 L287.40,802.50 L288.55,802.07 L289.70,801.62 L290.86,801.14 L292.01,800.64 L293.16,800.13 L294.31,799.59 L295.46,799.03 L296.61,798.44 L297.76,797.84 L298.92,797.21 L300.07,796.56 L301.22,795.88 L302.37,795.18 L303.52,794.46 L304.67,793.71 L305.82,792.93 L306.98,792.13 L308.13,791.30 L309.28,790.44 L310.43,789.55 L311.58,788.63 L312.73,787.69 L313.89,786.71 L315.04,785.70 L316.19,784.65 L317.34,783.57 L318.49,782.46 L319.64,781.32 L320.79,780.13 L321.95,778.92 L323.10,777.67 L324.25,776.38 L325.40,775.06 L326.55,773.70 L327.70,772.32 L328.86,770.90 L330.01,769.45 L331.16,767.97 L332.31,766.45 L333.46,764.91 L334.61,763.34 L335.76,761.74 L336.92,760.10 L338.07,758.45 L339.22,756.76 L340.37,755.05 L341.52,753.33 L342.67,751.58 L343.82,749.82 L344.98,748.05 L346.13,746.28 L347.28,744.49 L348.43,742.70 L349.58,740.91 L350.73,739.13 L351.88,737.34 L353.04,735.54 L354.19,733.73 L355.34,731.89 L356.49,730.02 L357.64,728.12 L358.79,726.16 L359.95,724.15 L361.10,722.08 L362.25,719.94 L363.40,717.73 L364.55,715.42 L365.70,713.03 L366.85,710.54 L368.01,707.99 L369.16,705.40 L370.31,702.82 L371.46,700.28 L372.61,697.77 L373.76,695.29 L374.92,692.85 L376.07,690.43 L377.22,688.04 L378.37,685.69 L379.52,683.38 L380.67,681.11 L381.82,678.90 L382.98,676.74 L384.13,674.64 L385.28,672.60 L386.43,670.63 L387.58,668.73 L388.73,666.91 L389.88,665.16 L391.04,663.49 L392.19,661.89 L393.34,660.36 L394.49,658.90 L395.64,657.52 L396.79,656.20 L397.95,654.96 L399.10,653.78 L400.25,652.67 L401.40,651.63 L402.55,650.65 L403.70,649.74 L404.85,648.89 L406.01,648.11 L407.16,647.39 L408.31,646.73 L409.46,646.14 L410.61,645.61 L411.76,645.14 L412.91,644.74 L414.07,644.41 L415.22,644.14 L416.37,643.93 L417.52,643.79 L418.67,643.72 L419.82,643.71 L420.98,643.77 L422.13,643.89 L423.28,644.08 L424.43,644.33 L425.58,644.65 L426.73,645.03 L427.88,645.48 L429.04,645.99 L430.19,646.57 L431.34,647.22 L432.49,647.93 L433.64,648.70 L434.79,649.53 L435.94,650.43 L437.10,651.40 L438.25,652.43 L439.40,653.52 L440.55,654.67 L441.70,655.89 L442.85,657.17 L444.01,658.51 L445.16,659.91 L446.31,661.38 L447.46,662.91 L448.61,664.50 L449.76,666.14 L450.91,667.85 L452.07,669.62 L453.22,671.45 L454.37,673.34 L455.52,675.29 L456.67,677.30 L457.82,679.36 L458.97,681.47 L460.13,683.60 L461.28,685.75 L462.43,687.88 L463.58,690.00 L464.73,692.09 L465.88,694.12 L467.04,696.09 L468.19,697.97 L469.34,699.76 L470.49,701.44 L471.64,702.99 L472.79,704.38 L473.94,705.58 L475.10,706.57 L476.25,707.31 L477.40,707.78 L478.55,707.95 L479.70,707.79 L480.85,707.31 L482.00,706.53 L483.16,705.50 L484.31,704.23 L485.46,702.77 L486.61,701.14 L487.76,699.37 L488.91,697.50 L490.06,695.55 L491.22,693.54 L492.37,691.47 L493.52,689.32 L494.67,687.09 L495.82,684.80 L496.97,682.45 L498.13,680.06 L499.28,677.63 L500.43,675.19 L501.58,672.74 L502.73,670.29 L503.88,667.86 L505.03,665.45 L506.19,663.09 L507.34,660.77 L508.49,658.51 L509.64,656.33 L510.79,654.24 L511.94,652.24 L513.10,650.34 L514.25,648.56 L515.40,646.88 L516.55,645.32 L517.70,643.86 L518.85,642.51 L520.00,641.27 L521.16,640.14 L522.31,639.13 L523.46,638.22 L524.61,637.42 L525.76,636.72 L526.91,636.13 L528.06,635.63 L529.22,635.23 L530.37,634.93 L531.52,634.72 L532.67,634.60 L533.82,634.56 L534.97,634.61 L536.12,634.75 L537.28,634.96 L538.43,635.26 L539.58,635.63 L540.73,636.08 L541.88,636.61 L543.03,637.21 L544.19,637.89 L545.34,638.65 L546.49,639.48 L547.64,640.37 L548.79,641.35 L549.94,642.39 L551.09,643.50 L552.25,644.70 L553.40,645.98 L554.55,647.34 L555.70,648.79 L556.85,650.34 L558.00,651.98 L559.15,653.72 L560.31,655.57 L561.46,657.53 L562.61,659.59 L563.76,661.77 L564.91,664.07 L566.06,666.46 L567.22,668.92 L568.37,671.45 L569.52,674.03 L570.67,676.63 L571.82,679.25 L572.97,681.87 L574.12,684.47 L575.28,687.03 L576.43,689.55 L577.58,692.00 L578.73,694.36 L579.88,696.65 L581.03,698.87 L582.18,701.04 L583.34,703.18 L584.49,705.30 L585.64,707.42 L586.79,709.55 L587.94,711.71 L589.09,713.91 L590.25,716.17 L591.40,718.50 L592.55,720.88 L593.70,723.30 L594.85,725.75 L596.00,728.21 L597.15,730.66 L598.31,733.09 L599.46,735.50 L600.61,737.88 L601.76,740.24 L602.91,742.55 L604.06,744.83 L605.21,747.06 L606.37,749.25 L607.52,751.37 L608.67,753.42 L609.82,755.40 L610.97,757.28 L612.12,759.06 L613.28,760.73 L614.43,762.29 L615.58,763.74 L616.73,765.08 L617.88,766.31 L619.03,767.43 L620.18,768.44 L621.34,769.35 L622.49,770.16 L623.64,770.90 L624.79,771.56 L625.94,772.15 L627.09,772.69 L628.25,773.18 L629.40,773.63 L630.55,774.06 L631.70,774.46 L632.85,774.86 L634.00,775.26 L635.15,775.66 L636.31,776.07 L637.46,776.49 L638.61,776.91 L639.76,777.35 L640.91,777.79 L642.06,778.24 L643.21,778.69 L644.37,779.16 L645.52,779.63 L646.67,780.11 L647.82,780.60 L648.97,781.10 L650.12,781.61 L651.28,782.13 L652.43,782.64 L653.58,783.17 L654.73,783.69 L655.88,784.21 L657.03,784.73 L658.18,785.25 L659.34,785.76 L660.49,786.26 L661.64,786.76 L662.79,787.24 L663.94,787.71 L665.09,788.17 L666.24,788.62 L667.40,789.06 L668.55,789.48 L669.70,789.90 L670.85,790.30 L672.00,790.70 L673.15,791.09 L674.31,791.47 L675.46,791.84 L676.61,792.21 L677.76,792.57 L678.91,792.92 L680.06,793.27 L681.21,793.61 L682.37,793.93 L683.52,794.25 L684.67,794.55 L685.82,794.84 L686.97,795.11 L688.12,795.37 L689.27,795.61 L690.43,795.83 L691.58,796.02 L692.73,796.20 L693.88,796.35 L695.03,796.48 L696.18,796.59 L697.34,796.68 L698.49,796.75 L699.64,796.81 L700.79,796.86 L701.94,796.89 L703.09,796.92 L704.24,796.93 L705.40,796.94 L706.55,796.94 L707.70,796.94 L708.85,796.93 L710.00,796.93 L711.15,796.92 L712.30,796.91 L713.46,796.91 L714.61,796.90 L715.76,796.90 L716.91,796.89 L718.06,796.89 L719.21,796.88 L720.37,796.88 L721.52,796.87 L722.67,796.87 L723.82,796.86 L724.97,796.86 L726.12,796.86 L727.27,796.85 L728.43,796.85 L729.58,796.85 L730.73,796.84 L731.88,796.84 L733.03,796.84 L734.18,796.84 L735.33,796.83 L736.49,796.83 L737.64,796.83 L738.79,796.83 L739.94,796.83 L741.09,796.82 L742.24,796.82 L743.39,796.82 L744.55,796.82 L745.70,796.82 L746.85,796.82 L748.00,796.82 L749.15,796.82 L750.30,796.82 L751.46,796.82 L752.61,796.82 L753.76,796.82 L754.91,796.82 L756.06,796.82 L757.21,796.82 L758.36,796.82 L759.52,796.82 L760.67,796.82 L761.82,796.82 L762.97,796.82 L764.12,796.82 L765.27,796.82 L766.42,796.82 L767.58,796.82 L768.73,796.82 L769.88,796.82 L771.03,796.82 L772.18,796.82 L773.33,796.82 L774.49,796.82 L775.64,796.82 L776.79,796.82 L777.94,796.82 L779.09,796.82 L780.24,796.82 L781.39,796.82 L782.55,796.82 L783.70,796.82 L784.85,796.82 L786.00,796.82 L787.15,796.82 L788.30,796.82 L789.46,796.82 L790.61,796.82 L791.76,796.82 L792.91,796.82 L794.06,796.82 L795.21,796.82 L796.36,796.82 L797.52,796.82 L798.67,796.82 L799.82,796.82 L800.97,796.82 L802.12,796.82 L803.27,796.82 L804.42,796.82 L805.58,796.82 L806.73,796.82 L807.88,796.82 L809.03,796.82 L810.18,796.82 L811.33,796.82 L812.49,796.82 L813.64,796.82 L814.79,796.82 L815.94,796.82 L817.09,796.82 L818.24,796.82 L819.39,796.82 L820.55,796.82 L821.70,796.82 L822.85,796.82 L824.00,796.82" fill="none" stroke="#0d0887" stroke-width="4.15" stroke-linejoin="round" stroke-linecap="square"/>
<path d="M133.10,811.75 L134.25,811.75 L135.40,811.74 L136.55,811.74 L137.71,811.73 L138.86,811.73 L140.01,811.73 L141.16,811.72 L142.31,811.72 L143.46,811.72 L144.62,811.71 L145.77,811.71 L146.92,811.70 L148.07,811.70 L149.22,811.70 L150.37,811.69 L151.52,811.69 L152.68,811.69 L153.83,811.68 L154.98,811.68 L156.13,811.68 L157.28,811.67 L158.43,811.67 L159.58,811.67 L160.74,811.66 L161.89,811.66 L163.04,811.66 L164.19,811.65 L165.34,811.65 L166.49,811.65 L167.64,811.64 L168.80,811.64 L169.95,811.64 L171.10,811.63 L172.25,811.63 L173.40,811.63 L174.55,811.63 L175.71,811.62 L176.86,811.62 L178.01,811.62 L179.16,811.62 L180.31,811.61 L181.46,811.61 L182.61,811.61 L183.77,811.61 L184.92,811.61 L186.07,811.60 L187.22,811.60 L188.37,811.60 L189.52,811.60 L190.68,811.60 L191.83,811.60 L192.98,811.59 L194.13,811.59 L195.28,811.59 L196.43,811.59 L197.58,811.59 L198.74,811.59 L199.89,811.59 L201.04,811.59 L202.19,811.59 L203.34,811.59 L204.49,811.59 L205.64,811.59 L206.80,811.59 L207.95,811.59 L209.10,811.59 L210.25,811.59 L211.40,811.59 L212.55,811.59 L213.71,811.59 L214.86,811.59 L216.01,811.59 L217.16,811.59 L218.31,811.59 L219.46,811.59 L220.61,811.60 L221.77,811.60 L222.92,811.60 L224.07,811.60 L225.22,811.60 L226.37,811.61 L227.52,811.61 L228.67,811.61 L229.83,811.61 L230.98,811.62 L232.13,811.62 L233.28,811.62 L234.43,811.63 L235.58,811.63 L236.73,811.63 L237.89,811.64 L239.04,811.64 L240.19,811.64 L241.34,811.65 L242.49,811.65 L243.64,811.66 L244.80,811.66 L245.95,811.67 L247.10,811.67 L248.25,811.68 L249.40,811.68 L250.55,811.69 L251.70,811.70 L252.86,811.70 L254.01,811.71 L255.16,811.71 L256.31,811.71 L257.46,811.71 L258.61,811.72 L259.76,811.71 L260.92,811.71 L262.07,811.71 L263.22,811.70 L264.37,811.70 L265.52,811.69 L266.67,811.67 L267.83,811.66 L268.98,811.64 L270.13,811.62 L271.28,811.60 L272.43,811.57 L273.58,811.54 L274.73,811.51 L275.89,811.47 L277.04,811.43 L278.19,811.39 L279.34,811.34 L280.49,811.28 L281.64,811.23 L282.80,811.16 L283.95,811.09 L285.10,811.02 L286.25,810.94 L287.40,810.86 L288.55,810.77 L289.70,810.68 L290.86,810.57 L292.01,810.47 L293.16,810.35 L294.31,810.23 L295.46,810.11 L296.61,809.98 L297.76,809.84 L298.92,809.70 L300.07,809.55 L301.22,809.41 L302.37,809.26 L303.52,809.11 L304.67,808.96 L305.82,808.82 L306.98,808.67 L308.13,808.53 L309.28,808.40 L310.43,808.26 L311.58,808.14 L312.73,808.02 L313.89,807.90 L315.04,807.80 L316.19,807.70 L317.34,807.62 L318.49,807.55 L319.64,807.48 L320.79,807.43 L321.95,807.40 L323.10,807.37 L324.25,807.35 L325.40,807.33 L326.55,807.33 L327.70,807.32 L328.86,807.32 L330.01,807.31 L331.16,807.30 L332.31,807.29 L333.46,807.28 L334.61,807.25 L335.76,807.22 L336.92,807.18 L338.07,807.12 L339.22,807.05 L340.37,806.96 L341.52,806.85 L342.67,806.73 L343.82,806.58 L344.98,806.41 L346.13,806.22 L347.28,806.00 L348.43,805.75 L349.58,805.47 L350.73,805.15 L351.88,804.81 L353.04,804.43 L354.19,804.01 L355.34,803.55 L356.49,803.05 L357.64,802.52 L358.79,801.94 L359.95,801.32 L361.10,800.67 L362.25,799.99 L363.40,799.28 L364.55,798.54 L365.70,797.78 L366.85,796.99 L368.01,796.18 L369.16,795.36 L370.31,794.53 L371.46,793.68 L372.61,792.82 L373.76,791.95 L374.92,791.08 L376.07,790.21 L377.22,789.34 L378.37,788.47 L379.52,787.60 L380.67,786.75 L381.82,785.90 L382.98,785.06 L384.13,784.23 L385.28,783.42 L386.43,782.61 L387.58,781.82 L388.73,781.03 L389.88,780.26 L391.04,779.49 L392.19,778.74 L393.34,778.00 L394.49,777.27 L395.64,776.56 L396.79,775.85 L397.95,775.15 L399.10,774.47 L400.25,773.80 L401.40,773.15 L402.55,772.51 L403.70,771.89 L404.85,771.29 L406.01,770.71 L407.16,770.15 L408.31,769.62 L409.46,769.12 L410.61,768.65 L411.76,768.21 L412.91,767.81 L414.07,767.45 L415.22,767.13 L416.37,766.87 L417.52,766.66 L418.67,766.52 L419.82,766.44 L420.98,766.43 L422.13,766.48 L423.28,766.60 L424.43,766.78 L425.58,767.02 L426.73,767.31 L427.88,767.65 L429.04,768.04 L430.19,768.48 L431.34,768.97 L432.49,769.49 L433.64,770.06 L434.79,770.66 L435.94,771.29 L437.10,771.95 L438.25,772.64 L439.40,773.35 L440.55,774.08 L441.70,774.84 L442.85,775.61 L444.01,776.40 L445.16,777.20 L446.31,778.01 L447.46,778.83 L448.61,779.65 L449.76,780.48 L450.91,781.31 L452.07,782.14 L453.22,782.97 L454.37,783.79 L455.52,784.61 L456.67,785.41 L457.82,786.21 L458.97,786.99 L460.13,787.75 L461.28,788.50 L462.43,789.22 L463.58,789.92 L464.73,790.59 L465.88,791.24 L467.04,791.85 L468.19,792.43 L469.34,792.97 L470.49,793.48 L471.64,793.94 L472.79,794.37 L473.94,794.74 L475.10,795.07 L476.25,795.34 L477.40,795.56 L478.55,795.71 L479.70,795.77 L480.85,795.75 L482.00,795.63 L483.16,795.41 L484.31,795.10 L485.46,794.70 L486.61,794.21 L487.76,793.62 L488.91,792.94 L490.06,792.18 L491.22,791.35 L492.37,790.44 L493.52,789.48 L494.67,788.46 L495.82,787.39 L496.97,786.28 L498.13,785.13 L499.28,783.96 L500.43,782.77 L501.58,781.56 L502.73,780.30 L503.88,779.00 L505.03,777.67 L506.19,776.34 L507.34,775.01 L508.49,773.72 L509.64,772.48 L510.79,771.32 L511.94,770.24 L513.10,769.26 L514.25,768.38 L515.40,767.58 L516.55,766.83 L517.70,766.13 L518.85,765.46 L520.00,764.79 L521.16,764.14 L522.31,763.50 L523.46,762.87 L524.61,762.28 L525.76,761.71 L526.91,761.19 L528.06,760.71 L529.22,760.29 L530.37,759.93 L531.52,759.63 L532.67,759.40 L533.82,759.24 L534.97,759.15 L536.12,759.14 L537.28,759.20 L538.43,759.34 L539.58,759.56 L540.73,759.87 L541.88,760.26 L543.03,760.73 L544.19,761.27 L545.34,761.88 L546.49,762.54 L547.64,763.25 L548.79,764.02 L549.94,764.82 L551.09,765.65 L552.25,766.52 L553.40,767.41 L554.55,768.33 L555.70,769.28 L556.85,770.26 L558.00,771.26 L559.15,772.29 L560.31,773.34 L561.46,774.40 L562.61,775.48 L563.76,776.55 L564.91,777.62 L566.06,778.66 L567.22,779.67 L568.37,780.66 L569.52,781.64 L570.67,782.62 L571.82,783.60 L572.97,784.58 L574.12,785.59 L575.28,786.63 L576.43,787.70 L577.58,788.79 L578.73,789.90 L579.88,791.02 L581.03,792.14 L582.18,793.25 L583.34,794.34 L584.49,795.40 L585.64,796.43 L586.79,797.42 L587.94,798.35 L589.09,799.22 L590.25,800.02 L591.40,800.75 L592.55,801.39 L593.70,801.96 L594.85,802.47 L596.00,802.91 L597.15,803.31 L598.31,803.67 L599.46,803.99 L600.61,804.29 L601.76,804.57 L602.91,804.84 L604.06,805.11 L605.21,805.38 L606.37,805.66 L607.52,805.96 L608.67,806.26 L609.82,806.56 L610.97,806.86 L612.12,807.16 L613.28,807.44 L614.43,807.71 L615.58,807.96 L616.73,808.19 L617.88,808.40 L619.03,808.58 L620.18,808.74 L621.34,808.88 L622.49,809.00 L623.64,809.11 L624.79,809.21 L625.94,809.29 L627.09,809.36 L628.25,809.43 L629.40,809.49 L630.55,809.54 L631.70,809.60 L632.85,809.64 L634.00,809.69 L635.15,809.73 L636.31,809.77 L637.46,809.82 L638.61,809.86 L639.76,809.90 L640.91,809.94 L642.06,809.99 L643.21,810.03 L644.37,810.08 L645.52,810.13 L646.67,810.17 L647.82,810.22 L648.97,810.27 L650.12,810.32 L651.28,810.36 L652.43,810.41 L653.58,810.46 L654.73,810.50 L655.88,810.55 L657.03,810.59 L658.18,810.64 L659.34,810.68 L660.49,810.72 L661.64,810.76 L662.79,810.80 L663.94,810.83 L665.09,810.87 L666.24,810.90 L667.40,810.94 L668.55,810.97 L669.70,811.00 L670.85,811.02 L672.00,811.05 L673.15,811.08 L674.31,811.10 L675.46,811.13 L676.61,811.15 L677.76,811.17 L678.91,811.19 L680.06,811.21 L681.21,811.23 L682.37,811.25 L683.52,811.27 L684.67,811.28 L685.82,811.30 L686.97,811.31 L688.12,811.32 L689.27,811.34 L690.43,811.35 L691.58,811.36 L692.73,811.37 L693.88,811.37 L695.03,811.38 L696.18,811.39 L697.34,811.39 L698.49,811.39 L699.64,811.40 L700.79,811.40 L701.94,811.40 L703.09,811.40 L704.24,811.40 L705.40,811.40 L706.55,811.41 L707.70,811.41 L708.85,811.40 L710.00,811.40 L711.15,811.40 L712.30,811.40 L713.46,811.40 L714.61,811.40 L715.76,811.40 L716.91,811.40 L718.06,811.40 L719.21,811.40 L720.37,811.40 L721.52,811.40 L722.67,811.40 L723.82,811.40 L724.97,811.40 L726.12,811.40 L727.27,811.40 L728.43,811.40 L729.58,811.40 L730.73,811.40 L731.88,811.40 L733.03,811.40 L734.18,811.40 L735.33,811.40 L736.49,811.40 L737.64,811.40 L738.79,811.40 L739.94,811.40 L741.09,811.40 L742.24,811.40 L743.39,811.40 L744.55,811.40 L745.70,811.40 L746.85,811.40 L748.00,811.40 L749.15,811.40 L750.30,811.40 L751.46,811.40 L752.61,811.40 L753.76,811.40 L754.91,811.40 L756.06,811.40 L757.21,811.40 L758.36,811.40 L759.52,811.40 L760.67,811.40 L761.82,811.40 L762.97,811.40 L764.12,811.40 L765.27,811.40 L766.42,811.40 L767.58,811.40 L768.73,811.40 L769.88,811.40 L771.03,811.40 L772.18,811.40 L773.33,811.40 L774.49,811.40 L775.64,811.40 L776.79,811.40 L777.94,811.40 L779.09,811.40 L780.24,811.40 L781.39,811.40 L782.55,811.40 L783.70,811.40 L784.85,811.40 L786.00,811.40 L787.15,811.40 L788.30,811.40 L789.46,811.40 L790.61,811.40 L791.76,811.40 L792.91,811.40 L794.06,811.40 L795.21,811.40 L796.36,811.40 L797.52,811.40 L798.67,811.40 L799.82,811.40 L800.97,811.40 L802.12,811.40 L803.27,811.40 L804.42,811.40 L805.58,811.40 L806.73,811.40 L807.88,811.40 L809.03,811.40 L810.18,811.40 L811.33,811.40 L812.49,811.40 L813.64,811.40 L814.79,811.40 L815.94,811.40 L817.09,811.40 L818.24,811.40 L819.39,811.40 L820.55,811.40 L821.70,811.40 L822.85,811.40 L824.00,811.40" fill="none" stroke="#0d0887" stroke-width="4.15" stroke-linejoin="round" stroke-dasharray="26.56 6.64 4.15 6.64"/>
<path d="M133.10,811.75 L134.25,811.75 L135.40,811.75 L136.55,811.75 L137.71,811.75 L138.86,811.75 L140.01,811.75 L141.16,811.75 L142.31,811.75 L143.46,811.75 L144.62,811.75 L145.77,811.75 L146.92,811.75 L148.07,811.75 L149.22,811.75 L150.37,811.75 L151.52,811.75 L152.68,811.75 L153.83,811.75 L154.98,811.75 L156.13,811.75 L157.28,811.75 L158.43,811.75 L159.58,811.75 L160.74,811.75 L161.89,811.75 L163.04,811.75 L164.19,811.75 L165.34,811.75 L166.49,811.75 L167.64,811.75 L168.80,811.75 L169.95,811.75 L171.10,811.75 L172.25,811.75 L173.40,811.75 L174.55,811.75 L175.71,811.75 L176.86,811.75 L178.01,811.75 L179.16,811.75 L180.31,811.75 L181.46,811.75 L182.61,811.75 L183.77,811.75 L184.92,811.75 L186.07,811.75 L187.22,811.75 L188.37,811.75 L189.52,811.75 L190.68,811.75 L191.83,811.75 L192.98,811.75 L194.13,811.75 L195.28,811.75 L196.43,811.75 L197.58,811.75 L198.74,811.75 L199.89,811.75 L201.04,811.75 L202.19,811.75 L203.34,811.75 L204.49,811.75 L205.64,811.75 L206.80,811.75 L207.95,811.75 L209.10,811.75 L210.25,811.75 L211.40,811.75 L212.55,811.75 L213.71,811.75 L214.86,811.75 L216.01,811.75 L217.16,811.75 L218.31,811.75 L219.46,811.75 L220.61,811.75 L221.77,811.75 L222.92,811.75 L224.07,811.75 L225.22,811.75 L226.37,811.75 L227.52,811.75 L228.67,811.75 L229.83,811.75 L230.98,811.75 L232.13,811.75 L233.28,811.75 L234.43,811.75 L235.58,811.75 L236.73,811.75 L237.89,811.75 L239.04,811.75 L240.19,811.75 L241.34,811.75 L242.49,811.75 L243.64,811.75 L244.80,811.75 L245.95,811.75 L247.10,811.75 L248.25,811.75 L249.40,811.75 L250.55,811.75 L251.70,811.75 L252.86,811.75 L254.01,811.75 L255.16,811.75 L256.31,811.75 L257.46,811.75 L258.61,811.75 L259.76,811.75 L260.92,811.75 L262.07,811.75 L263.22,811.75 L264.37,811.75 L265.52,811.75 L266.67,811.75 L267.83,811.75 L268.98,811.75 L270.13,811.75 L271.28,811.75 L272.43,811.75 L273.58,811.75 L274.73,811.75 L275.89,811.75 L277.04,811.75 L278.19,811.75 L279.34,811.75 L280.49,811.75 L281.64,811.75 L282.80,811.75 L283.95,811.75 L285.10,811.75 L286.25,811.75 L287.40,811.75 L288.55,811.75 L289.70,811.75 L290.86,811.75 L292.01,811.75 L293.16,811.75 L294.31,811.75 L295.46,811.75 L296.61,811.75 L297.76,811.75 L298.92,811.74 L300.07,811.74 L301.22,811.74 L302.37,811.74 L303.52,811.74 L304.67,811.74 L305.82,811.74 L306.98,811.74 L308.13,811.74 L309.28,811.73 L310.43,811.73 L311.58,811.73 L312.73,811.73 L313.89,811.72 L315.04,811.72 L316.19,811.72 L317.34,811.71 L318.49,811.71 L319.64,811.70 L320.79,811.70 L321.95,811.69 L323.10,811.68 L324.25,811.68 L325.40,811.67 L326.55,811.66 L327.70,811.65 L328.86,811.64 L330.01,811.62 L331.16,811.61 L332.31,811.59 L333.46,811.58 L334.61,811.56 L335.76,811.54 L336.92,811.52 L338.07,811.50 L339.22,811.47 L340.37,811.44 L341.52,811.41 L342.67,811.38 L343.82,811.35 L344.98,811.32 L346.13,811.28 L347.28,811.24 L348.43,811.20 L349.58,811.15 L350.73,811.11 L351.88,811.06 L353.04,811.01 L354.19,810.95 L355.34,810.89 L356.49,810.83 L357.64,810.77 L358.79,810.70 L359.95,810.62 L361.10,810.54 L362.25,810.45 L363.40,810.35 L364.55,810.25 L365.70,810.13 L366.85,810.01 L368.01,809.87 L369.16,809.73 L370.31,809.58 L371.46,809.42 L372.61,809.26 L373.76,809.09 L374.92,808.92 L376.07,808.75 L377.22,808.56 L378.37,808.38 L379.52,808.19 L380.67,808.00 L381.82,807.81 L382.98,807.61 L384.13,807.41 L385.28,807.22 L386.43,807.02 L387.58,806.83 L388.73,806.64 L389.88,806.45 L391.04,806.27 L392.19,806.09 L393.34,805.91 L394.49,805.74 L395.64,805.58 L396.79,805.42 L397.95,805.27 L399.10,805.12 L400.25,804.98 L401.40,804.84 L402.55,804.72 L403.70,804.60 L404.85,804.48 L406.01,804.38 L407.16,804.28 L408.31,804.19 L409.46,804.11 L410.61,804.03 L411.76,803.97 L412.91,803.91 L414.07,803.87 L415.22,803.83 L416.37,803.80 L417.52,803.78 L418.67,803.77 L419.82,803.77 L420.98,803.78 L422.13,803.79 L423.28,803.82 L424.43,803.86 L425.58,803.90 L426.73,803.95 L427.88,804.02 L429.04,804.09 L430.19,804.17 L431.34,804.26 L432.49,804.35 L433.64,804.46 L434.79,804.57 L435.94,804.69 L437.10,804.81 L438.25,804.95 L439.40,805.09 L440.55,805.23 L441.70,805.38 L442.85,805.54 L444.01,805.70 L445.16,805.86 L446.31,806.03 L447.46,806.20 L448.61,806.38 L449.76,806.56 L450.91,806.74 L452.07,806.92 L453.22,807.10 L454.37,807.29 L455.52,807.48 L456.67,807.66 L457.82,807.85 L458.97,808.03 L460.13,808.21 L461.28,808.38 L462.43,808.55 L463.58,808.71 L464.73,808.87 L465.88,809.01 L467.04,809.15 L468.19,809.27 L469.34,809.39 L470.49,809.49 L471.64,809.59 L472.79,809.67 L473.94,809.74 L475.10,809.79 L476.25,809.83 L477.40,809.86 L478.55,809.87 L479.70,809.86 L480.85,809.83 L482.00,809.79 L483.16,809.73 L484.31,809.66 L485.46,809.57 L486.61,809.47 L487.76,809.36 L488.91,809.24 L490.06,809.11 L491.22,808.97 L492.37,808.82 L493.52,808.66 L494.67,808.49 L495.82,808.31 L496.97,808.11 L498.13,807.91 L499.28,807.69 L500.43,807.47 L501.58,807.23 L502.73,806.99 L503.88,806.74 L505.03,806.48 L506.19,806.22 L507.34,805.96 L508.49,805.70 L509.64,805.43 L510.79,805.18 L511.94,804.92 L513.10,804.68 L514.25,804.44 L515.40,804.21 L516.55,803.99 L517.70,803.79 L518.85,803.60 L520.00,803.41 L521.16,803.25 L522.31,803.10 L523.46,802.96 L524.61,802.84 L525.76,802.73 L526.91,802.64 L528.06,802.56 L529.22,802.50 L530.37,802.45 L531.52,802.42 L532.67,802.40 L533.82,802.39 L534.97,802.40 L536.12,802.42 L537.28,802.45 L538.43,802.50 L539.58,802.56 L540.73,802.63 L541.88,802.71 L543.03,802.81 L544.19,802.91 L545.34,803.02 L546.49,803.15 L547.64,803.28 L548.79,803.43 L549.94,803.58 L551.09,803.74 L552.25,803.91 L553.40,804.09 L554.55,804.27 L555.70,804.47 L556.85,804.68 L558.00,804.89 L559.15,805.11 L560.31,805.34 L561.46,805.58 L562.61,805.82 L563.76,806.08 L564.91,806.33 L566.06,806.59 L567.22,806.85 L568.37,807.10 L569.52,807.36 L570.67,807.60 L571.82,807.84 L572.97,808.06 L574.12,808.28 L575.28,808.49 L576.43,808.68 L577.58,808.86 L578.73,809.03 L579.88,809.18 L581.03,809.33 L582.18,809.47 L583.34,809.60 L584.49,809.72 L585.64,809.84 L586.79,809.95 L587.94,810.07 L589.09,810.17 L590.25,810.28 L591.40,810.39 L592.55,810.49 L593.70,810.59 L594.85,810.68 L596.00,810.77 L597.15,810.85 L598.31,810.93 L599.46,811.00 L600.61,811.07 L601.76,811.13 L602.91,811.19 L604.06,811.25 L605.21,811.29 L606.37,811.34 L607.52,811.38 L608.67,811.42 L609.82,811.45 L610.97,811.48 L612.12,811.50 L613.28,811.53 L614.43,811.55 L615.58,811.56 L616.73,811.58 L617.88,811.59 L619.03,811.60 L620.18,811.61 L621.34,811.62 L622.49,811.63 L623.64,811.64 L624.79,811.64 L625.94,811.65 L627.09,811.65 L628.25,811.65 L629.40,811.66 L630.55,811.66 L631.70,811.66 L632.85,811.67 L634.00,811.67 L635.15,811.67 L636.31,811.67 L637.46,811.68 L638.61,811.68 L639.76,811.68 L640.91,811.68 L642.06,811.69 L643.21,811.69 L644.37,811.69 L645.52,811.69 L646.67,811.70 L647.82,811.70 L648.97,811.70 L650.12,811.70 L651.28,811.71 L652.43,811.71 L653.58,811.71 L654.73,811.71 L655.88,811.71 L657.03,811.72 L658.18,811.72 L659.34,811.72 L660.49,811.72 L661.64,811.72 L662.79,811.73 L663.94,811.73 L665.09,811.73 L666.24,811.73 L667.40,811.73 L668.55,811.73 L669.70,811.73 L670.85,811.73 L672.00,811.73 L673.15,811.74 L674.31,811.74 L675.46,811.74 L676.61,811.74 L677.76,811.74 L678.91,811.74 L680.06,811.74 L681.21,811.74 L682.37,811.74 L683.52,811.74 L684.67,811.74 L685.82,811.74 L686.97,811.74 L688.12,811.74 L689.27,811.74 L690.43,811.74 L691.58,811.74 L692.73,811.74 L693.88,811.74 L695.03,811.74 L696.18,811.74 L697.34,811.74 L698.49,811.74 L699.64,811.74 L700.79,811.74 L701.94,811.74 L703.09,811.74 L704.24,811.74 L705.40,811.74 L706.55,811.74 L707.70,811.74 L708.85,811.74 L710.00,811.74 L711.15,811.74 L712.30,811.74 L713.46,811.74 L714.61,811.74 L715.76,811.74 L716.91,811.74 L718.06,811.74 L719.21,811.74 L720.37,811.74 L721.52,811.74 L722.67,811.74 L723.82,811.74 L724.97,811.74 L726.12,811.74 L727.27,811.74 L728.43,811.74 L729.58,811.74 L730.73,811.74 L731.88,811.74 L733.03,811.74 L734.18,811.74 L735.33,811.74 L736.49,811.74 L737.64,811.74 L738.79,811.74 L739.94,811.74 L741.09,811.74 L742.24,811.74 L743.39,811.74 L744.55,811.74 L745.70,811.74 L746.85,811.74 L748.00,811.74 L749.15,811.74 L750.30,811.74 L751.46,811.74 L752.61,811.74 L753.76,811.74 L754.91,811.74 L756.06,811.74 L757.21,811.74 L758.36,811.74 L759.52,811.74 L760.67,811.74 L761.82,811.74 L762.97,811.74 L764.12,811.74 L765.27,811.74 L766.42,811.74 L767.58,811.74 L768.73,811.74 L769.88,811.74 L771.03,811.74 L772.18,811.74 L773.33,811.74 L774.49,811.74 L775.64,811.74 L776.79,811.74 L777.94,811.74 L779.09,811.74 L780.24,811.74 L781.39,811.74 L782.55,811.74 L783.70,811.74 L784.85,811.74 L786.00,811.74 L787.15,811.74 L788.30,811.74 L789.46,811.74 L790.61,811.74 L791.76,811.74 L792.91,811.74 L794.06,811.74 L795.21,811.74 L796.36,811.74 L797.52,811.74 L798.67,811.74 L799.82,811.74 L800.97,811.74 L802.12,811.74 L803.27,811.74 L804.42,811.74 L805.58,811.74 L806.73,811.74 L807.88,811.74 L809.03,811.74 L810.18,811.74 L811.33,811.74 L812.49,811.74 L813.64,811.74 L814.79,811.74 L815.94,811.74 L817.09,811.74 L818.24,811.74 L819.39,811.74 L820.55,811.74 L821.70,811.74 L822.85,811.74 L824.00,811.74" fill="none" stroke="#0d0887" stroke-width="4.15" stroke-linejoin="round" stroke-dasharray="4.15 6.85"/>
<path d="M133.10,438.00 L134.25,438.00 L135.40,438.00 L136.55,438.00 L137.71,438.00 L138.86,438.00 L140.01,438.00 L141.16,438.00 L142.31,438.00 L143.46,438.00 L144.62,438.00 L145.77,438.00 L146.92,438.00 L148.07,438.00 L149.22,438.00 L150.37,438.00 L151.52,438.00 L152.68,438.00 L153.83,438.00 L154.98,438.00 L156.13,438.00 L157.28,438.00 L158.43,438.00 L159.58,438.00 L160.74,438.00 L161.89,438.00 L163.04,438.00 L164.19,438.00 L165.34,438.00 L166.49,438.00 L167.64,438.00 L168.80,438.00 L169.95,438.00 L171.10,438.01 L172.25,438.01 L173.40,438.01 L174.55,438.01 L175.71,438.01 L176.86,438.01 L178.01,438.02 L179.16,438.02 L180.31,438.02 L181.46,438.02 L182.61,438.02 L183.77,438.02 L184.92,438.02 L186.07,438.02 L187.22,438.03 L188.37,438.03 L189.52,438.03 L190.68,438.03 L191.83,438.03 L192.98,438.03 L194.13,438.03 L195.28,438.03 L196.43,438.03 L197.58,438.03 L198.74,438.03 L199.89,438.03 L201.04,438.03 L202.19,438.03 L203.34,438.03 L204.49,438.03 L205.64,438.03 L206.80,438.03 L207.95,438.03 L209.10,438.03 L210.25,438.04 L211.40,438.04 L212.55,438.04 L213.71,438.04 L214.86,438.04 L216.01,438.04 L217.16,438.04 L218.31,438.04 L219.46,438.05 L220.61,438.05 L221.77,438.05 L222.92,438.05 L224.07,438.06 L225.22,438.06 L226.37,438.06 L227.52,438.07 L228.67,438.07 L229.83,438.08 L230.98,438.08 L232.13,438.09 L233.28,438.09 L234.43,438.10 L235.58,438.10 L236.73,438.11 L237.89,438.12 L239.04,438.13 L240.19,438.14 L241.34,438.15 L242.49,438.16 L243.64,438.17 L244.80,438.18 L245.95,438.20 L247.10,438.21 L248.25,438.23 L249.40,438.24 L250.55,438.26 L251.70,438.28 L252.86,438.30 L254.01,438.33 L255.16,438.35 L256.31,438.38 L257.46,438.41 L258.61,438.44 L259.76,438.47 L260.92,438.51 L262.07,438.55 L263.22,438.59 L264.37,438.64 L265.52,438.70 L266.67,438.75 L267.83,438.81 L268.98,438.88 L270.13,438.95 L271.28,439.02 L272.43,439.09 L273.58,439.17 L274.73,439.25 L275.89,439.34 L277.04,439.43 L278.19,439.53 L279.34,439.63 L280.49,439.73 L281.64,439.85 L282.80,439.97 L283.95,440.09 L285.10,440.22 L286.25,440.36 L287.40,440.51 L288.55,440.67 L289.70,440.83 L290.86,441.00 L292.01,441.17 L293.16,441.35 L294.31,441.55 L295.46,441.75 L296.61,441.96 L297.76,442.18 L298.92,442.41 L300.07,442.66 L301.22,442.92 L302.37,443.19 L303.52,443.48 L304.67,443.77 L305.82,444.08 L306.98,444.39 L308.13,444.72 L309.28,445.05 L310.43,445.41 L311.58,445.77 L312.73,446.15 L313.89,446.54 L315.04,446.95 L316.19,447.36 L317.34,447.78 L318.49,448.21 L319.64,448.64 L320.79,449.09 L321.95,449.54 L323.10,450.01 L324.25,450.48 L325.40,450.96 L326.55,451.45 L327.70,451.95 L328.86,452.46 L330.01,452.98 L331.16,453.51 L332.31,454.05 L333.46,454.60 L334.61,455.17 L335.76,455.74 L336.92,456.33 L338.07,456.93 L339.22,457.55 L340.37,458.17 L341.52,458.81 L342.67,459.46 L343.82,460.12 L344.98,460.80 L346.13,461.48 L347.28,462.18 L348.43,462.89 L349.58,463.61 L350.73,464.34 L351.88,465.08 L353.04,465.84 L354.19,466.60 L355.34,467.38 L356.49,468.18 L357.64,468.99 L358.79,469.80 L359.95,470.63 L361.10,471.46 L362.25,472.29 L363.40,473.13 L364.55,473.95 L365.70,474.77 L366.85,475.59 L368.01,476.41 L369.16,477.21 L370.31,478.02 L371.46,478.81 L372.61,479.59 L373.76,480.37 L374.92,481.12 L376.07,481.86 L377.22,482.57 L378.37,483.27 L379.52,483.94 L380.67,484.58 L381.82,485.21 L382.98,485.80 L384.13,486.37 L385.28,486.91 L386.43,487.43 L387.58,487.91 L388.73,488.35 L389.88,488.77 L391.04,489.14 L392.19,489.49 L393.34,489.79 L394.49,490.06 L395.64,490.29 L396.79,490.48 L397.95,490.63 L399.10,490.75 L400.25,490.83 L401.40,490.86 L402.55,490.86 L403.70,490.82 L404.85,490.74 L406.01,490.63 L407.16,490.47 L408.31,490.28 L409.46,490.05 L410.61,489.79 L411.76,489.48 L412.91,489.14 L414.07,488.76 L415.22,488.35 L416.37,487.90 L417.52,487.41 L418.67,486.89 L419.82,486.34 L420.98,485.75 L422.13,485.12 L423.28,484.47 L424.43,483.78 L425.58,483.07 L426.73,482.32 L427.88,481.56 L429.04,480.76 L430.19,479.95 L431.34,479.11 L432.49,478.24 L433.64,477.35 L434.79,476.44 L435.94,475.51 L437.10,474.55 L438.25,473.58 L439.40,472.58 L440.55,471.57 L441.70,470.54 L442.85,469.50 L444.01,468.46 L445.16,467.42 L446.31,466.37 L447.46,465.33 L448.61,464.30 L449.76,463.29 L450.91,462.28 L452.07,461.29 L453.22,460.32 L454.37,459.37 L455.52,458.43 L456.67,457.50 L457.82,456.59 L458.97,455.70 L460.13,454.83 L461.28,454.00 L462.43,453.21 L463.58,452.47 L464.73,451.77 L465.88,451.12 L467.04,450.53 L468.19,449.98 L469.34,449.49 L470.49,449.04 L471.64,448.65 L472.79,448.32 L473.94,448.04 L475.10,447.82 L476.25,447.66 L477.40,447.55 L478.55,447.51 L479.70,447.52 L480.85,447.59 L482.00,447.71 L483.16,447.89 L484.31,448.13 L485.46,448.42 L486.61,448.76 L487.76,449.16 L488.91,449.60 L490.06,450.10 L491.22,450.66 L492.37,451.26 L493.52,451.91 L494.67,452.60 L495.82,453.34 L496.97,454.13 L498.13,454.96 L499.28,455.83 L500.43,456.74 L501.58,457.69 L502.73,458.67 L503.88,459.68 L505.03,460.72 L506.19,461.78 L507.34,462.87 L508.49,463.96 L509.64,465.07 L510.79,466.17 L511.94,467.28 L513.10,468.37 L514.25,469.46 L515.40,470.53 L516.55,471.59 L517.70,472.63 L518.85,473.65 L520.00,474.65 L521.16,475.63 L522.31,476.59 L523.46,477.52 L524.61,478.43 L525.76,479.31 L526.91,480.17 L528.06,480.99 L529.22,481.78 L530.37,482.54 L531.52,483.27 L532.67,483.96 L533.82,484.62 L534.97,485.25 L536.12,485.84 L537.28,486.39 L538.43,486.91 L539.58,487.39 L540.73,487.83 L541.88,488.24 L543.03,488.61 L544.19,488.95 L545.34,489.25 L546.49,489.51 L547.64,489.73 L548.79,489.92 L549.94,490.08 L551.09,490.20 L552.25,490.28 L553.40,490.33 L554.55,490.34 L555.70,490.32 L556.85,490.27 L558.00,490.19 L559.15,490.07 L560.31,489.92 L561.46,489.74 L562.61,489.52 L563.76,489.28 L564.91,489.00 L566.06,488.70 L567.22,488.36 L568.37,488.00 L569.52,487.61 L570.67,487.19 L571.82,486.74 L572.97,486.27 L574.12,485.77 L575.28,485.24 L576.43,484.70 L577.58,484.12 L578.73,483.53 L579.88,482.92 L581.03,482.28 L582.18,481.63 L583.34,480.95 L584.49,480.26 L585.64,479.55 L586.79,478.83 L587.94,478.09 L589.09,477.34 L590.25,476.58 L591.40,475.80 L592.55,475.01 L593.70,474.21 L594.85,473.40 L596.00,472.57 L597.15,471.74 L598.31,470.89 L599.46,470.05 L600.61,469.21 L601.76,468.37 L602.91,467.53 L604.06,466.71 L605.21,465.89 L606.37,465.09 L607.52,464.29 L608.67,463.51 L609.82,462.74 L610.97,461.98 L612.12,461.23 L613.28,460.50 L614.43,459.77 L615.58,459.05 L616.73,458.35 L617.88,457.65 L619.03,456.97 L620.18,456.29 L621.34,455.63 L622.49,454.98 L623.64,454.35 L624.79,453.73 L625.94,453.12 L627.09,452.54 L628.25,451.97 L629.40,451.42 L630.55,450.89 L631.70,450.37 L632.85,449.88 L634.00,449.40 L635.15,448.94 L636.31,448.49 L637.46,448.05 L638.61,447.63 L639.76,447.22 L640.91,446.82 L642.06,446.44 L643.21,446.07 L644.37,445.71 L645.52,445.35 L646.67,445.01 L647.82,444.68 L648.97,444.37 L650.12,444.06 L651.28,443.76 L652.43,443.47 L653.58,443.19 L654.73,442.92 L655.88,442.66 L657.03,442.41 L658.18,442.17 L659.34,441.94 L660.49,441.72 L661.64,441.51 L662.79,441.30 L663.94,441.11 L665.09,440.93 L666.24,440.76 L667.40,440.59 L668.55,440.43 L669.70,440.28 L670.85,440.14 L672.00,440.01 L673.15,439.88 L674.31,439.77 L675.46,439.65 L676.61,439.55 L677.76,439.45 L678.91,439.36 L680.06,439.27 L681.21,439.19 L682.37,439.11 L683.52,439.04 L684.67,438.97 L685.82,438.91 L686.97,438.85 L688.12,438.79 L689.27,438.74 L690.43,438.69 L691.58,438.64 L692.73,438.60 L693.88,438.55 L695.03,438.51 L696.18,438.48 L697.34,438.44 L698.49,438.41 L699.64,438.38 L700.79,438.35 L701.94,438.32 L703.09,438.30 L704.24,438.28 L705.40,438.26 L706.55,438.24 L707.70,438.22 L708.85,438.20 L710.00,438.19 L711.15,438.17 L712.30,438.16 L713.46,438.15 L714.61,438.14 L715.76,438.12 L716.91,438.11 L718.06,438.11 L719.21,438.10 L720.37,438.09 L721.52,438.08 L722.67,438.08 L723.82,438.07 L724.97,438.06 L726.12,438.06 L727.27,438.05 L728.43,438.05 L729.58,438.05 L730.73,438.04 L731.88,438.04 L733.03,438.04 L734.18,438.03 L735.33,438.03 L736.49,438.03 L737.64,438.03 L738.79,438.02 L739.94,438.02 L741.09,438.02 L742.24,438.02 L743.39,438.02 L744.55,438.02 L745.70,438.01 L746.85,438.01 L748.00,438.01 L749.15,438.01 L750.30,438.01 L751.46,438.01 L752.61,438.01 L753.76,438.01 L754.91,438.01 L756.06,438.01 L757.21,438.01 L758.36,438.01 L759.52,438.01 L760.67,438.01 L761.82,438.01 L762.97,438.01 L764.12,438.00 L765.27,438.00 L766.42,438.00 L767.58,438.00 L768.73,438.00 L769.88,438.00 L771.03,438.00 L772.18,438.00 L773.33,438.00 L774.49,438.00 L775.64,438.00 L776.79,438.00 L777.94,438.00 L779.09,438.00 L780.24,438.00 L781.39,438.00 L782.55,438.00 L783.70,438.00 L784.85,438.00 L786.00,438.00 L787.15,438.00 L788.30,438.00 L789.46,438.00 L790.61,438.00 L791.76,438.00 L792.91,438.00 L794.06,438.00 L795.21,438.00 L796.36,438.00 L797.52,438.00 L798.67,438.00 L799.82,438.00 L800.97,438.00 L802.12,438.00 L803.27,438.00 L804.42,438.00 L805.58,438.00 L806.73,438.00 L807.88,438.00 L809.03,438.00 L810.18,438.00 L811.33,438.00 L812.49,438.00 L813.64,438.00 L814.79,438.00 L815.94,438.00 L817.09,438.00 L818.24,438.00 L819.39,438.00 L820.55,438.00 L821.70,438.00 L822.85,438.00 L824.00,438.00" fill="none" stroke="#bf3984" stroke-width="4.15" stroke-linejoin="round" stroke-dasharray="15.36 6.64"/>
<path d="M133.10,811.75 L134.25,811.75 L135.40,811.75 L136.55,811.75 L137.71,811.75 L138.86,811.75 L140.01,811.75 L141.16,811.75 L142.31,811.75 L143.46,811.75 L144.62,811.75 L145.77,811.75 L146.92,811.75 L148.07,811.75 L149.22,811.75 L150.37,811.75 L151.52,811.75 L152.68,811.75 L153.83,811.75 L154.98,811.75 L156.13,811.75 L157.28,811.75 L158.43,811.75 L159.58,811.75 L160.74,811.75 L161.89,811.75 L163.04,811.75 L164.19,811.59 L165.34,811.32 L166.49,811.07 L167.64,810.83 L168.80,810.61 L169.95,810.40 L171.10,810.21 L172.25,810.03 L173.40,809.86 L174.55,809.71 L175.71,809.57 L176.86,809.43 L178.01,809.31 L179.16,809.20 L180.31,809.10 L181.46,809.01 L182.61,808.93 L183.77,808.85 L184.92,808.78 L186.07,808.72 L187.22,808.67 L188.37,808.62 L189.52,808.58 L190.68,808.54 L191.83,808.51 L192.98,808.48 L194.13,808.45 L195.28,808.42 L196.43,808.40 L197.58,808.38 L198.74,808.36 L199.89,808.35 L201.04,808.33 L202.19,808.31 L203.34,808.29 L204.49,808.27 L205.64,808.24 L206.80,808.22 L207.95,808.19 L209.10,808.15 L210.25,808.12 L211.40,808.08 L212.55,808.03 L213.71,807.98 L214.86,807.92 L216.01,807.85 L217.16,807.78 L218.31,807.69 L219.46,807.60 L220.61,807.50 L221.77,807.40 L222.92,807.28 L224.07,807.15 L225.22,807.02 L226.37,806.88 L227.52,806.73 L228.67,806.57 L229.83,806.41 L230.98,806.24 L232.13,806.06 L233.28,805.88 L234.43,805.69 L235.58,805.49 L236.73,805.29 L237.89,805.07 L239.04,804.85 L240.19,804.61 L241.34,804.35 L242.49,804.09 L243.64,803.80 L244.80,803.51 L245.95,803.19 L247.10,802.87 L248.25,802.54 L249.40,802.19 L250.55,801.83 L251.70,801.46 L252.86,801.08 L254.01,800.69 L255.16,800.28 L256.31,799.87 L257.46,799.44 L258.61,798.98 L259.76,798.50 L260.92,797.98 L262.07,797.43 L263.22,796.86 L264.37,796.25 L265.52,795.63 L266.67,794.98 L267.83,794.32 L268.98,793.65 L270.13,792.96 L271.28,792.27 L272.43,791.57 L273.58,790.87 L274.73,790.15 L275.89,789.42 L277.04,788.67 L278.19,787.91 L279.34,787.14 L280.49,786.34 L281.64,785.53 L282.80,784.70 L283.95,783.86 L285.10,782.99 L286.25,782.10 L287.40,781.19 L288.55,780.27 L289.70,779.34 L290.86,778.39 L292.01,777.44 L293.16,776.47 L294.31,775.48 L295.46,774.47 L296.61,773.45 L297.76,772.40 L298.92,771.32 L300.07,770.22 L301.22,769.09 L302.37,767.94 L303.52,766.77 L304.67,765.59 L305.82,764.40 L306.98,763.21 L308.13,762.01 L309.28,760.79 L310.43,759.55 L311.58,758.29 L312.73,757.03 L313.89,755.75 L315.04,754.47 L316.19,753.20 L317.34,751.92 L318.49,750.65 L319.64,749.38 L320.79,748.12 L321.95,746.86 L323.10,745.61 L324.25,744.36 L325.40,743.11 L326.55,741.86 L327.70,740.61 L328.86,739.36 L330.01,738.11 L331.16,736.86 L332.31,735.61 L333.46,734.35 L334.61,733.09 L335.76,731.83 L336.92,730.57 L338.07,729.30 L339.22,728.03 L340.37,726.76 L341.52,725.48 L342.67,724.20 L343.82,722.92 L344.98,721.64 L346.13,720.36 L347.28,719.08 L348.43,717.80 L349.58,716.53 L350.73,715.25 L351.88,713.98 L353.04,712.71 L354.19,711.43 L355.34,710.16 L356.49,708.88 L357.64,707.60 L358.79,706.32 L359.95,705.05 L361.10,703.79 L362.25,702.55 L363.40,701.34 L364.55,700.14 L365.70,698.97 L366.85,697.82 L368.01,696.69 L369.16,695.58 L370.31,694.50 L371.46,693.44 L372.61,692.40 L373.76,691.40 L374.92,690.43 L376.07,689.49 L377.22,688.59 L378.37,687.72 L379.52,686.89 L380.67,686.10 L381.82,685.35 L382.98,684.63 L384.13,683.95 L385.28,683.31 L386.43,682.71 L387.58,682.14 L388.73,681.63 L389.88,681.15 L391.04,680.72 L392.19,680.33 L393.34,679.98 L394.49,679.67 L395.64,679.41 L396.79,679.20 L397.95,679.03 L399.10,678.90 L400.25,678.81 L401.40,678.77 L402.55,678.77 L403.70,678.82 L404.85,678.90 L406.01,679.03 L407.16,679.21 L408.31,679.42 L409.46,679.68 L410.61,679.98 L411.76,680.33 L412.91,680.72 L414.07,681.15 L415.22,681.63 L416.37,682.15 L417.52,682.72 L418.67,683.33 L419.82,683.99 L420.98,684.69 L422.13,685.45 L423.28,686.24 L424.43,687.08 L425.58,687.97 L426.73,688.90 L427.88,689.87 L429.04,690.89 L430.19,691.94 L431.34,693.05 L432.49,694.20 L433.64,695.39 L434.79,696.64 L435.94,697.93 L437.10,699.28 L438.25,700.68 L439.40,702.13 L440.55,703.63 L441.70,705.19 L442.85,706.79 L444.01,708.43 L445.16,710.10 L446.31,711.81 L447.46,713.55 L448.61,715.31 L449.76,717.10 L450.91,718.90 L452.07,720.72 L453.22,722.54 L454.37,724.38 L455.52,726.24 L456.67,728.12 L457.82,730.03 L458.97,731.93 L460.13,733.84 L461.28,735.72 L462.43,737.55 L463.58,739.34 L464.73,741.05 L465.88,742.69 L467.04,744.23 L468.19,745.68 L469.34,747.02 L470.49,748.25 L471.64,749.35 L472.79,750.32 L473.94,751.13 L475.10,751.79 L476.25,752.28 L477.40,752.60 L478.55,752.74 L479.70,752.71 L480.85,752.50 L482.00,752.12 L483.16,751.57 L484.31,750.87 L485.46,750.03 L486.61,749.05 L487.76,747.93 L488.91,746.70 L490.06,745.35 L491.22,743.89 L492.37,742.35 L493.52,740.71 L494.67,739.01 L495.82,737.24 L496.97,735.42 L498.13,733.55 L499.28,731.64 L500.43,729.70 L501.58,727.74 L502.73,725.76 L503.88,723.77 L505.03,721.79 L506.19,719.81 L507.34,717.85 L508.49,715.91 L509.64,714.01 L510.79,712.14 L511.94,710.32 L513.10,708.56 L514.25,706.86 L515.40,705.20 L516.55,703.61 L517.70,702.07 L518.85,700.58 L520.00,699.14 L521.16,697.76 L522.31,696.44 L523.46,695.16 L524.61,693.94 L525.76,692.77 L526.91,691.66 L528.06,690.60 L529.22,689.58 L530.37,688.63 L531.52,687.72 L532.67,686.86 L533.82,686.05 L534.97,685.30 L536.12,684.59 L537.28,683.93 L538.43,683.31 L539.58,682.75 L540.73,682.23 L541.88,681.75 L543.03,681.32 L544.19,680.94 L545.34,680.60 L546.49,680.30 L547.64,680.04 L548.79,679.83 L549.94,679.65 L551.09,679.52 L552.25,679.43 L553.40,679.37 L554.55,679.35 L555.70,679.37 L556.85,679.43 L558.00,679.53 L559.15,679.66 L560.31,679.83 L561.46,680.04 L562.61,680.28 L563.76,680.56 L564.91,680.88 L566.06,681.23 L567.22,681.61 L568.37,682.04 L569.52,682.49 L570.67,682.99 L571.82,683.51 L572.97,684.08 L574.12,684.67 L575.28,685.30 L576.43,685.96 L577.58,686.66 L578.73,687.39 L579.88,688.16 L581.03,688.95 L582.18,689.78 L583.34,690.64 L584.49,691.53 L585.64,692.46 L586.79,693.41 L587.94,694.40 L589.09,695.41 L590.25,696.45 L591.40,697.53 L592.55,698.63 L593.70,699.77 L594.85,700.94 L596.00,702.15 L597.15,703.38 L598.31,704.65 L599.46,705.94 L600.61,707.25 L601.76,708.57 L602.91,709.91 L604.06,711.26 L605.21,712.61 L606.37,713.97 L607.52,715.33 L608.67,716.70 L609.82,718.07 L610.97,719.45 L612.12,720.83 L613.28,722.21 L614.43,723.60 L615.58,725.00 L616.73,726.40 L617.88,727.81 L619.03,729.23 L620.18,730.65 L621.34,732.08 L622.49,733.50 L623.64,734.93 L624.79,736.35 L625.94,737.76 L627.09,739.17 L628.25,740.56 L629.40,741.93 L630.55,743.29 L631.70,744.63 L632.85,745.95 L634.00,747.26 L635.15,748.55 L636.31,749.83 L637.46,751.10 L638.61,752.37 L639.76,753.62 L640.91,754.86 L642.06,756.09 L643.21,757.31 L644.37,758.52 L645.52,759.73 L646.67,760.93 L647.82,762.12 L648.97,763.30 L650.12,764.48 L651.28,765.65 L652.43,766.81 L653.58,767.96 L654.73,769.10 L655.88,770.23 L657.03,771.35 L658.18,772.46 L659.34,773.55 L660.49,774.62 L661.64,775.68 L662.79,776.73 L663.94,777.75 L665.09,778.76 L666.24,779.75 L667.40,780.72 L668.55,781.67 L669.70,782.60 L670.85,783.51 L672.00,784.40 L673.15,785.27 L674.31,786.11 L675.46,786.93 L676.61,787.73 L677.76,788.50 L678.91,789.25 L680.06,789.98 L681.21,790.69 L682.37,791.37 L683.52,792.04 L684.67,792.69 L685.82,793.32 L686.97,793.94 L688.12,794.54 L689.27,795.13 L690.43,795.71 L691.58,796.28 L692.73,796.84 L693.88,797.39 L695.03,797.91 L696.18,798.43 L697.34,798.93 L698.49,799.41 L699.64,799.88 L700.79,800.33 L701.94,800.76 L703.09,801.18 L704.24,801.59 L705.40,801.98 L706.55,802.36 L707.70,802.72 L708.85,803.07 L710.00,803.41 L711.15,803.73 L712.30,804.05 L713.46,804.35 L714.61,804.64 L715.76,804.92 L716.91,805.20 L718.06,805.46 L719.21,805.71 L720.37,805.96 L721.52,806.20 L722.67,806.43 L723.82,806.65 L724.97,806.86 L726.12,807.06 L727.27,807.26 L728.43,807.45 L729.58,807.63 L730.73,807.80 L731.88,807.96 L733.03,808.12 L734.18,808.27 L735.33,808.41 L736.49,808.55 L737.64,808.68 L738.79,808.81 L739.94,808.93 L741.09,809.04 L742.24,809.15 L743.39,809.25 L744.55,809.35 L745.70,809.44 L746.85,809.53 L748.00,809.61 L749.15,809.69 L750.30,809.76 L751.46,809.83 L752.61,809.90 L753.76,809.96 L754.91,810.02 L756.06,810.08 L757.21,810.13 L758.36,810.18 L759.52,810.23 L760.67,810.27 L761.82,810.32 L762.97,810.36 L764.12,810.39 L765.27,810.43 L766.42,810.46 L767.58,810.49 L768.73,810.52 L769.88,810.55 L771.03,810.57 L772.18,810.60 L773.33,810.62 L774.49,810.64 L775.64,810.66 L776.79,810.68 L777.94,810.69 L779.09,810.71 L780.24,810.73 L781.39,810.74 L782.55,810.76 L783.70,810.77 L784.85,810.79 L786.00,810.80 L787.15,810.81 L788.30,810.83 L789.46,810.84 L790.61,810.86 L791.76,810.87 L792.91,810.89 L794.06,810.90 L795.21,810.92 L796.36,810.93 L797.52,810.95 L798.67,810.97 L799.82,810.98 L800.97,811.00 L802.12,811.02 L803.27,811.04 L804.42,811.05 L805.58,811.07 L806.73,811.09 L807.88,811.11 L809.03,811.13 L810.18,811.14 L811.33,811.16 L812.49,811.18 L813.64,811.20 L814.79,811.22 L815.94,811.24 L817.09,811.26 L818.24,811.28 L819.39,811.30 L820.55,811.32 L821.70,811.34 L822.85,811.35 L824.00,811.37" fill="none" stroke="#bf3984" stroke-width="4.15" stroke-linejoin="round" stroke-linecap="square"/>
<path d="M133.10,811.75 L134.25,811.75 L135.40,811.75 L136.55,811.75 L137.71,811.75 L138.86,811.75 L140.01,811.75 L141.16,811.75 L142.31,811.75 L143.46,811.75 L144.62,811.75 L145.77,811.75 L146.92,811.75 L148.07,811.75 L149.22,811.75 L150.37,811.75 L151.52,811.75 L152.68,811.75 L153.83,811.75 L154.98,811.75 L156.13,811.75 L157.28,811.75 L158.43,811.75 L159.58,811.75 L160.74,811.75 L161.89,811.75 L163.04,811.75 L164.19,811.75 L165.34,811.75 L166.49,811.75 L167.64,811.75 L168.80,811.75 L169.95,811.75 L171.10,811.75 L172.25,811.75 L173.40,811.74 L174.55,811.74 L175.71,811.74 L176.86,811.74 L178.01,811.74 L179.16,811.74 L180.31,811.74 L181.46,811.74 L182.61,811.74 L183.77,811.74 L184.92,811.74 L186.07,811.74 L187.22,811.74 L188.37,811.74 L189.52,811.74 L190.68,811.73 L191.83,811.73 L192.98,811.73 L194.13,811.73 L195.28,811.73 L196.43,811.73 L197.58,811.73 L198.74,811.73 L199.89,811.73 L201.04,811.73 L202.19,811.73 L203.34,811.73 L204.49,811.73 L205.64,811.73 L206.80,811.73 L207.95,811.73 L209.10,811.73 L210.25,811.73 L211.40,811.73 L212.55,811.73 L213.71,811.73 L214.86,811.73 L216.01,811.73 L217.16,811.73 L218.31,811.73 L219.46,811.72 L220.61,811.72 L221.77,811.72 L222.92,811.72 L224.07,811.72 L225.22,811.72 L226.37,811.72 L227.52,811.71 L228.67,811.71 L229.83,811.71 L230.98,811.71 L232.13,811.70 L233.28,811.70 L234.43,811.70 L235.58,811.69 L236.73,811.69 L237.89,811.68 L239.04,811.68 L240.19,811.68 L241.34,811.67 L242.49,811.66 L243.64,811.66 L244.80,811.65 L245.95,811.64 L247.10,811.64 L248.25,811.63 L249.40,811.62 L250.55,811.61 L251.70,811.60 L252.86,811.58 L254.01,811.57 L255.16,811.56 L256.31,811.54 L257.46,811.53 L258.61,811.51 L259.76,811.49 L260.92,811.47 L262.07,811.45 L263.22,811.43 L264.37,811.40 L265.52,811.37 L266.67,811.34 L267.83,811.31 L268.98,811.27 L270.13,811.24 L271.28,811.20 L272.43,811.16 L273.58,811.11 L274.73,811.07 L275.89,811.02 L277.04,810.97 L278.19,810.92 L279.34,810.87 L280.49,810.81 L281.64,810.75 L282.80,810.68 L283.95,810.62 L285.10,810.54 L286.25,810.47 L287.40,810.39 L288.55,810.30 L289.70,810.22 L290.86,810.13 L292.01,810.03 L293.16,809.93 L294.31,809.83 L295.46,809.72 L296.61,809.61 L297.76,809.49 L298.92,809.37 L300.07,809.24 L301.22,809.10 L302.37,808.95 L303.52,808.80 L304.67,808.64 L305.82,808.48 L306.98,808.31 L308.13,808.14 L309.28,807.96 L310.43,807.78 L311.58,807.58 L312.73,807.38 L313.89,807.18 L315.04,806.97 L316.19,806.75 L317.34,806.53 L318.49,806.31 L319.64,806.08 L320.79,805.85 L321.95,805.61 L323.10,805.37 L324.25,805.13 L325.40,804.88 L326.55,804.63 L327.70,804.37 L328.86,804.11 L330.01,803.84 L331.16,803.57 L332.31,803.30 L333.46,803.01 L334.61,802.73 L335.76,802.44 L336.92,802.14 L338.07,801.84 L339.22,801.53 L340.37,801.22 L341.52,800.90 L342.67,800.57 L343.82,800.24 L344.98,799.91 L346.13,799.57 L347.28,799.23 L348.43,798.88 L349.58,798.53 L350.73,798.17 L351.88,797.81 L353.04,797.45 L354.19,797.08 L355.34,796.70 L356.49,796.32 L357.64,795.93 L358.79,795.54 L359.95,795.15 L361.10,794.76 L362.25,794.36 L363.40,793.97 L364.55,793.59 L365.70,793.20 L366.85,792.82 L368.01,792.44 L369.16,792.07 L370.31,791.70 L371.46,791.34 L372.61,790.98 L373.76,790.63 L374.92,790.29 L376.07,789.95 L377.22,789.63 L378.37,789.32 L379.52,789.02 L380.67,788.73 L381.82,788.45 L382.98,788.19 L384.13,787.93 L385.28,787.69 L386.43,787.47 L387.58,787.26 L388.73,787.06 L389.88,786.88 L391.04,786.71 L392.19,786.56 L393.34,786.43 L394.49,786.31 L395.64,786.21 L396.79,786.13 L397.95,786.06 L399.10,786.01 L400.25,785.98 L401.40,785.96 L402.55,785.96 L403.70,785.98 L404.85,786.02 L406.01,786.07 L407.16,786.13 L408.31,786.22 L409.46,786.32 L410.61,786.43 L411.76,786.56 L412.91,786.71 L414.07,786.88 L415.22,787.06 L416.37,787.26 L417.52,787.47 L418.67,787.70 L419.82,787.95 L420.98,788.21 L422.13,788.49 L423.28,788.78 L424.43,789.09 L425.58,789.41 L426.73,789.74 L427.88,790.09 L429.04,790.45 L430.19,790.82 L431.34,791.20 L432.49,791.60 L433.64,792.01 L434.79,792.43 L435.94,792.86 L437.10,793.30 L438.25,793.76 L439.40,794.23 L440.55,794.70 L441.70,795.19 L442.85,795.68 L444.01,796.18 L445.16,796.68 L446.31,797.19 L447.46,797.69 L448.61,798.19 L449.76,798.69 L450.91,799.18 L452.07,799.67 L453.22,800.15 L454.37,800.62 L455.52,801.09 L456.67,801.55 L457.82,802.01 L458.97,802.46 L460.13,802.90 L461.28,803.32 L462.43,803.72 L463.58,804.10 L464.73,804.46 L465.88,804.80 L467.04,805.10 L468.19,805.38 L469.34,805.64 L470.49,805.87 L471.64,806.07 L472.79,806.25 L473.94,806.39 L475.10,806.51 L476.25,806.59 L477.40,806.65 L478.55,806.67 L479.70,806.67 L480.85,806.63 L482.00,806.56 L483.16,806.47 L484.31,806.35 L485.46,806.20 L486.61,806.02 L487.76,805.81 L488.91,805.58 L490.06,805.32 L491.22,805.04 L492.37,804.73 L493.52,804.39 L494.67,804.03 L495.82,803.66 L496.97,803.25 L498.13,802.83 L499.28,802.39 L500.43,801.93 L501.58,801.46 L502.73,800.97 L503.88,800.46 L505.03,799.95 L506.19,799.42 L507.34,798.89 L508.49,798.36 L509.64,797.82 L510.79,797.28 L511.94,796.75 L513.10,796.22 L514.25,795.71 L515.40,795.20 L516.55,794.70 L517.70,794.21 L518.85,793.73 L520.00,793.26 L521.16,792.80 L522.31,792.36 L523.46,791.93 L524.61,791.51 L525.76,791.11 L526.91,790.72 L528.06,790.35 L529.22,789.99 L530.37,789.64 L531.52,789.32 L532.67,789.01 L533.82,788.71 L534.97,788.43 L536.12,788.17 L537.28,787.92 L538.43,787.70 L539.58,787.48 L540.73,787.29 L541.88,787.11 L543.03,786.94 L544.19,786.80 L545.34,786.67 L546.49,786.55 L547.64,786.45 L548.79,786.37 L549.94,786.31 L551.09,786.25 L552.25,786.22 L553.40,786.20 L554.55,786.19 L555.70,786.20 L556.85,786.22 L558.00,786.26 L559.15,786.31 L560.31,786.37 L561.46,786.45 L562.61,786.55 L563.76,786.65 L564.91,786.77 L566.06,786.91 L567.22,787.06 L568.37,787.22 L569.52,787.39 L570.67,787.57 L571.82,787.77 L572.97,787.98 L574.12,788.20 L575.28,788.43 L576.43,788.68 L577.58,788.93 L578.73,789.20 L579.88,789.48 L581.03,789.76 L582.18,790.06 L583.34,790.36 L584.49,790.68 L585.64,791.00 L586.79,791.33 L587.94,791.67 L589.09,792.01 L590.25,792.37 L591.40,792.73 L592.55,793.09 L593.70,793.46 L594.85,793.85 L596.00,794.23 L597.15,794.63 L598.31,795.02 L599.46,795.42 L600.61,795.83 L601.76,796.23 L602.91,796.63 L604.06,797.02 L605.21,797.42 L606.37,797.81 L607.52,798.19 L608.67,798.58 L609.82,798.95 L610.97,799.33 L612.12,799.70 L613.28,800.06 L614.43,800.42 L615.58,800.78 L616.73,801.13 L617.88,801.48 L619.03,801.82 L620.18,802.16 L621.34,802.49 L622.49,802.82 L623.64,803.14 L624.79,803.46 L625.94,803.77 L627.09,804.07 L628.25,804.36 L629.40,804.64 L630.55,804.92 L631.70,805.18 L632.85,805.44 L634.00,805.68 L635.15,805.93 L636.31,806.16 L637.46,806.39 L638.61,806.61 L639.76,806.82 L640.91,807.03 L642.06,807.23 L643.21,807.43 L644.37,807.62 L645.52,807.80 L646.67,807.98 L647.82,808.16 L648.97,808.33 L650.12,808.49 L651.28,808.65 L652.43,808.81 L653.58,808.95 L654.73,809.10 L655.88,809.24 L657.03,809.37 L658.18,809.50 L659.34,809.62 L660.49,809.74 L661.64,809.85 L662.79,809.96 L663.94,810.06 L665.09,810.16 L666.24,810.26 L667.40,810.35 L668.55,810.43 L669.70,810.51 L670.85,810.59 L672.00,810.66 L673.15,810.73 L674.31,810.79 L675.46,810.85 L676.61,810.91 L677.76,810.96 L678.91,811.01 L680.06,811.06 L681.21,811.10 L682.37,811.14 L683.52,811.18 L684.67,811.22 L685.82,811.25 L686.97,811.29 L688.12,811.32 L689.27,811.35 L690.43,811.38 L691.58,811.40 L692.73,811.43 L693.88,811.45 L695.03,811.47 L696.18,811.49 L697.34,811.51 L698.49,811.53 L699.64,811.54 L700.79,811.56 L701.94,811.57 L703.09,811.59 L704.24,811.60 L705.40,811.61 L706.55,811.62 L707.70,811.63 L708.85,811.64 L710.00,811.65 L711.15,811.66 L712.30,811.66 L713.46,811.67 L714.61,811.68 L715.76,811.68 L716.91,811.69 L718.06,811.69 L719.21,811.70 L720.37,811.70 L721.52,811.71 L722.67,811.71 L723.82,811.71 L724.97,811.72 L726.12,811.72 L727.27,811.72 L728.43,811.72 L729.58,811.73 L730.73,811.73 L731.88,811.73 L733.03,811.73 L734.18,811.73 L735.33,811.73 L736.49,811.74 L737.64,811.74 L738.79,811.74 L739.94,811.74 L741.09,811.74 L742.24,811.74 L743.39,811.74 L744.55,811.74 L745.70,811.74 L746.85,811.74 L748.00,811.74 L749.15,811.74 L750.30,811.74 L751.46,811.74 L752.61,811.75 L753.76,811.75 L754.91,811.75 L756.06,811.75 L757.21,811.75 L758.36,811.75 L759.52,811.75 L760.67,811.75 L761.82,811.75 L762.97,811.75 L764.12,811.75 L765.27,811.75 L766.42,811.75 L767.58,811.75 L768.73,811.75 L769.88,811.75 L771.03,811.75 L772.18,811.75 L773.33,811.75 L774.49,811.75 L775.64,811.75 L776.79,811.75 L777.94,811.75 L779.09,811.75 L780.24,811.75 L781.39,811.75 L782.55,811.75 L783.70,811.75 L784.85,811.75 L786.00,811.75 L787.15,811.75 L788.30,811.75 L789.46,811.75 L790.61,811.75 L791.76,811.75 L792.91,811.75 L794.06,811.75 L795.21,811.75 L796.36,811.75 L797.52,811.75 L798.67,811.75 L799.82,811.75 L800.97,811.75 L802.12,811.75 L803.27,811.75 L804.42,811.75 L805.58,811.75 L806.73,811.75 L807.88,811.75 L809.03,811.75 L810.18,811.75 L811.33,811.75 L812.49,811.75 L813.64,811.75 L814.79,811.75 L815.94,811.75 L817.09,811.75 L818.24,811.75 L819.39,811.75 L820.55,811.75 L821.70,811.75 L822.85,811.75 L824.00,811.75" fill="none" stroke="#bf3984" stroke-width="4.15" stroke-linejoin="round" stroke-dasharray="26.56 6.64 4.15 6.64"/>
<path d="M133.10,811.75 L134.25,811.75 L135.40,811.75 L136.55,811.75 L137.71,811.75 L138.86,811.75 L140.01,811.75 L141.16,811.75 L142.31,811.75 L143.46,811.75 L144.62,811.75 L145.77,811.75 L146.92,811.75 L148.07,811.75 L149.22,811.75 L150.37,811.75 L151.52,811.75 L152.68,811.75 L153.83,811.75 L154.98,811.75 L156.13,811.75 L157.28,811.75 L158.43,811.75 L159.58,811.75 L160.74,811.75 L161.89,811.75 L163.04,811.75 L164.19,811.75 L165.34,811.75 L166.49,811.75 L167.64,811.75 L168.80,811.75 L169.95,811.75 L171.10,811.75 L172.25,811.75 L173.40,811.75 L174.55,811.75 L175.71,811.75 L176.86,811.75 L178.01,811.75 L179.16,811.75 L180.31,811.75 L181.46,811.75 L182.61,811.75 L183.77,811.75 L184.92,811.75 L186.07,811.75 L187.22,811.75 L188.37,811.75 L189.52,811.75 L190.68,811.75 L191.83,811.75 L192.98,811.75 L194.13,811.75 L195.28,811.75 L196.43,811.75 L197.58,811.75 L198.74,811.75 L199.89,811.75 L201.04,811.75 L202.19,811.75 L203.34,811.75 L204.49,811.75 L205.64,811.75 L206.80,811.75 L207.95,811.75 L209.10,811.75 L210.25,811.75 L211.40,811.75 L212.55,811.75 L213.71,811.75 L214.86,811.75 L216.01,811.75 L217.16,811.75 L218.31,811.75 L219.46,811.75 L220.61,811.75 L221.77,811.75 L222.92,811.75 L224.07,811.75 L225.22,811.75 L226.37,811.75 L227.52,811.75 L228.67,811.75 L229.83,811.75 L230.98,811.75 L232.13,811.75 L233.28,811.75 L234.43,811.75 L235.58,811.75 L236.73,811.75 L237.89,811.75 L239.04,811.75 L240.19,811.75 L241.34,811.75 L242.49,811.75 L243.64,811.75 L244.80,811.75 L245.95,811.75 L247.10,811.75 L248.25,811.75 L249.40,811.75 L250.55,811.75 L251.70,811.75 L252.86,811.75 L254.01,811.75 L255.16,811.75 L256.31,811.75 L257.46,811.75 L258.61,811.75 L259.76,811.75 L260.92,811.75 L262.07,811.75 L263.22,811.75 L264.37,811.74 L265.52,811.74 L266.67,811.74 L267.83,811.74 L268.98,811.74 L270.13,811.74 L271.28,811.74 L272.43,811.74 L273.58,811.74 L274.73,811.74 L275.89,811.73 L277.04,811.73 L278.19,811.73 L279.34,811.73 L280.49,811.73 L281.64,811.72 L282.80,811.72 L283.95,811.72 L285.10,811.72 L286.25,811.71 L287.40,811.71 L288.55,811.71 L289.70,811.70 L290.86,811.70 L292.01,811.69 L293.16,811.69 L294.31,811.68 L295.46,811.68 L296.61,811.67 L297.76,811.66 L298.92,811.66 L300.07,811.65 L301.22,811.64 L302.37,811.63 L303.52,811.62 L304.67,811.61 L305.82,811.60 L306.98,811.59 L308.13,811.57 L309.28,811.56 L310.43,811.55 L311.58,811.53 L312.73,811.52 L313.89,811.50 L315.04,811.48 L316.19,811.46 L317.34,811.44 L318.49,811.42 L319.64,811.40 L320.79,811.38 L321.95,811.36 L323.10,811.34 L324.25,811.31 L325.40,811.29 L326.55,811.26 L327.70,811.23 L328.86,811.21 L330.01,811.18 L331.16,811.15 L332.31,811.12 L333.46,811.09 L334.61,811.05 L335.76,811.02 L336.92,810.98 L338.07,810.95 L339.22,810.91 L340.37,810.87 L341.52,810.83 L342.67,810.79 L343.82,810.75 L344.98,810.70 L346.13,810.66 L347.28,810.61 L348.43,810.56 L349.58,810.51 L350.73,810.46 L351.88,810.41 L353.04,810.36 L354.19,810.30 L355.34,810.25 L356.49,810.19 L357.64,810.13 L358.79,810.07 L359.95,810.01 L361.10,809.95 L362.25,809.89 L363.40,809.82 L364.55,809.76 L365.70,809.70 L366.85,809.63 L368.01,809.57 L369.16,809.51 L370.31,809.44 L371.46,809.38 L372.61,809.32 L373.76,809.25 L374.92,809.19 L376.07,809.13 L377.22,809.08 L378.37,809.02 L379.52,808.96 L380.67,808.91 L381.82,808.86 L382.98,808.81 L384.13,808.76 L385.28,808.72 L386.43,808.67 L387.58,808.63 L388.73,808.60 L389.88,808.56 L391.04,808.53 L392.19,808.50 L393.34,808.47 L394.49,808.45 L395.64,808.43 L396.79,808.42 L397.95,808.40 L399.10,808.39 L400.25,808.39 L401.40,808.38 L402.55,808.38 L403.70,808.39 L404.85,808.39 L406.01,808.40 L407.16,808.42 L408.31,808.43 L409.46,808.45 L410.61,808.47 L411.76,808.50 L412.91,808.53 L414.07,808.56 L415.22,808.60 L416.37,808.63 L417.52,808.67 L418.67,808.72 L419.82,808.76 L420.98,808.81 L422.13,808.87 L423.28,808.92 L424.43,808.98 L425.58,809.03 L426.73,809.10 L427.88,809.16 L429.04,809.22 L430.19,809.29 L431.34,809.36 L432.49,809.42 L433.64,809.49 L434.79,809.57 L435.94,809.64 L437.10,809.71 L438.25,809.79 L439.40,809.86 L440.55,809.94 L441.70,810.02 L442.85,810.09 L444.01,810.17 L445.16,810.25 L446.31,810.32 L447.46,810.39 L448.61,810.47 L449.76,810.54 L450.91,810.60 L452.07,810.67 L453.22,810.73 L454.37,810.80 L455.52,810.85 L456.67,810.91 L457.82,810.97 L458.97,811.02 L460.13,811.07 L461.28,811.12 L462.43,811.17 L463.58,811.21 L464.73,811.24 L465.88,811.28 L467.04,811.31 L468.19,811.34 L469.34,811.36 L470.49,811.38 L471.64,811.40 L472.79,811.42 L473.94,811.43 L475.10,811.44 L476.25,811.45 L477.40,811.45 L478.55,811.46 L479.70,811.46 L480.85,811.45 L482.00,811.45 L483.16,811.44 L484.31,811.43 L485.46,811.41 L486.61,811.40 L487.76,811.38 L488.91,811.36 L490.06,811.33 L491.22,811.30 L492.37,811.27 L493.52,811.24 L494.67,811.20 L495.82,811.16 L496.97,811.11 L498.13,811.07 L499.28,811.01 L500.43,810.96 L501.58,810.90 L502.73,810.84 L503.88,810.78 L505.03,810.71 L506.19,810.64 L507.34,810.56 L508.49,810.49 L509.64,810.41 L510.79,810.33 L511.94,810.26 L513.10,810.18 L514.25,810.10 L515.40,810.02 L516.55,809.94 L517.70,809.86 L518.85,809.78 L520.00,809.71 L521.16,809.63 L522.31,809.55 L523.46,809.48 L524.61,809.41 L525.76,809.34 L526.91,809.27 L528.06,809.20 L529.22,809.14 L530.37,809.08 L531.52,809.02 L532.67,808.96 L533.82,808.91 L534.97,808.85 L536.12,808.81 L537.28,808.76 L538.43,808.72 L539.58,808.68 L540.73,808.64 L541.88,808.60 L543.03,808.57 L544.19,808.55 L545.34,808.52 L546.49,808.50 L547.64,808.48 L548.79,808.46 L549.94,808.45 L551.09,808.44 L552.25,808.43 L553.40,808.43 L554.55,808.43 L555.70,808.43 L556.85,808.43 L558.00,808.44 L559.15,808.45 L560.31,808.46 L561.46,808.48 L562.61,808.50 L563.76,808.52 L564.91,808.54 L566.06,808.57 L567.22,808.59 L568.37,808.63 L569.52,808.66 L570.67,808.69 L571.82,808.73 L572.97,808.77 L574.12,808.81 L575.28,808.86 L576.43,808.90 L577.58,808.95 L578.73,809.00 L579.88,809.05 L581.03,809.10 L582.18,809.15 L583.34,809.21 L584.49,809.26 L585.64,809.32 L586.79,809.38 L587.94,809.44 L589.09,809.50 L590.25,809.56 L591.40,809.62 L592.55,809.68 L593.70,809.74 L594.85,809.80 L596.00,809.86 L597.15,809.93 L598.31,809.99 L599.46,810.05 L600.61,810.12 L601.76,810.18 L602.91,810.24 L604.06,810.30 L605.21,810.36 L606.37,810.41 L607.52,810.47 L608.67,810.52 L609.82,810.57 L610.97,810.62 L612.12,810.67 L613.28,810.72 L614.43,810.77 L615.58,810.82 L616.73,810.86 L617.88,810.90 L619.03,810.95 L620.18,810.99 L621.34,811.03 L622.49,811.06 L623.64,811.10 L624.79,811.14 L625.94,811.17 L627.09,811.20 L628.25,811.23 L629.40,811.26 L630.55,811.29 L631.70,811.32 L632.85,811.34 L634.00,811.37 L635.15,811.39 L636.31,811.41 L637.46,811.43 L638.61,811.45 L639.76,811.47 L640.91,811.49 L642.06,811.50 L643.21,811.52 L644.37,811.53 L645.52,811.55 L646.67,811.56 L647.82,811.57 L648.97,811.59 L650.12,811.60 L651.28,811.61 L652.43,811.62 L653.58,811.63 L654.73,811.64 L655.88,811.65 L657.03,811.66 L658.18,811.66 L659.34,811.67 L660.49,811.68 L661.64,811.68 L662.79,811.69 L663.94,811.69 L665.09,811.70 L666.24,811.70 L667.40,811.71 L668.55,811.71 L669.70,811.71 L670.85,811.72 L672.00,811.72 L673.15,811.72 L674.31,811.73 L675.46,811.73 L676.61,811.73 L677.76,811.73 L678.91,811.73 L680.06,811.74 L681.21,811.74 L682.37,811.74 L683.52,811.74 L684.67,811.74 L685.82,811.74 L686.97,811.74 L688.12,811.74 L689.27,811.74 L690.43,811.74 L691.58,811.74 L692.73,811.75 L693.88,811.75 L695.03,811.75 L696.18,811.75 L697.34,811.75 L698.49,811.75 L699.64,811.75 L700.79,811.75 L701.94,811.75 L703.09,811.75 L704.24,811.75 L705.40,811.75 L706.55,811.75 L707.70,811.75 L708.85,811.75 L710.00,811.75 L711.15,811.75 L712.30,811.75 L713.46,811.75 L714.61,811.75 L715.76,811.75 L716.91,811.75 L718.06,811.75 L719.21,811.75 L720.37,811.75 L721.52,811.75 L722.67,811.75 L723.82,811.75 L724.97,811.75 L726.12,811.75 L727.27,811.75 L728.43,811.75 L729.58,811.75 L730.73,811.75 L731.88,811.75 L733.03,811.75 L734.18,811.75 L735.33,811.75 L736.49,811.75 L737.64,811.75 L738.79,811.75 L739.94,811.75 L741.09,811.75 L742.24,811.75 L743.39,811.75 L744.55,811.75 L745.70,811.75 L746.85,811.75 L748.00,811.75 L749.15,811.75 L750.30,811.75 L751.46,811.75 L752.61,811.75 L753.76,811.75 L754.91,811.75 L756.06,811.75 L757.21,811.75 L758.36,811.75 L759.52,811.75 L760.67,811.75 L761.82,811.75 L762.97,811.75 L764.12,811.75 L765.27,811.75 L766.42,811.75 L767.58,811.75 L768.73,811.75 L769.88,811.75 L771.03,811.75 L772.18,811.75 L773.33,811.75 L774.49,811.75 L775.64,811.75 L776.79,811.75 L777.94,811.75 L779.09,811.75 L780.24,811.75 L781.39,811.75 L782.55,811.75 L783.70,811.75 L784.85,811.75 L786.00,811.75 L787.15,811.75 L788.30,811.75 L789.46,811.75 L790.61,811.75 L791.76,811.75 L792.91,811.75 L794.06,811.75 L795.21,811.75 L796.36,811.75 L797.52,811.75 L798.67,811.75 L799.82,811.75 L800.97,811.75 L802.12,811.75 L803.27,811.75 L804.42,811.75 L805.58,811.75 L806.73,811.75 L807.88,811.75 L809.03,811.75 L810.18,811.75 L811.33,811.75 L812.49,811.75 L813.64,811.75 L814.79,811.75 L815.94,811.75 L817.09,811.75 L818.24,811.75 L819.39,811.75 L820.55,811.75 L821.70,811.75 L822.85,811.75 L824.00,811.75" fill="none" stroke="#bf3984" stroke-width="4.15" stroke-linejoin="round" stroke-dasharray="4.15 6.85"/>
<path d="M133.10,438.02 L134.25,438.02 L135.40,438.02 L136.55,438.02 L137.71,438.02 L138.86,438.02 L140.01,438.02 L141.16,438.02 L142.31,438.02 L143.46,438.03 L144.62,438.03 L145.77,438.03 L146.92,438.03 L148.07,438.03 L149.22,438.03 L150.37,438.03 L151.52,438.03 L152.68,438.03 L153.83,438.03 L154.98,438.04 L156.13,438.04 L157.28,438.04 L158.43,438.04 L159.58,438.04 L160.74,438.04 L161.89,438.04 L163.04,438.04 L164.19,438.04 L165.34,438.05 L166.49,438.05 L167.64,438.05 L168.80,438.05 L169.95,438.05 L171.10,438.05 L172.25,438.06 L173.40,438.06 L174.55,438.06 L175.71,438.06 L176.86,438.07 L178.01,438.07 L179.16,438.07 L180.31,438.08 L181.46,438.08 L182.61,438.09 L183.77,438.09 L184.92,438.10 L186.07,438.10 L187.22,438.11 L188.37,438.11 L189.52,438.12 L190.68,438.12 L191.83,438.13 L192.98,438.14 L194.13,438.14 L195.28,438.15 L196.43,438.16 L197.58,438.17 L198.74,438.18 L199.89,438.18 L201.04,438.20 L202.19,438.21 L203.34,438.22 L204.49,438.23 L205.64,438.24 L206.80,438.26 L207.95,438.27 L209.10,438.29 L210.25,438.30 L211.40,438.32 L212.55,438.34 L213.71,438.36 L214.86,438.38 L216.01,438.41 L217.16,438.43 L218.31,438.46 L219.46,438.49 L220.61,438.52 L221.77,438.55 L222.92,438.58 L224.07,438.61 L225.22,438.65 L226.37,438.68 L227.52,438.72 L228.67,438.76 L229.83,438.81 L230.98,438.85 L232.13,438.90 L233.28,438.95 L234.43,439.00 L235.58,439.05 L236.73,439.10 L237.89,439.15 L239.04,439.21 L240.19,439.26 L241.34,439.31 L242.49,439.37 L243.64,439.43 L244.80,439.49 L245.95,439.55 L247.10,439.62 L248.25,439.69 L249.40,439.77 L250.55,439.85 L251.70,439.93 L252.86,440.02 L254.01,440.11 L255.16,440.20 L256.31,440.30 L257.46,440.39 L258.61,440.49 L259.76,440.59 L260.92,440.69 L262.07,440.80 L263.22,440.91 L264.37,441.02 L265.52,441.15 L266.67,441.28 L267.83,441.42 L268.98,441.56 L270.13,441.71 L271.28,441.86 L272.43,442.02 L273.58,442.17 L274.73,442.33 L275.89,442.50 L277.04,442.67 L278.19,442.85 L279.34,443.04 L280.49,443.24 L281.64,443.45 L282.80,443.68 L283.95,443.91 L285.10,444.15 L286.25,444.40 L287.40,444.65 L288.55,444.90 L289.70,445.15 L290.86,445.41 L292.01,445.67 L293.16,445.93 L294.31,446.21 L295.46,446.49 L296.61,446.79 L297.76,447.10 L298.92,447.42 L300.07,447.74 L301.22,448.07 L302.37,448.40 L303.52,448.74 L304.67,449.08 L305.82,449.42 L306.98,449.76 L308.13,450.10 L309.28,450.45 L310.43,450.81 L311.58,451.17 L312.73,451.54 L313.89,451.92 L315.04,452.31 L316.19,452.70 L317.34,453.09 L318.49,453.49 L319.64,453.88 L320.79,454.28 L321.95,454.68 L323.10,455.08 L324.25,455.48 L325.40,455.89 L326.55,456.29 L327.70,456.71 L328.86,457.12 L330.01,457.54 L331.16,457.97 L332.31,458.40 L333.46,458.82 L334.61,459.26 L335.76,459.69 L336.92,460.13 L338.07,460.57 L339.22,461.01 L340.37,461.45 L341.52,461.89 L342.67,462.32 L343.82,462.75 L344.98,463.19 L346.13,463.62 L347.28,464.05 L348.43,464.48 L349.58,464.91 L350.73,465.33 L351.88,465.76 L353.04,466.19 L354.19,466.62 L355.34,467.04 L356.49,467.45 L357.64,467.85 L358.79,468.25 L359.95,468.63 L361.10,469.00 L362.25,469.36 L363.40,469.70 L364.55,470.03 L365.70,470.35 L366.85,470.65 L368.01,470.95 L369.16,471.23 L370.31,471.49 L371.46,471.74 L372.61,471.97 L373.76,472.17 L374.92,472.36 L376.07,472.51 L377.22,472.64 L378.37,472.74 L379.52,472.82 L380.67,472.88 L381.82,472.92 L382.98,472.94 L384.13,472.94 L385.28,472.93 L386.43,472.90 L387.58,472.86 L388.73,472.80 L389.88,472.73 L391.04,472.64 L392.19,472.54 L393.34,472.42 L394.49,472.29 L395.64,472.14 L396.79,471.97 L397.95,471.79 L399.10,471.59 L400.25,471.38 L401.40,471.15 L402.55,470.91 L403.70,470.64 L404.85,470.37 L406.01,470.07 L407.16,469.76 L408.31,469.42 L409.46,469.06 L410.61,468.67 L411.76,468.27 L412.91,467.84 L414.07,467.39 L415.22,466.93 L416.37,466.45 L417.52,465.96 L418.67,465.46 L419.82,464.94 L420.98,464.42 L422.13,463.90 L423.28,463.36 L424.43,462.82 L425.58,462.27 L426.73,461.72 L427.88,461.15 L429.04,460.58 L430.19,460.00 L431.34,459.42 L432.49,458.83 L433.64,458.24 L434.79,457.65 L435.94,457.05 L437.10,456.45 L438.25,455.86 L439.40,455.26 L440.55,454.67 L441.70,454.08 L442.85,453.50 L444.01,452.93 L445.16,452.36 L446.31,451.80 L447.46,451.26 L448.61,450.72 L449.76,450.20 L450.91,449.68 L452.07,449.18 L453.22,448.68 L454.37,448.19 L455.52,447.71 L456.67,447.24 L457.82,446.78 L458.97,446.33 L460.13,445.90 L461.28,445.48 L462.43,445.08 L463.58,444.71 L464.73,444.36 L465.88,444.03 L467.04,443.73 L468.19,443.45 L469.34,443.20 L470.49,442.98 L471.64,442.78 L472.79,442.61 L473.94,442.47 L475.10,442.36 L476.25,442.28 L477.40,442.22 L478.55,442.21 L479.70,442.22 L480.85,442.28 L482.00,442.36 L483.16,442.47 L484.31,442.61 L485.46,442.78 L486.61,442.98 L487.76,443.20 L488.91,443.45 L490.06,443.73 L491.22,444.03 L492.37,444.36 L493.52,444.71 L494.67,445.08 L495.82,445.48 L496.97,445.90 L498.13,446.33 L499.28,446.78 L500.43,447.24 L501.58,447.71 L502.73,448.19 L503.88,448.68 L505.03,449.18 L506.19,449.68 L507.34,450.20 L508.49,450.72 L509.64,451.26 L510.79,451.80 L511.94,452.36 L513.10,452.92 L514.25,453.50 L515.40,454.08 L516.55,454.67 L517.70,455.26 L518.85,455.86 L520.00,456.45 L521.16,457.05 L522.31,457.65 L523.46,458.24 L524.61,458.83 L525.76,459.42 L526.91,460.00 L528.06,460.58 L529.22,461.15 L530.37,461.72 L531.52,462.27 L532.67,462.82 L533.82,463.36 L534.97,463.89 L536.12,464.42 L537.28,464.94 L538.43,465.46 L539.58,465.96 L540.73,466.45 L541.88,466.93 L543.03,467.39 L544.19,467.84 L545.34,468.27 L546.49,468.67 L547.64,469.06 L548.79,469.42 L549.94,469.76 L551.09,470.07 L552.25,470.37 L553.40,470.64 L554.55,470.91 L555.70,471.15 L556.85,471.38 L558.00,471.59 L559.15,471.79 L560.31,471.97 L561.46,472.14 L562.61,472.29 L563.76,472.42 L564.91,472.54 L566.06,472.64 L567.22,472.73 L568.37,472.80 L569.52,472.86 L570.67,472.90 L571.82,472.93 L572.97,472.94 L574.12,472.94 L575.28,472.92 L576.43,472.88 L577.58,472.82 L578.73,472.74 L579.88,472.64 L581.03,472.51 L582.18,472.36 L583.34,472.17 L584.49,471.97 L585.64,471.74 L586.79,471.49 L587.94,471.23 L589.09,470.95 L590.25,470.66 L591.40,470.35 L592.55,470.03 L593.70,469.70 L594.85,469.36 L596.00,469.00 L597.15,468.63 L598.31,468.25 L599.46,467.86 L600.61,467.45 L601.76,467.04 L602.91,466.62 L604.06,466.19 L605.21,465.76 L606.37,465.33 L607.52,464.91 L608.67,464.48 L609.82,464.05 L610.97,463.62 L612.12,463.19 L613.28,462.75 L614.43,462.32 L615.58,461.89 L616.73,461.45 L617.88,461.01 L619.03,460.57 L620.18,460.13 L621.34,459.69 L622.49,459.26 L623.64,458.83 L624.79,458.40 L625.94,457.97 L627.09,457.55 L628.25,457.12 L629.40,456.71 L630.55,456.30 L631.70,455.89 L632.85,455.48 L634.00,455.08 L635.15,454.68 L636.31,454.28 L637.46,453.88 L638.61,453.49 L639.76,453.09 L640.91,452.70 L642.06,452.31 L643.21,451.92 L644.37,451.54 L645.52,451.17 L646.67,450.81 L647.82,450.45 L648.97,450.10 L650.12,449.76 L651.28,449.42 L652.43,449.08 L653.58,448.74 L654.73,448.40 L655.88,448.07 L657.03,447.74 L658.18,447.42 L659.34,447.10 L660.49,446.79 L661.64,446.49 L662.79,446.21 L663.94,445.93 L665.09,445.67 L666.24,445.41 L667.40,445.15 L668.55,444.90 L669.70,444.65 L670.85,444.40 L672.00,444.15 L673.15,443.91 L674.31,443.68 L675.46,443.45 L676.61,443.24 L677.76,443.04 L678.91,442.85 L680.06,442.67 L681.21,442.50 L682.37,442.33 L683.52,442.17 L684.67,442.02 L685.82,441.86 L686.97,441.71 L688.12,441.56 L689.27,441.42 L690.43,441.28 L691.58,441.15 L692.73,441.02 L693.88,440.91 L695.03,440.80 L696.18,440.69 L697.34,440.59 L698.49,440.49 L699.64,440.39 L700.79,440.30 L701.94,440.20 L703.09,440.11 L704.24,440.02 L705.40,439.93 L706.55,439.85 L707.70,439.77 L708.85,439.69 L710.00,439.62 L711.15,439.55 L712.30,439.49 L713.46,439.43 L714.61,439.37 L715.76,439.31 L716.91,439.26 L718.06,439.21 L719.21,439.15 L720.37,439.10 L721.52,439.05 L722.67,439.00 L723.82,438.95 L724.97,438.90 L726.12,438.85 L727.27,438.81 L728.43,438.76 L729.58,438.72 L730.73,438.68 L731.88,438.65 L733.03,438.61 L734.18,438.58 L735.33,438.55 L736.49,438.52 L737.64,438.49 L738.79,438.46 L739.94,438.43 L741.09,438.41 L742.24,438.38 L743.39,438.36 L744.55,438.34 L745.70,438.32 L746.85,438.30 L748.00,438.29 L749.15,438.27 L750.30,438.26 L751.46,438.24 L752.61,438.23 L753.76,438.22 L754.91,438.21 L756.06,438.20 L757.21,438.18 L758.36,438.18 L759.52,438.17 L760.67,438.16 L761.82,438.15 L762.97,438.14 L764.12,438.14 L765.27,438.13 L766.42,438.12 L767.58,438.12 L768.73,438.11 L769.88,438.11 L771.03,438.10 L772.18,438.10 L773.33,438.09 L774.49,438.09 L775.64,438.08 L776.79,438.08 L777.94,438.07 L779.09,438.07 L780.24,438.07 L781.39,438.06 L782.55,438.06 L783.70,438.06 L784.85,438.06 L786.00,438.05 L787.15,438.05 L788.30,438.05 L789.46,438.05 L790.61,438.05 L791.76,438.05 L792.91,438.04 L794.06,438.04 L795.21,438.04 L796.36,438.04 L797.52,438.04 L798.67,438.04 L799.82,438.04 L800.97,438.04 L802.12,438.04 L803.27,438.03 L804.42,438.03 L805.58,438.03 L806.73,438.03 L807.88,438.03 L809.03,438.03 L810.18,438.03 L811.33,438.03 L812.49,438.03 L813.64,438.03 L814.79,438.02 L815.94,438.02 L817.09,438.02 L818.24,438.02 L819.39,438.02 L820.55,438.02 L821.70,438.02 L822.85,438.02 L824.00,438.02" fill="none" stroke="#fcce25" stroke-width="4.15" stroke-linejoin="round" stroke-dasharray="15.36 6.64"/>
<path d="M133.10,809.32 L134.25,809.24 L135.40,809.17 L136.55,809.09 L137.71,809.02 L138.86,808.95 L140.01,808.88 L141.16,808.81 L142.31,808.74 L143.46,808.68 L144.62,808.62 L145.77,808.56 L146.92,808.50 L148.07,808.44 L149.22,808.39 L150.37,808.33 L151.52,808.28 L152.68,808.22 L153.83,808.17 L154.98,808.12 L156.13,808.06 L157.28,808.01 L158.43,807.96 L159.58,807.90 L160.74,807.85 L161.89,807.80 L163.04,807.74 L164.19,807.68 L165.34,807.62 L166.49,807.56 L167.64,807.49 L168.80,807.41 L169.95,807.33 L171.10,807.24 L172.25,807.15 L173.40,807.05 L174.55,806.94 L175.71,806.83 L176.86,806.71 L178.01,806.59 L179.16,806.46 L180.31,806.33 L181.46,806.19 L182.61,806.05 L183.77,805.91 L184.92,805.76 L186.07,805.61 L187.22,805.45 L188.37,805.29 L189.52,805.13 L190.68,804.96 L191.83,804.79 L192.98,804.61 L194.13,804.43 L195.28,804.25 L196.43,804.06 L197.58,803.86 L198.74,803.65 L199.89,803.44 L201.04,803.21 L202.19,802.98 L203.34,802.74 L204.49,802.49 L205.64,802.23 L206.80,801.96 L207.95,801.69 L209.10,801.40 L210.25,801.11 L211.40,800.80 L212.55,800.48 L213.71,800.14 L214.86,799.79 L216.01,799.42 L217.16,799.04 L218.31,798.66 L219.46,798.26 L220.61,797.86 L221.77,797.46 L222.92,797.05 L224.07,796.64 L225.22,796.21 L226.37,795.78 L227.52,795.33 L228.67,794.87 L229.83,794.39 L230.98,793.90 L232.13,793.41 L233.28,792.92 L234.43,792.43 L235.58,791.94 L236.73,791.46 L237.89,791.00 L239.04,790.55 L240.19,790.09 L241.34,789.64 L242.49,789.17 L243.64,788.69 L244.80,788.20 L245.95,787.70 L247.10,787.17 L248.25,786.63 L249.40,786.07 L250.55,785.50 L251.70,784.91 L252.86,784.32 L254.01,783.73 L255.16,783.13 L256.31,782.53 L257.46,781.93 L258.61,781.33 L259.76,780.73 L260.92,780.13 L262.07,779.52 L263.22,778.89 L264.37,778.25 L265.52,777.57 L266.67,776.86 L267.83,776.14 L268.98,775.40 L270.13,774.65 L271.28,773.90 L272.43,773.16 L273.58,772.43 L274.73,771.69 L275.89,770.94 L277.04,770.18 L278.19,769.40 L279.34,768.59 L280.49,767.74 L281.64,766.86 L282.80,765.96 L283.95,765.04 L285.10,764.11 L286.25,763.17 L287.40,762.25 L288.55,761.33 L289.70,760.43 L290.86,759.54 L292.01,758.65 L293.16,757.75 L294.31,756.84 L295.46,755.90 L296.61,754.95 L297.76,753.98 L298.92,753.01 L300.07,752.03 L301.22,751.04 L302.37,750.07 L303.52,749.10 L304.67,748.14 L305.82,747.19 L306.98,746.27 L308.13,745.34 L309.28,744.42 L310.43,743.48 L311.58,742.54 L312.73,741.60 L313.89,740.65 L315.04,739.70 L316.19,738.76 L317.34,737.82 L318.49,736.89 L319.64,735.96 L320.79,735.05 L321.95,734.15 L323.10,733.26 L324.25,732.38 L325.40,731.50 L326.55,730.62 L327.70,729.74 L328.86,728.87 L330.01,728.00 L331.16,727.13 L332.31,726.27 L333.46,725.41 L334.61,724.56 L335.76,723.71 L336.92,722.87 L338.07,722.03 L339.22,721.20 L340.37,720.38 L341.52,719.58 L342.67,718.78 L343.82,718.00 L344.98,717.23 L346.13,716.46 L347.28,715.71 L348.43,714.97 L349.58,714.23 L350.73,713.50 L351.88,712.78 L353.04,712.06 L354.19,711.35 L355.34,710.66 L356.49,709.99 L357.64,709.33 L358.79,708.70 L359.95,708.10 L361.10,707.51 L362.25,706.95 L363.40,706.42 L364.55,705.90 L365.70,705.41 L366.85,704.95 L368.01,704.50 L369.16,704.08 L370.31,703.68 L371.46,703.31 L372.61,702.97 L373.76,702.66 L374.92,702.39 L376.07,702.16 L377.22,701.97 L378.37,701.82 L379.52,701.70 L380.67,701.62 L381.82,701.56 L382.98,701.53 L384.13,701.53 L385.28,701.55 L386.43,701.59 L387.58,701.65 L388.73,701.74 L389.88,701.84 L391.04,701.97 L392.19,702.12 L393.34,702.30 L394.49,702.49 L395.64,702.72 L396.79,702.96 L397.95,703.23 L399.10,703.53 L400.25,703.85 L401.40,704.19 L402.55,704.56 L403.70,704.96 L404.85,705.39 L406.01,705.84 L407.16,706.33 L408.31,706.85 L409.46,707.42 L410.61,708.03 L411.76,708.67 L412.91,709.36 L414.07,710.08 L415.22,710.84 L416.37,711.62 L417.52,712.44 L418.67,713.29 L419.82,714.16 L420.98,715.06 L422.13,715.98 L423.28,716.92 L424.43,717.88 L425.58,718.87 L426.73,719.89 L427.88,720.94 L429.04,722.01 L430.19,723.11 L431.34,724.24 L432.49,725.40 L433.64,726.58 L434.79,727.79 L435.94,729.02 L437.10,730.28 L438.25,731.55 L439.40,732.85 L440.55,734.17 L441.70,735.51 L442.85,736.85 L444.01,738.21 L445.16,739.58 L446.31,740.95 L447.46,742.32 L448.61,743.69 L449.76,745.08 L450.91,746.47 L452.07,747.86 L453.22,749.27 L454.37,750.68 L455.52,752.11 L456.67,753.54 L457.82,754.99 L458.97,756.43 L460.13,757.87 L461.28,759.29 L462.43,760.68 L463.58,762.03 L464.73,763.33 L465.88,764.58 L467.04,765.75 L468.19,766.86 L469.34,767.89 L470.49,768.83 L471.64,769.68 L472.79,770.43 L473.94,771.06 L475.10,771.57 L476.25,771.95 L477.40,772.19 L478.55,772.27 L479.70,772.19 L480.85,771.95 L482.00,771.57 L483.16,771.06 L484.31,770.43 L485.46,769.68 L486.61,768.83 L487.76,767.89 L488.91,766.86 L490.06,765.76 L491.22,764.58 L492.37,763.33 L493.52,762.03 L494.67,760.68 L495.82,759.29 L496.97,757.87 L498.13,756.44 L499.28,754.99 L500.43,753.54 L501.58,752.11 L502.73,750.68 L503.88,749.27 L505.03,747.86 L506.19,746.47 L507.34,745.08 L508.49,743.70 L509.64,742.32 L510.79,740.95 L511.94,739.58 L513.10,738.21 L514.25,736.86 L515.40,735.51 L516.55,734.17 L517.70,732.85 L518.85,731.55 L520.00,730.28 L521.16,729.02 L522.31,727.79 L523.46,726.58 L524.61,725.40 L525.76,724.25 L526.91,723.11 L528.06,722.01 L529.22,720.94 L530.37,719.89 L531.52,718.87 L532.67,717.88 L533.82,716.92 L534.97,715.98 L536.12,715.06 L537.28,714.16 L538.43,713.29 L539.58,712.44 L540.73,711.63 L541.88,710.84 L543.03,710.08 L544.19,709.36 L545.34,708.67 L546.49,708.03 L547.64,707.42 L548.79,706.85 L549.94,706.33 L551.09,705.84 L552.25,705.39 L553.40,704.96 L554.55,704.57 L555.70,704.19 L556.85,703.85 L558.00,703.53 L559.15,703.23 L560.31,702.96 L561.46,702.72 L562.61,702.49 L563.76,702.30 L564.91,702.12 L566.06,701.97 L567.22,701.84 L568.37,701.74 L569.52,701.65 L570.67,701.59 L571.82,701.55 L572.97,701.53 L574.12,701.53 L575.28,701.56 L576.43,701.62 L577.58,701.70 L578.73,701.82 L579.88,701.97 L581.03,702.16 L582.18,702.39 L583.34,702.66 L584.49,702.97 L585.64,703.31 L586.79,703.68 L587.94,704.08 L589.09,704.50 L590.25,704.95 L591.40,705.41 L592.55,705.90 L593.70,706.42 L594.85,706.95 L596.00,707.51 L597.15,708.10 L598.31,708.70 L599.46,709.33 L600.61,709.99 L601.76,710.66 L602.91,711.35 L604.06,712.06 L605.21,712.78 L606.37,713.50 L607.52,714.23 L608.67,714.96 L609.82,715.71 L610.97,716.46 L612.12,717.23 L613.28,718.00 L614.43,718.78 L615.58,719.58 L616.73,720.38 L617.88,721.20 L619.03,722.03 L620.18,722.87 L621.34,723.71 L622.49,724.56 L623.64,725.41 L624.79,726.27 L625.94,727.13 L627.09,728.00 L628.25,728.87 L629.40,729.74 L630.55,730.62 L631.70,731.49 L632.85,732.38 L634.00,733.26 L635.15,734.15 L636.31,735.05 L637.46,735.96 L638.61,736.89 L639.76,737.82 L640.91,738.76 L642.06,739.70 L643.21,740.65 L644.37,741.60 L645.52,742.54 L646.67,743.48 L647.82,744.42 L648.97,745.34 L650.12,746.27 L651.28,747.19 L652.43,748.14 L653.58,749.09 L654.73,750.07 L655.88,751.04 L657.03,752.02 L658.18,753.01 L659.34,753.98 L660.49,754.95 L661.64,755.90 L662.79,756.83 L663.94,757.75 L665.09,758.65 L666.24,759.54 L667.40,760.43 L668.55,761.33 L669.70,762.25 L670.85,763.17 L672.00,764.11 L673.15,765.03 L674.31,765.95 L675.46,766.86 L676.61,767.74 L677.76,768.58 L678.91,769.40 L680.06,770.18 L681.21,770.94 L682.37,771.69 L683.52,772.43 L684.67,773.16 L685.82,773.90 L686.97,774.65 L688.12,775.40 L689.27,776.14 L690.43,776.86 L691.58,777.57 L692.73,778.24 L693.88,778.89 L695.03,779.52 L696.18,780.13 L697.34,780.73 L698.49,781.33 L699.64,781.93 L700.79,782.53 L701.94,783.13 L703.09,783.73 L704.24,784.32 L705.40,784.91 L706.55,785.50 L707.70,786.07 L708.85,786.63 L710.00,787.17 L711.15,787.70 L712.30,788.20 L713.46,788.69 L714.61,789.17 L715.76,789.64 L716.91,790.09 L718.06,790.55 L719.21,791.00 L720.37,791.46 L721.52,791.94 L722.67,792.43 L723.82,792.92 L724.97,793.41 L726.12,793.90 L727.27,794.39 L728.43,794.87 L729.58,795.33 L730.73,795.78 L731.88,796.21 L733.03,796.63 L734.18,797.05 L735.33,797.46 L736.49,797.86 L737.64,798.26 L738.79,798.66 L739.94,799.04 L741.09,799.42 L742.24,799.79 L743.39,800.14 L744.55,800.48 L745.70,800.80 L746.85,801.11 L748.00,801.40 L749.15,801.69 L750.30,801.96 L751.46,802.23 L752.61,802.49 L753.76,802.74 L754.91,802.98 L756.06,803.21 L757.21,803.44 L758.36,803.65 L759.52,803.86 L760.67,804.06 L761.82,804.25 L762.97,804.43 L764.12,804.61 L765.27,804.79 L766.42,804.96 L767.58,805.13 L768.73,805.29 L769.88,805.45 L771.03,805.61 L772.18,805.76 L773.33,805.91 L774.49,806.05 L775.64,806.19 L776.79,806.33 L777.94,806.46 L779.09,806.59 L780.24,806.71 L781.39,806.83 L782.55,806.94 L783.70,807.05 L784.85,807.15 L786.00,807.24 L787.15,807.33 L788.30,807.41 L789.46,807.49 L790.61,807.56 L791.76,807.62 L792.91,807.68 L794.06,807.74 L795.21,807.80 L796.36,807.85 L797.52,807.90 L798.67,807.96 L799.82,808.01 L800.97,808.06 L802.12,808.12 L803.27,808.17 L804.42,808.22 L805.58,808.28 L806.73,808.33 L807.88,808.39 L809.03,808.44 L810.18,808.50 L811.33,808.56 L812.49,808.62 L813.64,808.68 L814.79,808.74 L815.94,808.81 L817.09,808.88 L818.24,808.95 L819.39,809.02 L820.55,809.09 L821.70,809.17 L822.85,809.24 L824.00,809.32" fill="none" stroke="#fcce25" stroke-width="4.15" stroke-linejoin="round" stroke-linecap="square"/>
<path d="M133.10,811.74 L134.25,811.74 L135.40,811.74 L136.55,811.74 L137.71,811.74 L138.86,811.74 L140.01,811.74 L141.16,811.74 L142.31,811.74 L143.46,811.74 L144.62,811.74 L145.77,811.74 L146.92,811.74 L148.07,811.73 L149.22,811.73 L150.37,811.73 L151.52,811.73 L152.68,811.73 L153.83,811.73 L154.98,811.73 L156.13,811.73 L157.28,811.73 L158.43,811.73 L159.58,811.73 L160.74,811.73 L161.89,811.73 L163.04,811.73 L164.19,811.73 L165.34,811.73 L166.49,811.73 L167.64,811.72 L168.80,811.72 L169.95,811.72 L171.10,811.72 L172.25,811.72 L173.40,811.72 L174.55,811.72 L175.71,811.72 L176.86,811.71 L178.01,811.71 L179.16,811.71 L180.31,811.71 L181.46,811.71 L182.61,811.70 L183.77,811.70 L184.92,811.70 L186.07,811.70 L187.22,811.69 L188.37,811.69 L189.52,811.69 L190.68,811.68 L191.83,811.68 L192.98,811.68 L194.13,811.67 L195.28,811.67 L196.43,811.67 L197.58,811.66 L198.74,811.66 L199.89,811.65 L201.04,811.65 L202.19,811.64 L203.34,811.63 L204.49,811.63 L205.64,811.62 L206.80,811.61 L207.95,811.61 L209.10,811.60 L210.25,811.59 L211.40,811.58 L212.55,811.57 L213.71,811.56 L214.86,811.55 L216.01,811.53 L217.16,811.52 L218.31,811.51 L219.46,811.49 L220.61,811.48 L221.77,811.46 L222.92,811.44 L224.07,811.43 L225.22,811.41 L226.37,811.39 L227.52,811.37 L228.67,811.35 L229.83,811.32 L230.98,811.30 L232.13,811.27 L233.28,811.25 L234.43,811.22 L235.58,811.19 L236.73,811.17 L237.89,811.14 L239.04,811.11 L240.19,811.08 L241.34,811.06 L242.49,811.03 L243.64,811.00 L244.80,810.96 L245.95,810.93 L247.10,810.89 L248.25,810.86 L249.40,810.81 L250.55,810.77 L251.70,810.73 L252.86,810.68 L254.01,810.64 L255.16,810.59 L256.31,810.54 L257.46,810.49 L258.61,810.44 L259.76,810.39 L260.92,810.33 L262.07,810.28 L263.22,810.22 L264.37,810.16 L265.52,810.09 L266.67,810.02 L267.83,809.95 L268.98,809.88 L270.13,809.80 L271.28,809.72 L272.43,809.64 L273.58,809.56 L274.73,809.47 L275.89,809.39 L277.04,809.30 L278.19,809.21 L279.34,809.11 L280.49,809.00 L281.64,808.89 L282.80,808.78 L283.95,808.66 L285.10,808.53 L286.25,808.40 L287.40,808.27 L288.55,808.14 L289.70,808.01 L290.86,807.88 L292.01,807.75 L293.16,807.61 L294.31,807.47 L295.46,807.33 L296.61,807.17 L297.76,807.02 L298.92,806.86 L300.07,806.69 L301.22,806.52 L302.37,806.35 L303.52,806.18 L304.67,806.01 L305.82,805.84 L306.98,805.67 L308.13,805.50 L309.28,805.32 L310.43,805.14 L311.58,804.96 L312.73,804.77 L313.89,804.58 L315.04,804.39 L316.19,804.20 L317.34,804.00 L318.49,803.80 L319.64,803.61 L320.79,803.41 L321.95,803.21 L323.10,803.01 L324.25,802.82 L325.40,802.62 L326.55,802.42 L327.70,802.21 L328.86,802.01 L330.01,801.80 L331.16,801.60 L332.31,801.39 L333.46,801.18 L334.61,800.97 L335.76,800.76 L336.92,800.55 L338.07,800.34 L339.22,800.12 L340.37,799.91 L341.52,799.70 L342.67,799.49 L343.82,799.29 L344.98,799.08 L346.13,798.87 L347.28,798.67 L348.43,798.47 L349.58,798.26 L350.73,798.06 L351.88,797.86 L353.04,797.66 L354.19,797.46 L355.34,797.26 L356.49,797.06 L357.64,796.88 L358.79,796.69 L359.95,796.51 L361.10,796.34 L362.25,796.18 L363.40,796.02 L364.55,795.86 L365.70,795.72 L366.85,795.57 L368.01,795.44 L369.16,795.31 L370.31,795.19 L371.46,795.07 L372.61,794.97 L373.76,794.87 L374.92,794.79 L376.07,794.72 L377.22,794.66 L378.37,794.61 L379.52,794.58 L380.67,794.55 L381.82,794.53 L382.98,794.52 L384.13,794.52 L385.28,794.53 L386.43,794.54 L387.58,794.56 L388.73,794.59 L389.88,794.62 L391.04,794.66 L392.19,794.71 L393.34,794.76 L394.49,794.82 L395.64,794.89 L396.79,794.97 L397.95,795.05 L399.10,795.14 L400.25,795.24 L401.40,795.35 L402.55,795.46 L403.70,795.58 L404.85,795.71 L406.01,795.84 L407.16,795.99 L408.31,796.15 L409.46,796.31 L410.61,796.49 L411.76,796.68 L412.91,796.88 L414.07,797.09 L415.22,797.31 L416.37,797.53 L417.52,797.77 L418.67,798.00 L419.82,798.25 L420.98,798.49 L422.13,798.74 L423.28,799.00 L424.43,799.26 L425.58,799.52 L426.73,799.78 L427.88,800.05 L429.04,800.33 L430.19,800.61 L431.34,800.89 L432.49,801.18 L433.64,801.46 L434.79,801.75 L435.94,802.05 L437.10,802.34 L438.25,802.63 L439.40,802.92 L440.55,803.22 L441.70,803.51 L442.85,803.80 L444.01,804.08 L445.16,804.36 L446.31,804.64 L447.46,804.91 L448.61,805.18 L449.76,805.45 L450.91,805.71 L452.07,805.96 L453.22,806.21 L454.37,806.46 L455.52,806.71 L456.67,806.95 L457.82,807.18 L458.97,807.41 L460.13,807.63 L461.28,807.85 L462.43,808.05 L463.58,808.24 L464.73,808.43 L465.88,808.59 L467.04,808.75 L468.19,808.89 L469.34,809.02 L470.49,809.14 L471.64,809.24 L472.79,809.33 L473.94,809.40 L475.10,809.46 L476.25,809.50 L477.40,809.53 L478.55,809.54 L479.70,809.53 L480.85,809.50 L482.00,809.46 L483.16,809.40 L484.31,809.33 L485.46,809.24 L486.61,809.14 L487.76,809.02 L488.91,808.89 L490.06,808.75 L491.22,808.59 L492.37,808.43 L493.52,808.24 L494.67,808.05 L495.82,807.85 L496.97,807.63 L498.13,807.41 L499.28,807.18 L500.43,806.95 L501.58,806.71 L502.73,806.46 L503.88,806.21 L505.03,805.96 L506.19,805.71 L507.34,805.45 L508.49,805.18 L509.64,804.91 L510.79,804.64 L511.94,804.36 L513.10,804.08 L514.25,803.80 L515.40,803.51 L516.55,803.22 L517.70,802.92 L518.85,802.63 L520.00,802.34 L521.16,802.05 L522.31,801.75 L523.46,801.46 L524.61,801.18 L525.76,800.89 L526.91,800.61 L528.06,800.33 L529.22,800.06 L530.37,799.78 L531.52,799.52 L532.67,799.26 L533.82,799.00 L534.97,798.74 L536.12,798.49 L537.28,798.25 L538.43,798.00 L539.58,797.77 L540.73,797.53 L541.88,797.31 L543.03,797.09 L544.19,796.88 L545.34,796.68 L546.49,796.49 L547.64,796.31 L548.79,796.15 L549.94,795.99 L551.09,795.84 L552.25,795.71 L553.40,795.58 L554.55,795.46 L555.70,795.35 L556.85,795.24 L558.00,795.14 L559.15,795.05 L560.31,794.97 L561.46,794.89 L562.61,794.82 L563.76,794.76 L564.91,794.71 L566.06,794.66 L567.22,794.62 L568.37,794.59 L569.52,794.56 L570.67,794.54 L571.82,794.53 L572.97,794.52 L574.12,794.52 L575.28,794.53 L576.43,794.55 L577.58,794.58 L578.73,794.61 L579.88,794.66 L581.03,794.72 L582.18,794.79 L583.34,794.87 L584.49,794.97 L585.64,795.07 L586.79,795.19 L587.94,795.31 L589.09,795.44 L590.25,795.57 L591.40,795.72 L592.55,795.86 L593.70,796.02 L594.85,796.18 L596.00,796.34 L597.15,796.51 L598.31,796.69 L599.46,796.88 L600.61,797.06 L601.76,797.26 L602.91,797.46 L604.06,797.66 L605.21,797.86 L606.37,798.06 L607.52,798.26 L608.67,798.47 L609.82,798.67 L610.97,798.87 L612.12,799.08 L613.28,799.29 L614.43,799.49 L615.58,799.70 L616.73,799.91 L617.88,800.12 L619.03,800.34 L620.18,800.55 L621.34,800.76 L622.49,800.97 L623.64,801.18 L624.79,801.39 L625.94,801.60 L627.09,801.80 L628.25,802.01 L629.40,802.21 L630.55,802.42 L631.70,802.62 L632.85,802.82 L634.00,803.01 L635.15,803.21 L636.31,803.41 L637.46,803.61 L638.61,803.80 L639.76,804.00 L640.91,804.20 L642.06,804.39 L643.21,804.58 L644.37,804.77 L645.52,804.96 L646.67,805.14 L647.82,805.32 L648.97,805.50 L650.12,805.67 L651.28,805.84 L652.43,806.01 L653.58,806.18 L654.73,806.35 L655.88,806.52 L657.03,806.69 L658.18,806.86 L659.34,807.02 L660.49,807.17 L661.64,807.33 L662.79,807.47 L663.94,807.61 L665.09,807.75 L666.24,807.88 L667.40,808.01 L668.55,808.14 L669.70,808.27 L670.85,808.40 L672.00,808.53 L673.15,808.66 L674.31,808.78 L675.46,808.89 L676.61,809.00 L677.76,809.11 L678.91,809.21 L680.06,809.30 L681.21,809.39 L682.37,809.47 L683.52,809.56 L684.67,809.64 L685.82,809.72 L686.97,809.80 L688.12,809.88 L689.27,809.95 L690.43,810.02 L691.58,810.09 L692.73,810.16 L693.88,810.22 L695.03,810.28 L696.18,810.33 L697.34,810.39 L698.49,810.44 L699.64,810.49 L700.79,810.54 L701.94,810.59 L703.09,810.64 L704.24,810.68 L705.40,810.73 L706.55,810.77 L707.70,810.81 L708.85,810.86 L710.00,810.89 L711.15,810.93 L712.30,810.96 L713.46,811.00 L714.61,811.03 L715.76,811.06 L716.91,811.08 L718.06,811.11 L719.21,811.14 L720.37,811.17 L721.52,811.19 L722.67,811.22 L723.82,811.25 L724.97,811.27 L726.12,811.30 L727.27,811.32 L728.43,811.35 L729.58,811.37 L730.73,811.39 L731.88,811.41 L733.03,811.43 L734.18,811.44 L735.33,811.46 L736.49,811.48 L737.64,811.49 L738.79,811.51 L739.94,811.52 L741.09,811.53 L742.24,811.55 L743.39,811.56 L744.55,811.57 L745.70,811.58 L746.85,811.59 L748.00,811.60 L749.15,811.61 L750.30,811.61 L751.46,811.62 L752.61,811.63 L753.76,811.63 L754.91,811.64 L756.06,811.65 L757.21,811.65 L758.36,811.66 L759.52,811.66 L760.67,811.67 L761.82,811.67 L762.97,811.67 L764.12,811.68 L765.27,811.68 L766.42,811.68 L767.58,811.69 L768.73,811.69 L769.88,811.69 L771.03,811.70 L772.18,811.70 L773.33,811.70 L774.49,811.70 L775.64,811.71 L776.79,811.71 L777.94,811.71 L779.09,811.71 L780.24,811.71 L781.39,811.72 L782.55,811.72 L783.70,811.72 L784.85,811.72 L786.00,811.72 L787.15,811.72 L788.30,811.72 L789.46,811.72 L790.61,811.73 L791.76,811.73 L792.91,811.73 L794.06,811.73 L795.21,811.73 L796.36,811.73 L797.52,811.73 L798.67,811.73 L799.82,811.73 L800.97,811.73 L802.12,811.73 L803.27,811.73 L804.42,811.73 L805.58,811.73 L806.73,811.73 L807.88,811.73 L809.03,811.73 L810.18,811.74 L811.33,811.74 L812.49,811.74 L813.64,811.74 L814.79,811.74 L815.94,811.74 L817.09,811.74 L818.24,811.74 L819.39,811.74 L820.55,811.74 L821.70,811.74 L822.85,811.74 L824.00,811.74" fill="none" stroke="#fcce25" stroke-width="4.15" stroke-linejoin="round" stroke-dasharray="26.56 6.64 4.15 6.64"/>
<path d="M133.10,811.75 L134.25,811.75 L135.40,811.75 L136.55,811.75 L137.71,811.75 L138.86,811.75 L140.01,811.75 L141.16,811.75 L142.31,811.75 L143.46,811.75 L144.62,811.75 L145.77,811.75 L146.92,811.75 L148.07,811.75 L149.22,811.75 L150.37,811.75 L151.52,811.75 L152.68,811.75 L153.83,811.75 L154.98,811.75 L156.13,811.75 L157.28,811.75 L158.43,811.75 L159.58,811.75 L160.74,811.75 L161.89,811.75 L163.04,811.75 L164.19,811.75 L165.34,811.75 L166.49,811.75 L167.64,811.75 L168.80,811.75 L169.95,811.75 L171.10,811.75 L172.25,811.75 L173.40,811.75 L174.55,811.75 L175.71,811.75 L176.86,811.75 L178.01,811.75 L179.16,811.75 L180.31,811.75 L181.46,811.75 L182.61,811.75 L183.77,811.75 L184.92,811.75 L186.07,811.75 L187.22,811.75 L188.37,811.75 L189.52,811.75 L190.68,811.75 L191.83,811.75 L192.98,811.75 L194.13,811.75 L195.28,811.75 L196.43,811.75 L197.58,811.75 L198.74,811.75 L199.89,811.75 L201.04,811.75 L202.19,811.75 L203.34,811.75 L204.49,811.75 L205.64,811.75 L206.80,811.75 L207.95,811.75 L209.10,811.75 L210.25,811.75 L211.40,811.75 L212.55,811.75 L213.71,811.75 L214.86,811.75 L216.01,811.75 L217.16,811.75 L218.31,811.75 L219.46,811.75 L220.61,811.75 L221.77,811.75 L222.92,811.75 L224.07,811.75 L225.22,811.74 L226.37,811.74 L227.52,811.74 L228.67,811.74 L229.83,811.74 L230.98,811.74 L232.13,811.74 L233.28,811.74 L234.43,811.74 L235.58,811.74 L236.73,811.74 L237.89,811.74 L239.04,811.74 L240.19,811.74 L241.34,811.73 L242.49,811.73 L243.64,811.73 L244.80,811.73 L245.95,811.73 L247.10,811.73 L248.25,811.73 L249.40,811.73 L250.55,811.72 L251.70,811.72 L252.86,811.72 L254.01,811.72 L255.16,811.72 L256.31,811.71 L257.46,811.71 L258.61,811.71 L259.76,811.71 L260.92,811.70 L262.07,811.70 L263.22,811.70 L264.37,811.70 L265.52,811.69 L266.67,811.69 L267.83,811.69 L268.98,811.68 L270.13,811.68 L271.28,811.67 L272.43,811.67 L273.58,811.66 L274.73,811.66 L275.89,811.65 L277.04,811.65 L278.19,811.64 L279.34,811.63 L280.49,811.63 L281.64,811.62 L282.80,811.61 L283.95,811.60 L285.10,811.60 L286.25,811.59 L287.40,811.58 L288.55,811.57 L289.70,811.56 L290.86,811.55 L292.01,811.54 L293.16,811.52 L294.31,811.51 L295.46,811.50 L296.61,811.49 L297.76,811.47 L298.92,811.46 L300.07,811.44 L301.22,811.43 L302.37,811.41 L303.52,811.40 L304.67,811.38 L305.82,811.36 L306.98,811.35 L308.13,811.33 L309.28,811.31 L310.43,811.29 L311.58,811.28 L312.73,811.26 L313.89,811.24 L315.04,811.21 L316.19,811.19 L317.34,811.17 L318.49,811.15 L319.64,811.13 L320.79,811.10 L321.95,811.08 L323.10,811.06 L324.25,811.03 L325.40,811.01 L326.55,810.99 L327.70,810.96 L328.86,810.93 L330.01,810.91 L331.16,810.88 L332.31,810.86 L333.46,810.83 L334.61,810.80 L335.76,810.77 L336.92,810.74 L338.07,810.72 L339.22,810.69 L340.37,810.66 L341.52,810.63 L342.67,810.60 L343.82,810.57 L344.98,810.54 L346.13,810.51 L347.28,810.48 L348.43,810.45 L349.58,810.42 L350.73,810.39 L351.88,810.36 L353.04,810.33 L354.19,810.30 L355.34,810.27 L356.49,810.24 L357.64,810.21 L358.79,810.18 L359.95,810.16 L361.10,810.13 L362.25,810.10 L363.40,810.08 L364.55,810.05 L365.70,810.03 L366.85,810.01 L368.01,809.98 L369.16,809.96 L370.31,809.94 L371.46,809.92 L372.61,809.91 L373.76,809.89 L374.92,809.88 L376.07,809.87 L377.22,809.86 L378.37,809.85 L379.52,809.84 L380.67,809.84 L381.82,809.83 L382.98,809.83 L384.13,809.83 L385.28,809.83 L386.43,809.84 L387.58,809.84 L388.73,809.84 L389.88,809.85 L391.04,809.86 L392.19,809.86 L393.34,809.87 L394.49,809.88 L395.64,809.89 L396.79,809.91 L397.95,809.92 L399.10,809.94 L400.25,809.95 L401.40,809.97 L402.55,809.99 L403.70,810.01 L404.85,810.03 L406.01,810.05 L407.16,810.07 L408.31,810.10 L409.46,810.12 L410.61,810.15 L411.76,810.18 L412.91,810.21 L414.07,810.25 L415.22,810.28 L416.37,810.31 L417.52,810.35 L418.67,810.38 L419.82,810.42 L420.98,810.46 L422.13,810.49 L423.28,810.53 L424.43,810.57 L425.58,810.60 L426.73,810.64 L427.88,810.68 L429.04,810.72 L430.19,810.75 L431.34,810.79 L432.49,810.83 L433.64,810.87 L434.79,810.90 L435.94,810.94 L437.10,810.98 L438.25,811.01 L439.40,811.05 L440.55,811.08 L441.70,811.12 L442.85,811.15 L444.01,811.18 L445.16,811.21 L446.31,811.24 L447.46,811.27 L448.61,811.30 L449.76,811.33 L450.91,811.35 L452.07,811.38 L453.22,811.40 L454.37,811.42 L455.52,811.45 L456.67,811.47 L457.82,811.49 L458.97,811.51 L460.13,811.53 L461.28,811.54 L462.43,811.56 L463.58,811.57 L464.73,811.59 L465.88,811.60 L467.04,811.61 L468.19,811.62 L469.34,811.63 L470.49,811.64 L471.64,811.64 L472.79,811.65 L473.94,811.65 L475.10,811.66 L476.25,811.66 L477.40,811.66 L478.55,811.66 L479.70,811.66 L480.85,811.66 L482.00,811.66 L483.16,811.65 L484.31,811.65 L485.46,811.64 L486.61,811.64 L487.76,811.63 L488.91,811.62 L490.06,811.61 L491.22,811.60 L492.37,811.59 L493.52,811.57 L494.67,811.56 L495.82,811.54 L496.97,811.53 L498.13,811.51 L499.28,811.49 L500.43,811.47 L501.58,811.45 L502.73,811.42 L503.88,811.40 L505.03,811.38 L506.19,811.35 L507.34,811.33 L508.49,811.30 L509.64,811.27 L510.79,811.24 L511.94,811.21 L513.10,811.18 L514.25,811.15 L515.40,811.12 L516.55,811.08 L517.70,811.05 L518.85,811.01 L520.00,810.98 L521.16,810.94 L522.31,810.90 L523.46,810.87 L524.61,810.83 L525.76,810.79 L526.91,810.75 L528.06,810.72 L529.22,810.68 L530.37,810.64 L531.52,810.60 L532.67,810.57 L533.82,810.53 L534.97,810.49 L536.12,810.46 L537.28,810.42 L538.43,810.38 L539.58,810.35 L540.73,810.31 L541.88,810.28 L543.03,810.25 L544.19,810.21 L545.34,810.18 L546.49,810.15 L547.64,810.12 L548.79,810.10 L549.94,810.07 L551.09,810.05 L552.25,810.03 L553.40,810.01 L554.55,809.99 L555.70,809.97 L556.85,809.95 L558.00,809.94 L559.15,809.92 L560.31,809.91 L561.46,809.89 L562.61,809.88 L563.76,809.87 L564.91,809.86 L566.06,809.86 L567.22,809.85 L568.37,809.84 L569.52,809.84 L570.67,809.84 L571.82,809.83 L572.97,809.83 L574.12,809.83 L575.28,809.83 L576.43,809.84 L577.58,809.84 L578.73,809.85 L579.88,809.86 L581.03,809.87 L582.18,809.88 L583.34,809.89 L584.49,809.91 L585.64,809.92 L586.79,809.94 L587.94,809.96 L589.09,809.98 L590.25,810.01 L591.40,810.03 L592.55,810.05 L593.70,810.08 L594.85,810.10 L596.00,810.13 L597.15,810.16 L598.31,810.18 L599.46,810.21 L600.61,810.24 L601.76,810.27 L602.91,810.30 L604.06,810.33 L605.21,810.36 L606.37,810.39 L607.52,810.42 L608.67,810.45 L609.82,810.48 L610.97,810.51 L612.12,810.54 L613.28,810.57 L614.43,810.60 L615.58,810.63 L616.73,810.66 L617.88,810.69 L619.03,810.72 L620.18,810.74 L621.34,810.77 L622.49,810.80 L623.64,810.83 L624.79,810.86 L625.94,810.88 L627.09,810.91 L628.25,810.93 L629.40,810.96 L630.55,810.99 L631.70,811.01 L632.85,811.03 L634.00,811.06 L635.15,811.08 L636.31,811.10 L637.46,811.13 L638.61,811.15 L639.76,811.17 L640.91,811.19 L642.06,811.21 L643.21,811.24 L644.37,811.26 L645.52,811.28 L646.67,811.29 L647.82,811.31 L648.97,811.33 L650.12,811.35 L651.28,811.36 L652.43,811.38 L653.58,811.40 L654.73,811.41 L655.88,811.43 L657.03,811.44 L658.18,811.46 L659.34,811.47 L660.49,811.49 L661.64,811.50 L662.79,811.51 L663.94,811.52 L665.09,811.54 L666.24,811.55 L667.40,811.56 L668.55,811.57 L669.70,811.58 L670.85,811.59 L672.00,811.60 L673.15,811.60 L674.31,811.61 L675.46,811.62 L676.61,811.63 L677.76,811.63 L678.91,811.64 L680.06,811.65 L681.21,811.65 L682.37,811.66 L683.52,811.66 L684.67,811.67 L685.82,811.67 L686.97,811.68 L688.12,811.68 L689.27,811.69 L690.43,811.69 L691.58,811.69 L692.73,811.70 L693.88,811.70 L695.03,811.70 L696.18,811.70 L697.34,811.71 L698.49,811.71 L699.64,811.71 L700.79,811.71 L701.94,811.72 L703.09,811.72 L704.24,811.72 L705.40,811.72 L706.55,811.72 L707.70,811.73 L708.85,811.73 L710.00,811.73 L711.15,811.73 L712.30,811.73 L713.46,811.73 L714.61,811.73 L715.76,811.73 L716.91,811.74 L718.06,811.74 L719.21,811.74 L720.37,811.74 L721.52,811.74 L722.67,811.74 L723.82,811.74 L724.97,811.74 L726.12,811.74 L727.27,811.74 L728.43,811.74 L729.58,811.74 L730.73,811.74 L731.88,811.74 L733.03,811.75 L734.18,811.75 L735.33,811.75 L736.49,811.75 L737.64,811.75 L738.79,811.75 L739.94,811.75 L741.09,811.75 L742.24,811.75 L743.39,811.75 L744.55,811.75 L745.70,811.75 L746.85,811.75 L748.00,811.75 L749.15,811.75 L750.30,811.75 L751.46,811.75 L752.61,811.75 L753.76,811.75 L754.91,811.75 L756.06,811.75 L757.21,811.75 L758.36,811.75 L759.52,811.75 L760.67,811.75 L761.82,811.75 L762.97,811.75 L764.12,811.75 L765.27,811.75 L766.42,811.75 L767.58,811.75 L768.73,811.75 L769.88,811.75 L771.03,811.75 L772.18,811.75 L773.33,811.75 L774.49,811.75 L775.64,811.75 L776.79,811.75 L777.94,811.75 L779.09,811.75 L780.24,811.75 L781.39,811.75 L782.55,811.75 L783.70,811.75 L784.85,811.75 L786.00,811.75 L787.15,811.75 L788.30,811.75 L789.46,811.75 L790.61,811.75 L791.76,811.75 L792.91,811.75 L794.06,811.75 L795.21,811.75 L796.36,811.75 L797.52,811.75 L798.67,811.75 L799.82,811.75 L800.97,811.75 L802.12,811.75 L803.27,811.75 L804.42,811.75 L805.58,811.75 L806.73,811.75 L807.88,811.75 L809.03,811.75 L810.18,811.75 L811.33,811.75 L812.49,811.75 L813.64,811.75 L814.79,811.75 L815.94,811.75 L817.09,811.75 L818.24,811.75 L819.39,811.75 L820.55,811.75 L821.70,811.75 L822.85,811.75 L824.00,811.75" fill="none" stroke="#fcce25" stroke-width="4.15" stroke-linejoin="round" stroke-dasharray="4.15 6.85"/>
<path d="M133.10,811.75 L134.25,811.75 L135.40,811.75 L136.55,811.75 L137.71,811.75 L138.86,811.75 L140.01,811.75 L141.16,811.75 L142.31,811.75 L143.46,811.75 L144.62,811.75 L145.77,811.75 L146.92,811.75 L148.07,811.75 L149.22,811.75 L150.37,811.75 L151.52,811.75 L152.68,811.75 L153.83,811.75 L154.98,811.75 L156.13,811.75 L157.28,811.75 L158.43,811.75 L159.58,811.75 L160.74,811.75 L161.89,811.75 L163.04,811.75 L164.19,811.75 L165.34,811.75 L166.49,811.75 L167.64,811.75 L168.80,811.75 L169.95,811.75 L171.10,811.75 L172.25,811.75 L173.40,811.75 L174.55,811.75 L175.71,811.75 L176.86,811.75 L178.01,811.75 L179.16,811.75 L180.31,811.75 L181.46,811.75 L182.61,811.75 L183.77,811.75 L184.92,811.75 L186.07,811.75 L187.22,811.75 L188.37,811.75 L189.52,811.75 L190.68,811.75 L191.83,811.75 L192.98,811.75 L194.13,811.75 L195.28,811.75 L196.43,811.75 L197.58,811.75 L198.74,811.75 L199.89,811.75 L201.04,811.75 L202.19,811.75 L203.34,811.75 L204.49,811.75 L205.64,811.75 L206.80,811.75 L207.95,811.75 L209.10,811.75 L210.25,811.75 L211.40,811.75 L212.55,811.75 L213.71,811.75 L214.86,811.75 L216.01,811.75 L217.16,811.75 L218.31,811.75 L219.46,811.75 L220.61,811.75 L221.77,811.75 L222.92,811.75 L224.07,811.75 L225.22,811.75 L226.37,811.75 L227.52,811.75 L228.67,811.75 L229.83,811.75 L230.98,811.75 L232.13,811.75 L233.28,811.75 L234.43,811.75 L235.58,811.75 L236.73,811.75 L237.89,811.75 L239.04,811.75 L240.19,811.75 L241.34,811.75 L242.49,811.75 L243.64,811.75 L244.80,811.75 L245.95,811.75 L247.10,811.75 L248.25,811.75 L249.40,811.75 L250.55,811.75 L251.70,811.75 L252.86,811.75 L254.01,811.75 L255.16,811.75 L256.31,811.75 L257.46,811.75 L258.61,811.75 L259.76,811.75 L260.92,811.75 L262.07,811.75 L263.22,811.75 L264.37,811.75 L265.52,811.75 L266.67,811.75 L267.83,811.75 L268.98,811.75 L270.13,811.75 L271.28,811.75 L272.43,811.75 L273.58,811.75 L274.73,811.75 L275.89,811.75 L277.04,811.75 L278.19,811.75 L279.34,811.75 L280.49,811.75 L281.64,811.75 L282.80,811.75 L283.95,811.75 L285.10,811.75 L286.25,811.75 L287.40,811.75 L288.55,811.75 L289.70,811.75 L290.86,811.75 L292.01,811.75 L293.16,811.75 L294.31,811.75 L295.46,811.75 L296.61,811.75 L297.76,811.75 L298.92,811.75 L300.07,811.75 L301.22,811.75 L302.37,811.75 L303.52,811.75 L304.67,811.75 L305.82,811.75 L306.98,811.75 L308.13,811.75 L309.28,811.75 L310.43,811.75 L311.58,811.75 L312.73,811.75 L313.89,811.75 L315.04,811.75 L316.19,811.75 L317.34,811.75 L318.49,811.75 L319.64,811.75 L320.79,811.75 L321.95,811.75 L323.10,811.75 L324.25,811.75 L325.40,811.75 L326.55,811.75 L327.70,811.75 L328.86,811.75 L330.01,811.75 L331.16,811.75 L332.31,811.75 L333.46,811.75 L334.61,811.75 L335.76,811.75 L336.92,811.75 L338.07,811.75 L339.22,811.75 L340.37,811.75 L341.52,811.75 L342.67,811.75 L343.82,811.75 L344.98,811.75 L346.13,811.75 L347.28,811.75 L348.43,811.75 L349.58,811.75 L350.73,811.75 L351.88,811.75 L353.04,811.75 L354.19,811.75 L355.34,811.75 L356.49,811.75 L357.64,811.75 L358.79,811.75 L359.95,811.75 L361.10,811.75 L362.25,811.75 L363.40,811.75 L364.55,811.75 L365.70,811.75 L366.85,811.75 L368.01,811.75 L369.16,811.75 L370.31,811.75 L371.46,811.75 L372.61,811.75 L373.76,811.75 L374.92,811.75 L376.07,811.75 L377.22,811.75 L378.37,811.75 L379.52,811.75 L380.67,811.75 L381.82,811.75 L382.98,811.75 L384.13,811.75 L385.28,811.75 L386.43,811.75 L387.58,811.75 L388.73,811.75 L389.88,811.75 L391.04,811.75 L392.19,811.75 L393.34,811.75 L394.49,811.75 L395.64,811.75 L396.79,811.75 L397.95,811.75 L399.10,811.75 L400.25,811.75 L401.40,811.75 L402.55,811.75 L403.70,811.75 L404.85,811.75 L406.01,811.75 L407.16,811.75 L408.31,811.75 L409.46,811.75 L410.61,811.75 L411.76,811.75 L412.91,811.75 L414.07,811.75 L415.22,811.75 L416.37,811.75 L417.52,811.75 L418.67,811.75 L419.82,811.75 L420.98,811.75 L422.13,811.75 L423.28,811.75 L424.43,811.75 L425.58,811.75 L426.73,811.75 L427.88,811.75 L429.04,811.75 L430.19,811.75 L431.34,811.75 L432.49,811.75 L433.64,811.75 L434.79,811.75 L435.94,811.75 L437.10,811.75 L438.25,811.75 L439.40,811.75 L440.55,811.75 L441.70,811.75 L442.85,811.75 L444.01,811.75 L445.16,811.75 L446.31,811.75 L447.46,811.75 L448.61,811.75 L449.76,811.75 L450.91,811.75 L452.07,811.75 L453.22,811.75 L454.37,811.75 L455.52,811.75 L456.67,811.75 L457.82,811.75 L458.97,811.75 L460.13,811.75 L461.28,811.75 L462.43,811.75 L463.58,811.75 L464.73,811.75 L465.88,811.75 L467.04,811.75 L468.19,811.75 L469.34,811.75 L470.49,811.75 L471.64,811.75 L472.79,811.75 L473.94,811.75 L475.10,811.75 L476.25,811.75 L477.40,811.75 L478.55,811.75 L479.70,811.75 L480.85,811.75 L482.00,811.75 L483.16,811.75 L484.31,811.75 L485.46,811.75 L486.61,811.75 L487.76,811.75 L488.91,811.75 L490.06,811.75 L491.22,811.75 L492.37,811.75 L493.52,811.75 L494.67,811.75 L495.82,811.75 L496.97,811.75 L498.13,811.75 L499.28,811.75 L500.43,811.75 L501.58,811.75 L502.73,811.75 L503.88,811.75 L505.03,811.75 L506.19,811.75 L507.34,811.75 L508.49,811.75 L509.64,811.75 L510.79,811.75 L511.94,811.75 L513.10,811.75 L514.25,811.75 L515.40,811.75 L516.55,811.75 L517.70,811.75 L518.85,811.75 L520.00,811.75 L521.16,811.75 L522.31,811.75 L523.46,811.75 L524.61,811.75 L525.76,811.75 L526.91,811.75 L528.06,811.75 L529.22,811.75 L530.37,811.75 L531.52,811.75 L532.67,811.75 L533.82,811.75 L534.97,811.75 L536.12,811.75 L537.28,811.75 L538.43,811.75 L539.58,811.75 L540.73,811.75 L541.88,811.75 L543.03,811.75 L544.19,811.75 L545.34,811.75 L546.49,811.75 L547.64,811.75 L548.79,811.75 L549.94,811.75 L551.09,811.75 L552.25,811.75 L553.40,811.75 L554.55,811.75 L555.70,811.75 L556.85,811.75 L558.00,811.75 L559.15,811.75 L560.31,811.75 L561.46,811.75 L562.61,811.75 L563.76,811.75 L564.91,811.75 L566.06,811.75 L567.22,811.75 L568.37,811.75 L569.52,811.75 L570.67,811.75 L571.82,811.75 L572.97,811.75 L574.12,811.75 L575.28,811.75 L576.43,811.75 L577.58,811.75 L578.73,811.75 L579.88,811.75 L581.03,811.75 L582.18,811.75 L583.34,811.75 L584.49,811.75 L585.64,811.75 L586.79,811.75 L587.94,811.75 L589.09,811.75 L590.25,811.75 L591.40,811.75 L592.55,811.75 L593.70,811.75 L594.85,811.75 L596.00,811.75 L597.15,811.75 L598.31,811.75 L599.46,811.75 L600.61,811.75 L601.76,811.75 L602.91,811.75 L604.06,811.75 L605.21,811.75 L606.37,811.75 L607.52,811.75 L608.67,811.75 L609.82,811.75 L610.97,811.75 L612.12,811.75 L613.28,811.75 L614.43,811.75 L615.58,811.75 L616.73,811.75 L617.88,811.75 L619.03,811.75 L620.18,811.75 L621.34,811.75 L622.49,811.75 L623.64,811.75 L624.79,811.75 L625.94,811.75 L627.09,811.75 L628.25,811.75 L629.40,811.75 L630.55,811.75 L631.70,811.75 L632.85,811.75 L634.00,811.75 L635.15,811.75 L636.31,811.75 L637.46,811.75 L638.61,811.75 L639.76,811.75 L640.91,811.75 L642.06,811.75 L643.21,811.75 L644.37,811.75 L645.52,811.75 L646.67,811.75 L647.82,811.75 L648.97,811.75 L650.12,811.75 L651.28,811.75 L652.43,811.75 L653.58,811.75 L654.73,811.75 L655.88,811.75 L657.03,811.75 L658.18,811.75 L659.34,811.75 L660.49,811.75 L661.64,811.75 L662.79,811.75 L663.94,811.75 L665.09,811.75 L666.24,811.75 L667.40,811.75 L668.55,811.75 L669.70,811.75 L670.85,811.75 L672.00,811.75 L673.15,811.75 L674.31,811.75 L675.46,811.75 L676.61,811.75 L677.76,811.75 L678.91,811.75 L680.06,811.75 L681.21,811.75 L682.37,811.75 L683.52,811.75 L684.67,811.75 L685.82,811.75 L686.97,811.75 L688.12,811.75 L689.27,811.75 L690.43,811.75 L691.58,811.75 L692.73,811.75 L693.88,811.75 L695.03,811.75 L696.18,811.75 L697.34,811.75 L698.49,811.75 L699.64,811.75 L700.79,811.75 L701.94,811.75 L703.09,811.75 L704.24,811.75 L705.40,811.75 L706.55,811.75 L707.70,811.75 L708.85,811.75 L710.00,811.75 L711.15,811.75 L712.30,811.75 L713.46,811.75 L714.61,811.75 L715.76,811.75 L716.91,811.75 L718.06,811.75 L719.21,811.75 L720.37,811.75 L721.52,811.75 L722.67,811.75 L723.82,811.75 L724.97,811.75 L726.12,811.75 L727.27,811.75 L728.43,811.75 L729.58,811.75 L730.73,811.75 L731.88,811.75 L733.03,811.75 L734.18,811.75 L735.33,811.75 L736.49,811.75 L737.64,811.75 L738.79,811.75 L739.94,811.75 L741.09,811.75 L742.24,811.75 L743.39,811.75 L744.55,811.75 L745.70,811.75 L746.85,811.75 L748.00,811.75 L749.15,811.75 L750.30,811.75 L751.46,811.75 L752.61,811.75 L753.76,811.75 L754.91,811.75 L756.06,811.75 L757.21,811.75 L758.36,811.75 L759.52,811.75 L760.67,811.75 L761.82,811.75 L762.97,811.75 L764.12,811.75 L765.27,811.75 L766.42,811.75 L767.58,811.75 L768.73,811.75 L769.88,811.75 L771.03,811.75 L772.18,811.75 L773.33,811.75 L774.49,811.75 L775.64,811.75 L776.79,811.75 L777.94,811.75 L779.09,811.75 L780.24,811.75 L781.39,811.75 L782.55,811.75 L783.70,811.75 L784.85,811.75 L786.00,811.75 L787.15,811.75 L788.30,811.75 L789.46,811.75 L790.61,811.75 L791.76,811.75 L792.91,811.75 L794.06,811.75 L795.21,811.75 L796.36,811.75 L797.52,811.75 L798.67,811.75 L799.82,811.75 L800.97,811.75 L802.12,811.75 L803.27,811.75 L804.42,811.75 L805.58,811.75 L806.73,811.75 L807.88,811.75 L809.03,811.75 L810.18,811.75 L811.33,811.75 L812.49,811.75 L813.64,811.75 L814.79,811.75 L815.94,811.75 L817.09,811.75 L818.24,811.75 L819.39,811.75 L820.55,811.75 L821.70,811.75 L822.85,811.75 L824.00,811.75" fill="none" stroke="#fcce25" stroke-width="4.15" stroke-linejoin="round" stroke-linecap="square"/></g>
<rect x="133.1" y="15.0" width="690.9" height="380.9" fill="none" stroke="#000" stroke-width="2"/>
<line x1="126" y1="392.2" x2="133.1" y2="392.2" stroke="#000" stroke-width="1.6"/>
<line x1="126" y1="205.5" x2="133.1" y2="205.5" stroke="#000" stroke-width="1.6"/>
<line x1="126" y1="18.8" x2="133.1" y2="18.8" stroke="#000" stroke-width="1.6"/>
<line x1="248.2" y1="395.9" x2="248.2" y2="403.1" stroke="#000" stroke-width="1.6"/>
<line x1="478.6" y1="395.9" x2="478.6" y2="403.1" stroke="#000" stroke-width="1.6"/>
<line x1="708.9" y1="395.9" x2="708.9" y2="403.1" stroke="#000" stroke-width="1.6"/>
<rect x="133.1" y="434.1" width="690.9" height="381.3" fill="none" stroke="#000" stroke-width="2"/>
<line x1="126" y1="811.8" x2="133.1" y2="811.8" stroke="#000" stroke-width="1.6"/>
<line x1="126" y1="624.9" x2="133.1" y2="624.9" stroke="#000" stroke-width="1.6"/>
<line x1="126" y1="438.0" x2="133.1" y2="438.0" stroke="#000" stroke-width="1.6"/>
<line x1="248.2" y1="815.4" x2="248.2" y2="822.6" stroke="#000" stroke-width="1.6"/>
<line x1="478.6" y1="815.4" x2="478.6" y2="822.6" stroke="#000" stroke-width="1.6"/>
<line x1="708.9" y1="815.4" x2="708.9" y2="822.6" stroke="#000" stroke-width="1.6"/>
<text x="69.39" y="406.80" font-size="42.40" textLength="50.43" lengthAdjust="spacingAndGlyphs">0.0</text>
<text x="69.39" y="220.07" font-size="42.40" textLength="50.43" lengthAdjust="spacingAndGlyphs">0.5</text>
<text x="69.04" y="33.35" font-size="42.40" textLength="50.78" lengthAdjust="spacingAndGlyphs">1.0</text>
<text x="69.39" y="826.35" font-size="42.40" textLength="50.43" lengthAdjust="spacingAndGlyphs">0.0</text>
<text x="69.39" y="639.48" font-size="42.40" textLength="50.43" lengthAdjust="spacingAndGlyphs">0.5</text>
<text x="69.04" y="452.60" font-size="42.40" textLength="50.78" lengthAdjust="spacingAndGlyphs">1.0</text>
<rect x="226" y="846.6" width="25.5" height="2.2" fill="#000"/>
<text x="253.90" y="858.30" font-size="42.40" textLength="21.12" lengthAdjust="spacingAndGlyphs">2</text>
<text x="468.92" y="858.30" font-size="42.40" textLength="19.76" lengthAdjust="spacingAndGlyphs">0</text>
<text x="699.19" y="858.30" font-size="42.40" textLength="20.13" lengthAdjust="spacingAndGlyphs">2</text>
<text x="442.10" y="911.65" font-size="55.13" font-style="italic" textLength="16.67" lengthAdjust="spacingAndGlyphs">t</text>
<line x1="482.2" y1="874.4" x2="463.6" y2="924.5" stroke="#000" stroke-width="2.3"/>
<text x="483.63" y="912.00" font-size="52.06" font-style="italic" textLength="31.85" lengthAdjust="spacingAndGlyphs">T</text>
<text x="-2.10" y="34.33" font-size="50.55" textLength="15.54" lengthAdjust="spacingAndGlyphs">(</text>
<text x="15.73" y="33.47" font-size="43.33" font-weight="bold" textLength="23.83" lengthAdjust="spacingAndGlyphs">a</text>
<text x="40.53" y="34.47" font-size="51.11" textLength="16.27" lengthAdjust="spacingAndGlyphs">)</text>
<text x="-2.10" y="453.33" font-size="50.55" textLength="15.54" lengthAdjust="spacingAndGlyphs">(</text>
<text x="15.70" y="453.15" font-size="45.11" font-weight="bold" textLength="27.60" lengthAdjust="spacingAndGlyphs">b</text>
<text x="44.33" y="453.47" font-size="51.11" textLength="16.27" lengthAdjust="spacingAndGlyphs">)</text>
<line x1="7" y1="279.8" x2="56.4" y2="279.8" stroke="#000" stroke-width="2.3"/>
<line x1="7" y1="130.7" x2="56.4" y2="130.7" stroke="#000" stroke-width="2.3"/>
<g transform="translate(0,205.45) rotate(-90)">
<text x="-66.46" y="44.43" font-size="47.29" font-style="italic" textLength="20.16" lengthAdjust="spacingAndGlyphs">c</text>
<text x="-44.52" y="53.88" font-size="38.68" textLength="12.02" lengthAdjust="spacingAndGlyphs">(</text>
<text x="-33.21" y="50.59" font-size="31.49" font-style="italic" textLength="13.84" lengthAdjust="spacingAndGlyphs">b</text>
<text x="-18.35" y="53.44" font-size="40.39" textLength="8.45" lengthAdjust="spacingAndGlyphs">,</text>
<text x="-10.51" y="49.20" font-size="28.78" font-style="italic" textLength="8.79" lengthAdjust="spacingAndGlyphs">l</text>
<text x="0.94" y="53.99" font-size="39.11" textLength="11.78" lengthAdjust="spacingAndGlyphs">)</text>
<text x="17.81" y="44.76" font-size="54.62" textLength="14.55" lengthAdjust="spacingAndGlyphs" style="stroke-width:1.1px">(</text>
<text x="31.24" y="44.25" font-size="54.96" font-style="italic" textLength="15.78" lengthAdjust="spacingAndGlyphs">t</text>
<text x="50.93" y="44.90" font-size="55.22" textLength="14.71" lengthAdjust="spacingAndGlyphs" style="stroke-width:1.1px">)</text>
</g>
<line x1="7" y1="699.1" x2="56.4" y2="699.1" stroke="#000" stroke-width="2.3"/>
<line x1="7" y1="550.0" x2="56.4" y2="550.0" stroke="#000" stroke-width="2.3"/>
<g transform="translate(0,624.70) rotate(-90)">
<text x="-66.46" y="44.43" font-size="47.29" font-style="italic" textLength="20.16" lengthAdjust="spacingAndGlyphs">c</text>
<text x="-44.52" y="53.88" font-size="38.68" textLength="12.02" lengthAdjust="spacingAndGlyphs">(</text>
<text x="-33.21" y="50.59" font-size="31.49" font-style="italic" textLength="13.84" lengthAdjust="spacingAndGlyphs">b</text>
<text x="-18.35" y="53.44" font-size="40.39" textLength="8.45" lengthAdjust="spacingAndGlyphs">,</text>
<text x="-10.51" y="49.20" font-size="28.78" font-style="italic" textLength="8.79" lengthAdjust="spacingAndGlyphs">l</text>
<text x="0.94" y="53.99" font-size="39.11" textLength="11.78" lengthAdjust="spacingAndGlyphs">)</text>
<text x="17.81" y="44.76" font-size="54.62" textLength="14.55" lengthAdjust="spacingAndGlyphs" style="stroke-width:1.1px">(</text>
<text x="31.24" y="44.25" font-size="54.96" font-style="italic" textLength="15.78" lengthAdjust="spacingAndGlyphs">t</text>
<text x="50.93" y="44.90" font-size="55.22" textLength="14.71" lengthAdjust="spacingAndGlyphs" style="stroke-width:1.1px">)</text>
</g>
<rect x="148.0" y="79.2" width="154.7" height="251.8" rx="5.5" ry="5.5" fill="#fff" fill-opacity="0.8" stroke="#cccccc" stroke-width="2"/>
<text x="159.31" y="111.80" font-size="31.50" font-style="italic" textLength="15.66" lengthAdjust="spacingAndGlyphs">e</text>
<text x="174.05" y="111.80" font-size="31.50" font-style="italic" textLength="13.21" lengthAdjust="spacingAndGlyphs">v</text>
<text x="189.84" y="111.80" font-size="31.50" font-style="italic" textLength="18.23" lengthAdjust="spacingAndGlyphs">A</text>
<text x="235.56" y="111.80" font-size="31.50" textLength="9.93" lengthAdjust="spacingAndGlyphs">(</text>
<text x="247.67" y="111.80" font-size="31.50" font-style="italic" textLength="17.64" lengthAdjust="spacingAndGlyphs">ħ</text>
<text x="265.49" y="111.80" font-size="31.50" font-style="italic" textLength="18.41" lengthAdjust="spacingAndGlyphs">ω</text>
<text x="281.82" y="111.80" font-size="31.50" textLength="8.39" lengthAdjust="spacingAndGlyphs">)</text>
<text x="208.86" y="116.00" font-size="22.00" font-style="italic" textLength="10.94" lengthAdjust="spacingAndGlyphs">x</text>
<line x1="230" y1="90.5" x2="219" y2="118.6" stroke="#000" stroke-width="1.5"/>
<rect x="184.5" y="136.7" width="43.6" height="14.4" fill="#440154"/>
<text x="251.3" y="154.9" font-size="31" text-anchor="middle">1</text>
<rect x="184.5" y="176.9" width="43.6" height="14.4" fill="#3d4e8a"/>
<text x="251.3" y="195.1" font-size="31" text-anchor="middle">2</text>
<rect x="184.5" y="217.1" width="43.6" height="14.4" fill="#238a8d"/>
<text x="251.3" y="235.3" font-size="31" text-anchor="middle">3</text>
<rect x="184.5" y="257.3" width="43.6" height="14.4" fill="#4ac16d"/>
<text x="251.3" y="275.5" font-size="31" text-anchor="middle">4</text>
<rect x="184.5" y="297.5" width="43.6" height="14.4" fill="#dfe318"/>
<text x="251.3" y="315.7" font-size="31" text-anchor="middle">5</text>
<rect x="148.0" y="521.2" width="145.0" height="207.3" rx="5.5" ry="5.5" fill="#fff" fill-opacity="0.8" stroke="#cccccc" stroke-width="2"/>
<text x="198.68" y="571.43" font-size="27.02" font-style="italic" textLength="10.64" lengthAdjust="spacingAndGlyphs">τ</text>
<line x1="225.2" y1="550.3" x2="215" y2="578.1" stroke="#000" stroke-width="1.5"/>
<text x="225.84" y="571.70" font-size="30.38" font-style="italic" textLength="18.59" lengthAdjust="spacingAndGlyphs">T</text>
<rect x="169.1" y="596.0" width="43.8" height="14.6" fill="#0d0887"/>
<text x="227.80" y="613.80" font-size="30.60" textLength="37.61" lengthAdjust="spacingAndGlyphs">0.8</text>
<rect x="169.1" y="636.2" width="43.8" height="14.6" fill="#bf3984"/>
<text x="227.90" y="654.20" font-size="30.60" textLength="37.50" lengthAdjust="spacingAndGlyphs">1.0</text>
<rect x="169.1" y="676.4" width="43.8" height="14.6" fill="#fcce25"/>
<text x="227.86" y="694.50" font-size="30.60" textLength="38.01" lengthAdjust="spacingAndGlyphs">1.2</text>
<rect x="625.2" y="115.2" width="184.5" height="180.2" rx="5.5" ry="5.5" fill="#fff" fill-opacity="0.8" stroke="#cccccc" stroke-width="2"/>
<text x="636.59" y="147.90" font-size="27.90" textLength="91.75" lengthAdjust="spacingAndGlyphs">Indices:</text>
<text x="742.26" y="148.19" font-size="31.21" textLength="9.14" lengthAdjust="spacingAndGlyphs">(</text>
<text x="752.24" y="147.91" font-size="29.22" font-style="italic" textLength="11.69" lengthAdjust="spacingAndGlyphs">b</text>
<text x="765.21" y="147.71" font-size="35.29" textLength="7.41" lengthAdjust="spacingAndGlyphs">,</text>
<text x="777.22" y="147.90" font-size="29.21" font-style="italic" textLength="8.93" lengthAdjust="spacingAndGlyphs">l</text>
<text x="788.51" y="148.27" font-size="31.56" textLength="8.41" lengthAdjust="spacingAndGlyphs">)</text>
<line x1="646.0" y1="180.9" x2="680.8" y2="180.9" stroke="#000" stroke-width="4.2" stroke-dasharray="15.35 6.64"/>
<text x="704.73" y="191.20" font-size="28.80" textLength="61.03" lengthAdjust="spacingAndGlyphs">(0, 0)</text>
<line x1="644.0" y1="224.1" x2="682.8" y2="224.1" stroke="#000" stroke-width="4.2"/>
<text x="704.62" y="234.35" font-size="28.80" textLength="83.15" lengthAdjust="spacingAndGlyphs">(0, ±1)</text>
<line x1="646.0" y1="267.3" x2="680.8" y2="267.3" stroke="#000" stroke-width="4.2" stroke-dasharray="26.56 6.64 4.15 6.64"/>
<text x="704.62" y="277.50" font-size="28.80" textLength="83.15" lengthAdjust="spacingAndGlyphs">(0, ±2)</text>
<rect x="631.2" y="500.0" width="184.5" height="223.1" rx="5.5" ry="5.5" fill="#fff" fill-opacity="0.8" stroke="#cccccc" stroke-width="2"/>
<text x="642.59" y="532.70" font-size="27.90" textLength="91.75" lengthAdjust="spacingAndGlyphs">Indices:</text>
<text x="748.26" y="532.99" font-size="31.21" textLength="9.14" lengthAdjust="spacingAndGlyphs">(</text>
<text x="758.24" y="532.71" font-size="29.22" font-style="italic" textLength="11.69" lengthAdjust="spacingAndGlyphs">b</text>
<text x="771.21" y="532.51" font-size="35.29" textLength="7.41" lengthAdjust="spacingAndGlyphs">,</text>
<text x="783.22" y="532.70" font-size="29.21" font-style="italic" textLength="8.93" lengthAdjust="spacingAndGlyphs">l</text>
<text x="794.51" y="533.07" font-size="31.56" textLength="8.41" lengthAdjust="spacingAndGlyphs">)</text>
<line x1="652.0" y1="565.7" x2="686.8" y2="565.7" stroke="#000" stroke-width="4.2" stroke-dasharray="15.35 6.64"/>
<text x="710.73" y="576.00" font-size="28.80" textLength="61.03" lengthAdjust="spacingAndGlyphs">(0, 0)</text>
<line x1="650.0" y1="608.9" x2="688.8" y2="608.9" stroke="#000" stroke-width="4.2"/>
<text x="710.62" y="619.15" font-size="28.80" textLength="83.15" lengthAdjust="spacingAndGlyphs">(0, ±1)</text>
<line x1="652.0" y1="652.1" x2="686.8" y2="652.1" stroke="#000" stroke-width="4.2" stroke-dasharray="26.56 6.64 4.15 6.64"/>
<text x="710.62" y="662.30" font-size="28.80" textLength="83.15" lengthAdjust="spacingAndGlyphs">(0, ±2)</text>
<line x1="652.0" y1="695.3" x2="686.8" y2="695.3" stroke="#000" stroke-width="4.2" stroke-dasharray="4.15 6.85"/>
<text x="710.62" y="705.45" font-size="28.80" textLength="83.15" lengthAdjust="spacingAndGlyphs">(0, ±3)</text>
</svg></body></html>
